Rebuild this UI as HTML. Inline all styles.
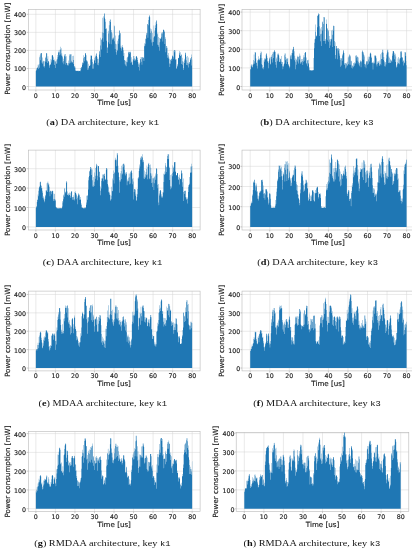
<!DOCTYPE html>
<html><head><meta charset="utf-8"><title>Power consumption</title>
<style>
html,body{margin:0;padding:0;background:#fff;}
body{width:412px;height:550px;overflow:hidden;}
svg{display:block;}
.tk{font-family:"DejaVu Sans","Liberation Sans",sans-serif;font-size:6.3px;fill:#1a1a1a;stroke:#1a1a1a;stroke-width:0.15px;}
.al{font-family:"DejaVu Sans","Liberation Sans",sans-serif;font-size:7.15px;fill:#1a1a1a;stroke:#1a1a1a;stroke-width:0.15px;}
.xl{font-size:7.1px;}
.cap{font-family:"Liberation Serif","DejaVu Serif",serif;font-size:9.2px;fill:#111;}
.cap .b{font-weight:bold;}
.cap .mono{font-family:"Liberation Mono",monospace;font-size:7.9px;}
</style></head><body>
<svg width="412" height="550" viewBox="0 0 412 550">
<rect width="412" height="550" fill="#fff"/>
<line x1="35.85" y1="9.3" x2="35.85" y2="90" stroke="#d4d4d4" stroke-width="0.5"/>
<line x1="55.39" y1="9.3" x2="55.39" y2="90" stroke="#d4d4d4" stroke-width="0.5"/>
<line x1="74.93" y1="9.3" x2="74.93" y2="90" stroke="#d4d4d4" stroke-width="0.5"/>
<line x1="94.47" y1="9.3" x2="94.47" y2="90" stroke="#d4d4d4" stroke-width="0.5"/>
<line x1="114.01" y1="9.3" x2="114.01" y2="90" stroke="#d4d4d4" stroke-width="0.5"/>
<line x1="133.55" y1="9.3" x2="133.55" y2="90" stroke="#d4d4d4" stroke-width="0.5"/>
<line x1="153.09" y1="9.3" x2="153.09" y2="90" stroke="#d4d4d4" stroke-width="0.5"/>
<line x1="172.63" y1="9.3" x2="172.63" y2="90" stroke="#d4d4d4" stroke-width="0.5"/>
<line x1="192.17" y1="9.3" x2="192.17" y2="90" stroke="#d4d4d4" stroke-width="0.5"/>
<line x1="28.3" y1="86.50" x2="200.1" y2="86.50" stroke="#d4d4d4" stroke-width="0.5"/>
<line x1="28.3" y1="68.45" x2="200.1" y2="68.45" stroke="#d4d4d4" stroke-width="0.5"/>
<line x1="28.3" y1="50.40" x2="200.1" y2="50.40" stroke="#d4d4d4" stroke-width="0.5"/>
<line x1="28.3" y1="32.35" x2="200.1" y2="32.35" stroke="#d4d4d4" stroke-width="0.5"/>
<line x1="28.3" y1="14.30" x2="200.1" y2="14.30" stroke="#d4d4d4" stroke-width="0.5"/>
<path d="M35.85,86.50 L35.85,70.95 L36.18,70.95 L36.18,70.12 L36.51,70.12 L36.51,68.75 L36.85,68.75 L36.85,68.06 L37.18,68.06 L37.18,67.13 L37.51,67.13 L37.51,67.78 L37.84,67.78 L37.84,64.72 L38.18,64.72 L38.18,65.57 L38.51,65.57 L38.51,69.12 L38.84,69.12 L38.84,64.00 L39.17,64.00 L39.17,67.78 L39.50,67.78 L39.50,57.15 L39.84,57.15 L39.84,55.44 L40.17,55.44 L40.17,60.36 L40.50,60.36 L40.50,53.76 L40.83,53.76 L40.83,53.11 L41.16,53.11 L41.16,53.11 L41.50,53.11 L41.50,53.21 L41.83,53.21 L41.83,62.64 L42.16,62.64 L42.16,57.53 L42.49,57.53 L42.49,63.64 L42.83,63.64 L42.83,61.81 L43.16,61.81 L43.16,60.84 L43.49,60.84 L43.49,66.59 L43.82,66.59 L43.82,60.94 L44.15,60.94 L44.15,65.95 L44.49,65.95 L44.49,67.53 L44.82,67.53 L44.82,61.34 L45.15,61.34 L45.15,56.66 L45.48,56.66 L45.48,57.98 L45.82,57.98 L45.82,62.11 L46.15,62.11 L46.15,53.35 L46.48,53.35 L46.48,53.11 L46.81,53.11 L46.81,53.38 L47.14,53.38 L47.14,63.10 L47.48,63.10 L47.48,58.82 L47.81,58.82 L47.81,56.26 L48.14,56.26 L48.14,60.91 L48.47,60.91 L48.47,61.27 L48.81,61.27 L48.81,62.13 L49.14,62.13 L49.14,65.54 L49.47,65.54 L49.47,67.84 L49.80,67.84 L49.80,64.67 L50.13,64.67 L50.13,64.14 L50.47,64.14 L50.47,64.85 L50.80,64.85 L50.80,59.04 L51.13,59.04 L51.13,62.60 L51.46,62.60 L51.46,60.22 L51.79,60.22 L51.79,55.40 L52.13,55.40 L52.13,54.91 L52.46,54.91 L52.46,54.91 L52.79,54.91 L52.79,55.67 L53.12,55.67 L53.12,57.13 L53.46,57.13 L53.46,59.88 L53.79,59.88 L53.79,60.29 L54.12,60.29 L54.12,59.55 L54.45,59.55 L54.45,64.91 L54.78,64.91 L54.78,61.19 L55.12,61.19 L55.12,61.83 L55.45,61.83 L55.45,68.12 L55.78,68.12 L55.78,60.92 L56.11,60.92 L56.11,59.46 L56.45,59.46 L56.45,63.76 L56.78,63.76 L56.78,63.43 L57.11,63.43 L57.11,54.91 L57.44,54.91 L57.44,59.21 L57.77,59.21 L57.77,57.37 L58.11,57.37 L58.11,52.82 L58.44,52.82 L58.44,52.01 L58.77,52.01 L58.77,50.41 L59.10,50.41 L59.10,52.27 L59.43,52.27 L59.43,55.25 L59.77,55.25 L59.77,49.73 L60.10,49.73 L60.10,46.79 L60.43,46.79 L60.43,49.42 L60.76,49.42 L60.76,54.44 L61.10,54.44 L61.10,48.25 L61.43,48.25 L61.43,55.83 L61.76,55.83 L61.76,53.15 L62.09,53.15 L62.09,55.67 L62.42,55.67 L62.42,57.13 L62.76,57.13 L62.76,62.44 L63.09,62.44 L63.09,61.09 L63.42,61.09 L63.42,58.85 L63.75,58.85 L63.75,64.14 L64.09,64.14 L64.09,56.31 L64.42,56.31 L64.42,55.21 L64.75,55.21 L64.75,54.01 L65.08,54.01 L65.08,54.01 L65.41,54.01 L65.41,56.39 L65.75,56.39 L65.75,64.73 L66.08,64.73 L66.08,56.27 L66.41,56.27 L66.41,62.99 L66.74,62.99 L66.74,63.07 L67.07,63.07 L67.07,65.06 L67.41,65.06 L67.41,65.54 L67.74,65.54 L67.74,63.57 L68.07,63.57 L68.07,65.47 L68.40,65.47 L68.40,60.40 L68.74,60.40 L68.74,63.03 L69.07,63.03 L69.07,63.60 L69.40,63.60 L69.40,55.61 L69.73,55.61 L69.73,54.01 L70.06,54.01 L70.06,54.01 L70.40,54.01 L70.40,54.80 L70.73,54.80 L70.73,62.85 L71.06,62.85 L71.06,54.37 L71.39,54.37 L71.39,60.75 L71.73,60.75 L71.73,62.37 L72.06,62.37 L72.06,62.56 L72.39,62.56 L72.39,62.33 L72.72,62.33 L72.72,56.11 L73.05,56.11 L73.05,55.85 L73.39,55.85 L73.39,60.11 L73.72,60.11 L73.72,63.89 L74.05,63.89 L74.05,67.51 L74.38,67.51 L74.38,66.28 L74.72,66.28 L74.72,66.03 L75.05,66.03 L75.05,67.45 L75.38,67.45 L75.38,70.60 L75.71,70.60 L75.71,70.68 L76.04,70.68 L76.04,70.69 L76.38,70.69 L76.38,70.91 L76.71,70.91 L76.71,70.75 L77.04,70.75 L77.04,70.86 L77.37,70.86 L77.37,70.73 L77.70,70.73 L77.70,71.01 L78.04,71.01 L78.04,70.63 L78.37,70.63 L78.37,71.13 L78.70,71.13 L78.70,70.78 L79.03,70.78 L79.03,70.91 L79.37,70.91 L79.37,70.70 L79.70,70.70 L79.70,71.03 L80.03,71.03 L80.03,70.18 L80.36,70.18 L80.36,71.13 L80.69,71.13 L80.69,68.12 L81.03,68.12 L81.03,67.00 L81.36,67.00 L81.36,66.72 L81.69,66.72 L81.69,68.54 L82.02,68.54 L82.02,64.73 L82.36,64.73 L82.36,62.22 L82.69,62.22 L82.69,63.11 L83.02,63.11 L83.02,63.16 L83.35,63.16 L83.35,55.29 L83.68,55.29 L83.68,58.15 L84.02,58.15 L84.02,61.31 L84.35,61.31 L84.35,57.06 L84.68,57.06 L84.68,56.83 L85.01,56.83 L85.01,54.27 L85.34,54.27 L85.34,53.11 L85.68,53.11 L85.68,53.11 L86.01,53.11 L86.01,55.28 L86.34,55.28 L86.34,59.95 L86.67,59.95 L86.67,61.19 L87.01,61.19 L87.01,60.84 L87.34,60.84 L87.34,61.73 L87.67,61.73 L87.67,69.69 L88.00,69.69 L88.00,69.38 L88.33,69.38 L88.33,63.70 L88.67,63.70 L88.67,67.78 L89.00,67.78 L89.00,65.43 L89.33,65.43 L89.33,65.88 L89.66,65.88 L89.66,65.91 L90.00,65.91 L90.00,59.38 L90.33,59.38 L90.33,65.30 L90.66,65.30 L90.66,55.54 L90.99,55.54 L90.99,55.45 L91.32,55.45 L91.32,55.45 L91.66,55.45 L91.66,55.90 L91.99,55.90 L91.99,61.90 L92.32,61.90 L92.32,59.27 L92.65,59.27 L92.65,68.76 L92.98,68.76 L92.98,64.13 L93.32,64.13 L93.32,63.46 L93.65,63.46 L93.65,68.72 L93.98,68.72 L93.98,60.41 L94.31,60.41 L94.31,60.25 L94.65,60.25 L94.65,57.85 L94.98,57.85 L94.98,62.91 L95.31,62.91 L95.31,56.81 L95.64,56.81 L95.64,55.61 L95.97,55.61 L95.97,53.47 L96.31,53.47 L96.31,53.47 L96.64,53.47 L96.64,55.88 L96.97,55.88 L96.97,57.13 L97.30,57.13 L97.30,64.75 L97.64,64.75 L97.64,59.07 L97.97,59.07 L97.97,58.84 L98.30,58.84 L98.30,62.68 L98.63,62.68 L98.63,65.25 L98.96,65.25 L98.96,54.59 L99.30,54.59 L99.30,51.06 L99.63,51.06 L99.63,51.39 L99.96,51.39 L99.96,57.11 L100.29,57.11 L100.29,45.62 L100.63,45.62 L100.63,37.64 L100.96,37.64 L100.96,39.38 L101.29,39.38 L101.29,39.68 L101.62,39.68 L101.62,49.50 L101.95,49.50 L101.95,32.62 L102.29,32.62 L102.29,38.24 L102.62,38.24 L102.62,17.65 L102.95,17.65 L102.95,41.73 L103.28,41.73 L103.28,33.05 L103.61,33.05 L103.61,16.18 L103.95,16.18 L103.95,17.68 L104.28,17.68 L104.28,13.40 L104.61,13.40 L104.61,13.40 L104.94,13.40 L104.94,18.97 L105.28,18.97 L105.28,29.10 L105.61,29.10 L105.61,21.72 L105.94,21.72 L105.94,28.41 L106.27,28.41 L106.27,28.48 L106.60,28.48 L106.60,40.68 L106.94,40.68 L106.94,53.05 L107.27,53.05 L107.27,46.99 L107.60,46.99 L107.60,48.02 L107.93,48.02 L107.93,42.18 L108.27,42.18 L108.27,30.72 L108.60,30.72 L108.60,33.41 L108.93,33.41 L108.93,25.24 L109.26,25.24 L109.26,43.73 L109.59,43.73 L109.59,21.12 L109.93,21.12 L109.93,19.35 L110.26,19.35 L110.26,21.92 L110.59,21.92 L110.59,19.83 L110.92,19.83 L110.92,44.33 L111.25,44.33 L111.25,30.11 L111.59,30.11 L111.59,32.01 L111.92,32.01 L111.92,33.35 L112.25,33.35 L112.25,38.59 L112.58,38.59 L112.58,39.84 L112.92,39.84 L112.92,37.75 L113.25,37.75 L113.25,39.24 L113.58,39.24 L113.58,37.59 L113.91,37.59 L113.91,25.58 L114.24,25.58 L114.24,26.32 L114.58,26.32 L114.58,41.20 L114.91,41.20 L114.91,48.95 L115.24,48.95 L115.24,43.76 L115.57,43.76 L115.57,35.51 L115.91,35.51 L115.91,52.26 L116.24,52.26 L116.24,44.27 L116.57,44.27 L116.57,54.64 L116.90,54.64 L116.90,49.86 L117.23,49.86 L117.23,50.84 L117.57,50.84 L117.57,40.80 L117.90,40.80 L117.90,43.81 L118.23,43.81 L118.23,35.40 L118.56,35.40 L118.56,38.82 L118.90,38.82 L118.90,35.12 L119.23,35.12 L119.23,30.55 L119.56,30.55 L119.56,30.55 L119.89,30.55 L119.89,33.56 L120.22,33.56 L120.22,33.01 L120.56,33.01 L120.56,47.69 L120.89,47.69 L120.89,45.73 L121.22,45.73 L121.22,50.87 L121.55,50.87 L121.55,48.42 L121.88,48.42 L121.88,47.08 L122.22,47.08 L122.22,44.98 L122.55,44.98 L122.55,47.28 L122.88,47.28 L122.88,47.75 L123.21,47.75 L123.21,50.13 L123.55,50.13 L123.55,56.09 L123.88,56.09 L123.88,53.09 L124.21,53.09 L124.21,60.20 L124.54,60.20 L124.54,60.10 L124.87,60.10 L124.87,64.29 L125.21,64.29 L125.21,65.49 L125.54,65.49 L125.54,60.70 L125.87,60.70 L125.87,60.45 L126.20,60.45 L126.20,61.88 L126.54,61.88 L126.54,66.13 L126.87,66.13 L126.87,57.83 L127.20,57.83 L127.20,62.26 L127.53,62.26 L127.53,56.98 L127.86,56.98 L127.86,56.45 L128.20,56.45 L128.20,52.74 L128.53,52.74 L128.53,51.84 L128.86,51.84 L128.86,51.84 L129.19,51.84 L129.19,53.66 L129.52,53.66 L129.52,52.05 L129.86,52.05 L129.86,51.84 L130.19,51.84 L130.19,51.84 L130.52,51.84 L130.52,52.72 L130.85,52.72 L130.85,62.96 L131.19,62.96 L131.19,57.31 L131.52,57.31 L131.52,61.72 L131.85,61.72 L131.85,61.85 L132.18,61.85 L132.18,64.38 L132.51,64.38 L132.51,65.09 L132.85,65.09 L132.85,58.88 L133.18,58.88 L133.18,60.15 L133.51,60.15 L133.51,56.00 L133.84,56.00 L133.84,56.00 L134.18,56.00 L134.18,58.31 L134.51,58.31 L134.51,60.79 L134.84,60.79 L134.84,59.16 L135.17,59.16 L135.17,59.38 L135.50,59.38 L135.50,60.39 L135.84,60.39 L135.84,56.73 L136.17,56.73 L136.17,56.00 L136.50,56.00 L136.50,56.00 L136.83,56.00 L136.83,57.11 L137.16,57.11 L137.16,57.94 L137.50,57.94 L137.50,60.09 L137.83,60.09 L137.83,62.12 L138.16,62.12 L138.16,64.22 L138.49,64.22 L138.49,67.01 L138.83,67.01 L138.83,62.70 L139.16,62.70 L139.16,70.62 L139.49,70.62 L139.49,64.39 L139.82,64.39 L139.82,62.87 L140.15,62.87 L140.15,59.37 L140.49,59.37 L140.49,58.88 L140.82,58.88 L140.82,56.90 L141.15,56.90 L141.15,57.21 L141.48,57.21 L141.48,61.73 L141.82,61.73 L141.82,64.72 L142.15,64.72 L142.15,58.41 L142.48,58.41 L142.48,56.90 L142.81,56.90 L142.81,56.90 L143.14,56.90 L143.14,57.56 L143.48,57.56 L143.48,57.99 L143.81,57.99 L143.81,61.00 L144.14,61.00 L144.14,46.26 L144.47,46.26 L144.47,43.15 L144.81,43.15 L144.81,45.69 L145.14,45.69 L145.14,38.54 L145.47,38.54 L145.47,43.66 L145.80,43.66 L145.80,39.08 L146.13,39.08 L146.13,33.21 L146.47,33.21 L146.47,35.15 L146.80,35.15 L146.80,32.88 L147.13,32.88 L147.13,24.21 L147.46,24.21 L147.46,24.02 L147.79,24.02 L147.79,37.87 L148.13,37.87 L148.13,25.15 L148.46,25.15 L148.46,20.03 L148.79,20.03 L148.79,16.89 L149.12,16.89 L149.12,15.38 L149.46,15.38 L149.46,15.38 L149.79,15.38 L149.79,17.34 L150.12,17.34 L150.12,33.06 L150.45,33.06 L150.45,28.46 L150.78,28.46 L150.78,39.42 L151.12,39.42 L151.12,31.17 L151.45,31.17 L151.45,29.29 L151.78,29.29 L151.78,42.57 L152.11,42.57 L152.11,45.74 L152.45,45.74 L152.45,33.06 L152.78,33.06 L152.78,41.80 L153.11,41.80 L153.11,41.92 L153.44,41.92 L153.44,37.50 L153.77,37.50 L153.77,25.50 L154.11,25.50 L154.11,36.05 L154.44,36.05 L154.44,36.82 L154.77,36.82 L154.77,30.46 L155.10,30.46 L155.10,28.06 L155.43,28.06 L155.43,25.19 L155.77,25.19 L155.77,22.24 L156.10,22.24 L156.10,20.44 L156.43,20.44 L156.43,20.44 L156.76,20.44 L156.76,23.98 L157.10,23.98 L157.10,44.87 L157.43,44.87 L157.43,34.31 L157.76,34.31 L157.76,32.63 L158.09,32.63 L158.09,36.97 L158.42,36.97 L158.42,45.32 L158.76,45.32 L158.76,47.10 L159.09,47.10 L159.09,50.83 L159.42,50.83 L159.42,38.10 L159.75,38.10 L159.75,42.15 L160.09,42.15 L160.09,38.74 L160.42,38.74 L160.42,38.24 L160.75,38.24 L160.75,38.89 L161.08,38.89 L161.08,37.34 L161.41,37.34 L161.41,33.58 L161.75,33.58 L161.75,32.61 L162.08,32.61 L162.08,33.61 L162.41,33.61 L162.41,31.91 L162.74,31.91 L162.74,41.60 L163.07,41.60 L163.07,29.70 L163.41,29.70 L163.41,29.64 L163.74,29.64 L163.74,29.64 L164.07,29.64 L164.07,31.93 L164.40,31.93 L164.40,30.77 L164.74,30.77 L164.74,44.07 L165.07,44.07 L165.07,39.11 L165.40,39.11 L165.40,37.24 L165.73,37.24 L165.73,52.32 L166.06,52.32 L166.06,48.23 L166.40,48.23 L166.40,45.89 L166.73,45.89 L166.73,45.89 L167.06,45.89 L167.06,47.68 L167.39,47.68 L167.39,57.81 L167.73,57.81 L167.73,54.92 L168.06,54.92 L168.06,58.45 L168.39,58.45 L168.39,53.03 L168.72,53.03 L168.72,56.45 L169.05,56.45 L169.05,63.50 L169.39,63.50 L169.39,58.70 L169.72,58.70 L169.72,66.91 L170.05,66.91 L170.05,59.75 L170.38,59.75 L170.38,63.65 L170.72,63.65 L170.72,59.84 L171.05,59.84 L171.05,59.02 L171.38,59.02 L171.38,58.59 L171.71,58.59 L171.71,60.73 L172.04,60.73 L172.04,55.18 L172.38,55.18 L172.38,56.30 L172.71,56.30 L172.71,56.37 L173.04,56.37 L173.04,56.68 L173.37,56.68 L173.37,58.68 L173.70,58.68 L173.70,50.85 L174.04,50.85 L174.04,50.04 L174.37,50.04 L174.37,50.04 L174.70,50.04 L174.70,52.24 L175.03,52.24 L175.03,50.54 L175.37,50.54 L175.37,59.15 L175.70,59.15 L175.70,59.68 L176.03,59.68 L176.03,59.37 L176.36,59.37 L176.36,68.49 L176.69,68.49 L176.69,68.75 L177.03,68.75 L177.03,63.88 L177.36,63.88 L177.36,65.38 L177.69,65.38 L177.69,66.48 L178.02,66.48 L178.02,57.78 L178.36,57.78 L178.36,58.14 L178.69,58.14 L178.69,57.96 L179.02,57.96 L179.02,54.80 L179.35,54.80 L179.35,52.74 L179.68,52.74 L179.68,50.94 L180.02,50.94 L180.02,52.20 L180.35,52.20 L180.35,55.83 L180.68,55.83 L180.68,56.04 L181.01,56.04 L181.01,63.91 L181.34,63.91 L181.34,54.98 L181.68,54.98 L181.68,54.33 L182.01,54.33 L182.01,64.72 L182.34,64.72 L182.34,57.67 L182.67,57.67 L182.67,61.29 L183.01,61.29 L183.01,61.72 L183.34,61.72 L183.34,69.93 L183.67,69.93 L183.67,68.27 L184.00,68.27 L184.00,60.61 L184.33,60.61 L184.33,58.70 L184.67,58.70 L184.67,63.08 L185.00,63.08 L185.00,54.80 L185.33,54.80 L185.33,52.57 L185.66,52.57 L185.66,52.97 L186.00,52.97 L186.00,60.34 L186.33,60.34 L186.33,56.76 L186.66,56.76 L186.66,65.11 L186.99,65.11 L186.99,55.95 L187.32,55.95 L187.32,62.82 L187.66,62.82 L187.66,65.17 L187.99,65.17 L187.99,57.56 L188.32,57.56 L188.32,67.58 L188.65,67.58 L188.65,63.56 L188.98,63.56 L188.98,61.95 L189.32,61.95 L189.32,63.71 L189.65,63.71 L189.65,62.16 L189.98,62.16 L189.98,58.63 L190.31,58.63 L190.31,58.05 L190.65,58.05 L190.65,60.08 L190.98,60.08 L190.98,65.53 L191.31,65.53 L191.31,54.51 L191.64,54.51 L191.64,56.96 L191.97,56.96 L191.97,59.56 L192.17,59.56 L192.17,86.50Z" fill="#1f77b4"/>
<rect x="28.3" y="9.3" width="171.79999999999998" height="80.7" fill="none" stroke="#b8b8b8" stroke-width="0.6"/>
<line x1="35.85" y1="90" x2="35.85" y2="91.6" stroke="#9a9a9a" stroke-width="0.5"/>
<text x="35.85" y="97.50" class="tk" text-anchor="middle">0</text>
<line x1="55.39" y1="90" x2="55.39" y2="91.6" stroke="#9a9a9a" stroke-width="0.5"/>
<text x="55.39" y="97.50" class="tk" text-anchor="middle">10</text>
<line x1="74.93" y1="90" x2="74.93" y2="91.6" stroke="#9a9a9a" stroke-width="0.5"/>
<text x="74.93" y="97.50" class="tk" text-anchor="middle">20</text>
<line x1="94.47" y1="90" x2="94.47" y2="91.6" stroke="#9a9a9a" stroke-width="0.5"/>
<text x="94.47" y="97.50" class="tk" text-anchor="middle">30</text>
<line x1="114.01" y1="90" x2="114.01" y2="91.6" stroke="#9a9a9a" stroke-width="0.5"/>
<text x="114.01" y="97.50" class="tk" text-anchor="middle">40</text>
<line x1="133.55" y1="90" x2="133.55" y2="91.6" stroke="#9a9a9a" stroke-width="0.5"/>
<text x="133.55" y="97.50" class="tk" text-anchor="middle">50</text>
<line x1="153.09" y1="90" x2="153.09" y2="91.6" stroke="#9a9a9a" stroke-width="0.5"/>
<text x="153.09" y="97.50" class="tk" text-anchor="middle">60</text>
<line x1="172.63" y1="90" x2="172.63" y2="91.6" stroke="#9a9a9a" stroke-width="0.5"/>
<text x="172.63" y="97.50" class="tk" text-anchor="middle">70</text>
<line x1="192.17" y1="90" x2="192.17" y2="91.6" stroke="#9a9a9a" stroke-width="0.5"/>
<text x="192.17" y="97.50" class="tk" text-anchor="middle">80</text>
<line x1="26.7" y1="86.50" x2="28.3" y2="86.50" stroke="#9a9a9a" stroke-width="0.5"/>
<text x="26.00" y="89.50" class="tk" text-anchor="end">0</text>
<line x1="26.7" y1="68.45" x2="28.3" y2="68.45" stroke="#9a9a9a" stroke-width="0.5"/>
<text x="26.00" y="71.45" class="tk" text-anchor="end">100</text>
<line x1="26.7" y1="50.40" x2="28.3" y2="50.40" stroke="#9a9a9a" stroke-width="0.5"/>
<text x="26.00" y="53.40" class="tk" text-anchor="end">200</text>
<line x1="26.7" y1="32.35" x2="28.3" y2="32.35" stroke="#9a9a9a" stroke-width="0.5"/>
<text x="26.00" y="35.35" class="tk" text-anchor="end">300</text>
<line x1="26.7" y1="14.30" x2="28.3" y2="14.30" stroke="#9a9a9a" stroke-width="0.5"/>
<text x="26.00" y="17.30" class="tk" text-anchor="end">400</text>
<text x="114.20" y="105.00" class="al xl" text-anchor="middle">Time [us]</text>
<text transform="translate(10.00,48.75) rotate(-90)" class="al" text-anchor="middle">Power consumption [mW]</text>
<text transform="translate(102.6,124.9) scale(1.115,1)" class="cap" text-anchor="middle">(<tspan class="b">a</tspan>) DA architecture, key <tspan class="mono">k1</tspan></text>
<line x1="250.20" y1="9.3" x2="250.20" y2="90" stroke="#d4d4d4" stroke-width="0.5"/>
<line x1="269.75" y1="9.3" x2="269.75" y2="90" stroke="#d4d4d4" stroke-width="0.5"/>
<line x1="289.30" y1="9.3" x2="289.30" y2="90" stroke="#d4d4d4" stroke-width="0.5"/>
<line x1="308.85" y1="9.3" x2="308.85" y2="90" stroke="#d4d4d4" stroke-width="0.5"/>
<line x1="328.40" y1="9.3" x2="328.40" y2="90" stroke="#d4d4d4" stroke-width="0.5"/>
<line x1="347.95" y1="9.3" x2="347.95" y2="90" stroke="#d4d4d4" stroke-width="0.5"/>
<line x1="367.50" y1="9.3" x2="367.50" y2="90" stroke="#d4d4d4" stroke-width="0.5"/>
<line x1="387.05" y1="9.3" x2="387.05" y2="90" stroke="#d4d4d4" stroke-width="0.5"/>
<line x1="406.60" y1="9.3" x2="406.60" y2="90" stroke="#d4d4d4" stroke-width="0.5"/>
<line x1="242" y1="86.50" x2="414" y2="86.50" stroke="#d4d4d4" stroke-width="0.5"/>
<line x1="242" y1="67.90" x2="414" y2="67.90" stroke="#d4d4d4" stroke-width="0.5"/>
<line x1="242" y1="49.30" x2="414" y2="49.30" stroke="#d4d4d4" stroke-width="0.5"/>
<line x1="242" y1="30.70" x2="414" y2="30.70" stroke="#d4d4d4" stroke-width="0.5"/>
<line x1="242" y1="12.10" x2="414" y2="12.10" stroke="#d4d4d4" stroke-width="0.5"/>
<path d="M250.20,86.50 L250.20,68.88 L250.53,68.88 L250.53,69.50 L250.86,69.50 L250.86,65.43 L251.20,65.43 L251.20,64.53 L251.53,64.53 L251.53,66.43 L251.86,66.43 L251.86,64.36 L252.19,64.36 L252.19,67.61 L252.53,67.61 L252.53,66.67 L252.86,66.67 L252.86,65.05 L253.19,65.05 L253.19,59.93 L253.52,59.93 L253.52,63.81 L253.86,63.81 L253.86,54.56 L254.19,54.56 L254.19,63.82 L254.52,63.82 L254.52,61.22 L254.85,61.22 L254.85,51.90 L255.19,51.90 L255.19,51.90 L255.52,51.90 L255.52,52.95 L255.85,52.95 L255.85,58.39 L256.18,58.39 L256.18,62.93 L256.51,62.93 L256.51,62.47 L256.85,62.47 L256.85,65.87 L257.18,65.87 L257.18,68.59 L257.51,68.59 L257.51,60.39 L257.84,60.39 L257.84,60.03 L258.18,60.03 L258.18,58.90 L258.51,58.90 L258.51,56.18 L258.84,56.18 L258.84,60.48 L259.17,60.48 L259.17,60.01 L259.51,60.01 L259.51,58.81 L259.84,58.81 L259.84,58.34 L260.17,58.34 L260.17,54.82 L260.50,54.82 L260.50,52.92 L260.84,52.92 L260.84,51.35 L261.17,51.35 L261.17,52.21 L261.50,52.21 L261.50,64.30 L261.83,64.30 L261.83,58.05 L262.16,58.05 L262.16,64.98 L262.50,64.98 L262.50,68.53 L262.83,68.53 L262.83,68.10 L263.16,68.10 L263.16,69.26 L263.49,69.26 L263.49,67.04 L263.83,67.04 L263.83,60.26 L264.16,60.26 L264.16,58.43 L264.49,58.43 L264.49,61.74 L264.82,61.74 L264.82,58.16 L265.16,58.16 L265.16,59.49 L265.49,59.49 L265.49,58.70 L265.82,58.70 L265.82,54.76 L266.15,54.76 L266.15,53.58 L266.49,53.58 L266.49,53.58 L266.82,53.58 L266.82,56.24 L267.15,56.24 L267.15,61.39 L267.48,61.39 L267.48,58.07 L267.81,58.07 L267.81,61.32 L268.15,61.32 L268.15,62.88 L268.48,62.88 L268.48,68.25 L268.81,68.25 L268.81,61.23 L269.14,61.23 L269.14,59.21 L269.48,59.21 L269.48,57.66 L269.81,57.66 L269.81,57.59 L270.14,57.59 L270.14,64.53 L270.47,64.53 L270.47,63.78 L270.81,63.78 L270.81,56.77 L271.14,56.77 L271.14,57.01 L271.47,57.01 L271.47,55.19 L271.80,55.19 L271.80,59.29 L272.14,59.29 L272.14,54.08 L272.47,54.08 L272.47,62.38 L272.80,62.38 L272.80,52.14 L273.13,52.14 L273.13,52.23 L273.46,52.23 L273.46,58.01 L273.80,58.01 L273.80,51.60 L274.13,51.60 L274.13,50.23 L274.46,50.23 L274.46,50.23 L274.79,50.23 L274.79,52.09 L275.13,52.09 L275.13,51.74 L275.46,51.74 L275.46,62.00 L275.79,62.00 L275.79,64.70 L276.12,64.70 L276.12,67.85 L276.46,67.85 L276.46,58.43 L276.79,58.43 L276.79,57.17 L277.12,57.17 L277.12,61.34 L277.45,61.34 L277.45,54.53 L277.79,54.53 L277.79,53.58 L278.12,53.58 L278.12,53.58 L278.45,53.58 L278.45,54.76 L278.78,54.76 L278.78,55.49 L279.11,55.49 L279.11,62.04 L279.45,62.04 L279.45,61.78 L279.78,61.78 L279.78,57.64 L280.11,57.64 L280.11,58.97 L280.44,58.97 L280.44,59.35 L280.78,59.35 L280.78,61.76 L281.11,61.76 L281.11,55.93 L281.44,55.93 L281.44,64.06 L281.77,64.06 L281.77,61.87 L282.11,61.87 L282.11,61.90 L282.44,61.90 L282.44,66.28 L282.77,66.28 L282.77,69.15 L283.10,69.15 L283.10,65.84 L283.44,65.84 L283.44,66.72 L283.77,66.72 L283.77,64.28 L284.10,64.28 L284.10,63.53 L284.43,63.53 L284.43,55.31 L284.76,55.31 L284.76,53.58 L285.10,53.58 L285.10,53.58 L285.43,53.58 L285.43,60.22 L285.76,60.22 L285.76,57.08 L286.09,57.08 L286.09,58.59 L286.43,58.59 L286.43,64.07 L286.76,64.07 L286.76,59.25 L287.09,59.25 L287.09,62.06 L287.42,62.06 L287.42,58.54 L287.76,58.54 L287.76,58.26 L288.09,58.26 L288.09,64.46 L288.42,64.46 L288.42,64.28 L288.75,64.28 L288.75,65.78 L289.08,65.78 L289.08,66.54 L289.42,66.54 L289.42,68.32 L289.75,68.32 L289.75,66.85 L290.08,66.85 L290.08,54.75 L290.41,54.75 L290.41,56.19 L290.75,56.19 L290.75,58.66 L291.08,58.66 L291.08,55.23 L291.41,55.23 L291.41,59.27 L291.74,59.27 L291.74,52.89 L292.08,52.89 L292.08,49.20 L292.41,49.20 L292.41,50.19 L292.74,50.19 L292.74,53.30 L293.07,53.30 L293.07,46.88 L293.41,46.88 L293.41,46.70 L293.74,46.70 L293.74,49.11 L294.07,49.11 L294.07,51.30 L294.40,51.30 L294.40,60.16 L294.73,60.16 L294.73,55.80 L295.07,55.80 L295.07,58.39 L295.40,58.39 L295.40,69.14 L295.73,69.14 L295.73,61.75 L296.06,61.75 L296.06,64.83 L296.40,64.83 L296.40,59.98 L296.73,59.98 L296.73,58.70 L297.06,58.70 L297.06,55.79 L297.39,55.79 L297.39,57.10 L297.73,57.10 L297.73,61.58 L298.06,61.58 L298.06,57.11 L298.39,57.11 L298.39,63.56 L298.72,63.56 L298.72,56.60 L299.06,56.60 L299.06,59.59 L299.39,59.59 L299.39,55.67 L299.72,55.67 L299.72,53.58 L300.05,53.58 L300.05,55.69 L300.38,55.69 L300.38,62.46 L300.72,62.46 L300.72,63.97 L301.05,63.97 L301.05,59.07 L301.38,59.07 L301.38,61.87 L301.71,61.87 L301.71,62.62 L302.05,62.62 L302.05,58.89 L302.38,58.89 L302.38,61.12 L302.71,61.12 L302.71,65.03 L303.04,65.03 L303.04,61.77 L303.38,61.77 L303.38,57.51 L303.71,57.51 L303.71,55.20 L304.04,55.20 L304.04,52.97 L304.37,52.97 L304.37,57.19 L304.71,57.19 L304.71,60.73 L305.04,60.73 L305.04,52.09 L305.37,52.09 L305.37,51.90 L305.70,51.90 L305.70,52.86 L306.03,52.86 L306.03,57.46 L306.37,57.46 L306.37,62.94 L306.70,62.94 L306.70,64.14 L307.03,64.14 L307.03,66.20 L307.36,66.20 L307.36,60.18 L307.70,60.18 L307.70,60.23 L308.03,60.23 L308.03,59.64 L308.36,59.64 L308.36,64.30 L308.69,64.30 L308.69,63.04 L309.03,63.04 L309.03,67.55 L309.36,67.55 L309.36,69.84 L309.69,69.84 L309.69,70.50 L310.02,70.50 L310.02,70.40 L310.36,70.40 L310.36,70.24 L310.69,70.24 L310.69,69.99 L311.02,69.99 L311.02,70.41 L311.35,70.41 L311.35,70.46 L311.68,70.46 L311.68,70.16 L312.02,70.16 L312.02,70.36 L312.35,70.36 L312.35,70.27 L312.68,70.27 L312.68,70.54 L313.01,70.54 L313.01,70.13 L313.35,70.13 L313.35,70.11 L313.68,70.11 L313.68,57.88 L314.01,57.88 L314.01,39.36 L314.34,39.36 L314.34,42.77 L314.68,42.77 L314.68,48.15 L315.01,48.15 L315.01,38.65 L315.34,38.65 L315.34,24.59 L315.67,24.59 L315.67,31.67 L316.01,31.67 L316.01,35.84 L316.34,35.84 L316.34,36.44 L316.67,36.44 L316.67,35.39 L317.00,35.39 L317.00,27.19 L317.33,27.19 L317.33,15.55 L317.67,15.55 L317.67,15.92 L318.00,15.92 L318.00,14.89 L318.33,14.89 L318.33,13.40 L318.66,13.40 L318.66,13.40 L319.00,13.40 L319.00,14.06 L319.33,14.06 L319.33,35.97 L319.66,35.97 L319.66,26.31 L319.99,26.31 L319.99,28.55 L320.33,28.55 L320.33,34.26 L320.66,34.26 L320.66,41.24 L320.99,41.24 L320.99,46.12 L321.32,46.12 L321.32,33.85 L321.66,33.85 L321.66,26.95 L321.99,26.95 L321.99,30.50 L322.32,30.50 L322.32,21.52 L322.65,21.52 L322.65,22.35 L322.98,22.35 L322.98,41.00 L323.32,41.00 L323.32,23.93 L323.65,23.93 L323.65,17.12 L323.98,17.12 L323.98,17.12 L324.31,17.12 L324.31,17.43 L324.65,17.43 L324.65,40.98 L324.98,40.98 L324.98,40.68 L325.31,40.68 L325.31,43.73 L325.64,43.73 L325.64,38.95 L325.98,38.95 L325.98,19.61 L326.31,19.61 L326.31,23.71 L326.64,23.71 L326.64,24.07 L326.97,24.07 L326.97,40.25 L327.31,40.25 L327.31,29.33 L327.64,29.33 L327.64,28.00 L327.97,28.00 L327.97,31.18 L328.30,31.18 L328.30,41.77 L328.63,41.77 L328.63,30.03 L328.97,30.03 L328.97,36.12 L329.30,36.12 L329.30,39.61 L329.63,39.61 L329.63,47.98 L329.96,47.98 L329.96,45.45 L330.30,45.45 L330.30,39.02 L330.63,39.02 L330.63,41.53 L330.96,41.53 L330.96,39.47 L331.29,39.47 L331.29,30.55 L331.63,30.55 L331.63,38.78 L331.96,38.78 L331.96,29.76 L332.29,29.76 L332.29,47.07 L332.62,47.07 L332.62,34.64 L332.96,34.64 L332.96,30.71 L333.29,30.71 L333.29,25.68 L333.62,25.68 L333.62,25.68 L333.95,25.68 L333.95,25.96 L334.28,25.96 L334.28,40.93 L334.62,40.93 L334.62,45.95 L334.95,45.95 L334.95,42.34 L335.28,42.34 L335.28,54.99 L335.61,54.99 L335.61,58.64 L335.95,58.64 L335.95,48.80 L336.28,48.80 L336.28,45.95 L336.61,45.95 L336.61,45.95 L336.94,45.95 L336.94,47.96 L337.28,47.96 L337.28,59.15 L337.61,59.15 L337.61,48.79 L337.94,48.79 L337.94,48.05 L338.27,48.05 L338.27,48.49 L338.61,48.49 L338.61,50.49 L338.94,50.49 L338.94,53.49 L339.27,53.49 L339.27,48.93 L339.60,48.93 L339.60,55.72 L339.93,55.72 L339.93,60.02 L340.27,60.02 L340.27,58.23 L340.60,58.23 L340.60,66.66 L340.93,66.66 L340.93,57.93 L341.26,57.93 L341.26,58.55 L341.60,58.55 L341.60,65.52 L341.93,65.52 L341.93,60.64 L342.26,60.64 L342.26,54.15 L342.59,54.15 L342.59,55.46 L342.93,55.46 L342.93,52.39 L343.26,52.39 L343.26,50.23 L343.59,50.23 L343.59,50.44 L343.92,50.44 L343.92,53.11 L344.26,53.11 L344.26,63.38 L344.59,63.38 L344.59,64.98 L344.92,64.98 L344.92,63.09 L345.25,63.09 L345.25,63.17 L345.58,63.17 L345.58,68.61 L345.92,68.61 L345.92,67.41 L346.25,67.41 L346.25,62.73 L346.58,62.73 L346.58,64.02 L346.91,64.02 L346.91,65.71 L347.25,65.71 L347.25,65.14 L347.58,65.14 L347.58,61.63 L347.91,61.63 L347.91,57.55 L348.24,57.55 L348.24,63.91 L348.58,63.91 L348.58,56.47 L348.91,56.47 L348.91,64.80 L349.24,64.80 L349.24,55.21 L349.57,55.21 L349.57,54.32 L349.91,54.32 L349.91,56.39 L350.24,56.39 L350.24,55.38 L350.57,55.38 L350.57,64.78 L350.90,64.78 L350.90,60.68 L351.23,60.68 L351.23,61.15 L351.57,61.15 L351.57,67.85 L351.90,67.85 L351.90,65.20 L352.23,65.20 L352.23,68.43 L352.56,68.43 L352.56,65.83 L352.90,65.83 L352.90,66.36 L353.23,66.36 L353.23,67.29 L353.56,67.29 L353.56,62.88 L353.89,62.88 L353.89,63.30 L354.23,63.30 L354.23,65.64 L354.56,65.64 L354.56,62.20 L354.89,62.20 L354.89,63.99 L355.22,63.99 L355.22,63.12 L355.55,63.12 L355.55,55.81 L355.89,55.81 L355.89,55.47 L356.22,55.47 L356.22,55.25 L356.55,55.25 L356.55,57.58 L356.88,57.58 L356.88,60.76 L357.22,60.76 L357.22,56.53 L357.55,56.53 L357.55,56.96 L357.88,56.96 L357.88,63.59 L358.21,63.59 L358.21,61.64 L358.55,61.64 L358.55,57.39 L358.88,57.39 L358.88,64.77 L359.21,64.77 L359.21,66.37 L359.54,66.37 L359.54,62.89 L359.88,62.89 L359.88,61.40 L360.21,61.40 L360.21,61.53 L360.54,61.53 L360.54,60.13 L360.87,60.13 L360.87,67.27 L361.20,67.27 L361.20,62.30 L361.54,62.30 L361.54,61.06 L361.87,61.06 L361.87,52.03 L362.20,52.03 L362.20,50.23 L362.53,50.23 L362.53,51.18 L362.87,51.18 L362.87,59.82 L363.20,59.82 L363.20,52.01 L363.53,52.01 L363.53,53.49 L363.86,53.49 L363.86,54.96 L364.20,54.96 L364.20,56.39 L364.53,56.39 L364.53,64.03 L364.86,64.03 L364.86,66.79 L365.19,66.79 L365.19,64.72 L365.53,64.72 L365.53,63.64 L365.86,63.64 L365.86,68.32 L366.19,68.32 L366.19,62.28 L366.52,62.28 L366.52,60.97 L366.85,60.97 L366.85,60.89 L367.19,60.89 L367.19,61.55 L367.52,61.55 L367.52,64.67 L367.85,64.67 L367.85,57.13 L368.18,57.13 L368.18,63.72 L368.52,63.72 L368.52,59.44 L368.85,59.44 L368.85,56.29 L369.18,56.29 L369.18,57.08 L369.51,57.08 L369.51,61.39 L369.85,61.39 L369.85,53.83 L370.18,53.83 L370.18,52.65 L370.51,52.65 L370.51,52.65 L370.84,52.65 L370.84,53.67 L371.18,53.67 L371.18,58.00 L371.51,58.00 L371.51,56.66 L371.84,56.66 L371.84,63.11 L372.17,63.11 L372.17,63.08 L372.50,63.08 L372.50,62.06 L372.84,62.06 L372.84,69.58 L373.17,69.58 L373.17,61.53 L373.50,61.53 L373.50,63.07 L373.83,63.07 L373.83,63.63 L374.17,63.63 L374.17,62.76 L374.50,62.76 L374.50,55.66 L374.83,55.66 L374.83,55.25 L375.16,55.25 L375.16,55.25 L375.50,55.25 L375.50,56.35 L375.83,56.35 L375.83,56.33 L376.16,56.33 L376.16,64.45 L376.49,64.45 L376.49,58.34 L376.83,58.34 L376.83,66.54 L377.16,66.54 L377.16,64.12 L377.49,64.12 L377.49,61.44 L377.82,61.44 L377.82,62.65 L378.15,62.65 L378.15,63.08 L378.49,63.08 L378.49,61.26 L378.82,61.26 L378.82,61.50 L379.15,61.50 L379.15,65.91 L379.48,65.91 L379.48,64.48 L379.82,64.48 L379.82,60.28 L380.15,60.28 L380.15,64.06 L380.48,64.06 L380.48,54.30 L380.81,54.30 L380.81,65.14 L381.15,65.14 L381.15,59.00 L381.48,59.00 L381.48,52.78 L381.81,52.78 L381.81,58.99 L382.14,58.99 L382.14,52.22 L382.48,52.22 L382.48,49.67 L382.81,49.67 L382.81,49.67 L383.14,49.67 L383.14,52.70 L383.47,52.70 L383.47,60.12 L383.80,60.12 L383.80,56.95 L384.14,56.95 L384.14,61.36 L384.47,61.36 L384.47,66.15 L384.80,66.15 L384.80,62.51 L385.13,62.51 L385.13,66.61 L385.47,66.61 L385.47,62.11 L385.80,62.11 L385.80,64.45 L386.13,64.45 L386.13,54.76 L386.46,54.76 L386.46,58.44 L386.80,58.44 L386.80,53.25 L387.13,53.25 L387.13,51.47 L387.46,51.47 L387.46,49.67 L387.79,49.67 L387.79,49.67 L388.13,49.67 L388.13,52.14 L388.46,52.14 L388.46,62.99 L388.79,62.99 L388.79,56.49 L389.12,56.49 L389.12,62.54 L389.45,62.54 L389.45,57.86 L389.79,57.86 L389.79,63.15 L390.12,63.15 L390.12,59.46 L390.45,59.46 L390.45,62.90 L390.78,62.90 L390.78,59.60 L391.12,59.60 L391.12,61.09 L391.45,61.09 L391.45,60.31 L391.78,60.31 L391.78,62.28 L392.11,62.28 L392.11,55.81 L392.45,55.81 L392.45,53.48 L392.78,53.48 L392.78,51.03 L393.11,51.03 L393.11,50.97 L393.44,50.97 L393.44,50.97 L393.78,50.97 L393.78,51.83 L394.11,51.83 L394.11,59.33 L394.44,59.33 L394.44,53.31 L394.77,53.31 L394.77,55.06 L395.10,55.06 L395.10,62.04 L395.44,62.04 L395.44,53.72 L395.77,53.72 L395.77,56.51 L396.10,56.51 L396.10,65.44 L396.43,65.44 L396.43,67.52 L396.77,67.52 L396.77,67.18 L397.10,67.18 L397.10,64.32 L397.43,64.32 L397.43,62.18 L397.76,62.18 L397.76,58.46 L398.10,58.46 L398.10,56.97 L398.43,56.97 L398.43,63.53 L398.76,63.53 L398.76,63.12 L399.09,63.12 L399.09,64.24 L399.43,64.24 L399.43,59.40 L399.76,59.40 L399.76,58.32 L400.09,58.32 L400.09,58.18 L400.42,58.18 L400.42,52.12 L400.75,52.12 L400.75,50.97 L401.09,50.97 L401.09,50.97 L401.42,50.97 L401.42,52.35 L401.75,52.35 L401.75,57.20 L402.08,57.20 L402.08,57.16 L402.42,57.16 L402.42,57.81 L402.75,57.81 L402.75,61.68 L403.08,61.68 L403.08,65.40 L403.41,65.40 L403.41,60.77 L403.75,60.77 L403.75,60.37 L404.08,60.37 L404.08,63.24 L404.41,63.24 L404.41,62.62 L404.74,62.62 L404.74,52.07 L405.08,52.07 L405.08,51.90 L405.41,51.90 L405.41,52.70 L405.74,52.70 L405.74,56.05 L406.07,56.05 L406.07,65.28 L406.40,65.28 L406.40,61.05 L406.60,61.05 L406.60,86.50Z" fill="#1f77b4"/>
<rect x="242" y="9.3" width="172" height="80.7" fill="none" stroke="#b8b8b8" stroke-width="0.6"/>
<line x1="250.20" y1="90" x2="250.20" y2="91.6" stroke="#9a9a9a" stroke-width="0.5"/>
<text x="250.20" y="97.50" class="tk" text-anchor="middle">0</text>
<line x1="269.75" y1="90" x2="269.75" y2="91.6" stroke="#9a9a9a" stroke-width="0.5"/>
<text x="269.75" y="97.50" class="tk" text-anchor="middle">10</text>
<line x1="289.30" y1="90" x2="289.30" y2="91.6" stroke="#9a9a9a" stroke-width="0.5"/>
<text x="289.30" y="97.50" class="tk" text-anchor="middle">20</text>
<line x1="308.85" y1="90" x2="308.85" y2="91.6" stroke="#9a9a9a" stroke-width="0.5"/>
<text x="308.85" y="97.50" class="tk" text-anchor="middle">30</text>
<line x1="328.40" y1="90" x2="328.40" y2="91.6" stroke="#9a9a9a" stroke-width="0.5"/>
<text x="328.40" y="97.50" class="tk" text-anchor="middle">40</text>
<line x1="347.95" y1="90" x2="347.95" y2="91.6" stroke="#9a9a9a" stroke-width="0.5"/>
<text x="347.95" y="97.50" class="tk" text-anchor="middle">50</text>
<line x1="367.50" y1="90" x2="367.50" y2="91.6" stroke="#9a9a9a" stroke-width="0.5"/>
<text x="367.50" y="97.50" class="tk" text-anchor="middle">60</text>
<line x1="387.05" y1="90" x2="387.05" y2="91.6" stroke="#9a9a9a" stroke-width="0.5"/>
<text x="387.05" y="97.50" class="tk" text-anchor="middle">70</text>
<line x1="406.60" y1="90" x2="406.60" y2="91.6" stroke="#9a9a9a" stroke-width="0.5"/>
<text x="406.60" y="97.50" class="tk" text-anchor="middle">80</text>
<line x1="240.4" y1="86.50" x2="242" y2="86.50" stroke="#9a9a9a" stroke-width="0.5"/>
<text x="240.30" y="89.50" class="tk" text-anchor="end">0</text>
<line x1="240.4" y1="67.90" x2="242" y2="67.90" stroke="#9a9a9a" stroke-width="0.5"/>
<text x="240.30" y="70.90" class="tk" text-anchor="end">100</text>
<line x1="240.4" y1="49.30" x2="242" y2="49.30" stroke="#9a9a9a" stroke-width="0.5"/>
<text x="240.30" y="52.30" class="tk" text-anchor="end">200</text>
<line x1="240.4" y1="30.70" x2="242" y2="30.70" stroke="#9a9a9a" stroke-width="0.5"/>
<text x="240.30" y="33.70" class="tk" text-anchor="end">300</text>
<line x1="240.4" y1="12.10" x2="242" y2="12.10" stroke="#9a9a9a" stroke-width="0.5"/>
<text x="240.30" y="15.10" class="tk" text-anchor="end">400</text>
<text x="328.00" y="105.00" class="al xl" text-anchor="middle">Time [us]</text>
<text transform="translate(223.70,49.95) rotate(-90)" class="al" text-anchor="middle">Power consumption [mW]</text>
<text transform="translate(316.8,124.9) scale(1.115,1)" class="cap" text-anchor="middle">(<tspan class="b">b</tspan>) DA architecture, key <tspan class="mono">k3</tspan></text>
<line x1="35.85" y1="150.1" x2="35.85" y2="230" stroke="#d4d4d4" stroke-width="0.5"/>
<line x1="55.39" y1="150.1" x2="55.39" y2="230" stroke="#d4d4d4" stroke-width="0.5"/>
<line x1="74.93" y1="150.1" x2="74.93" y2="230" stroke="#d4d4d4" stroke-width="0.5"/>
<line x1="94.47" y1="150.1" x2="94.47" y2="230" stroke="#d4d4d4" stroke-width="0.5"/>
<line x1="114.01" y1="150.1" x2="114.01" y2="230" stroke="#d4d4d4" stroke-width="0.5"/>
<line x1="133.55" y1="150.1" x2="133.55" y2="230" stroke="#d4d4d4" stroke-width="0.5"/>
<line x1="153.09" y1="150.1" x2="153.09" y2="230" stroke="#d4d4d4" stroke-width="0.5"/>
<line x1="172.63" y1="150.1" x2="172.63" y2="230" stroke="#d4d4d4" stroke-width="0.5"/>
<line x1="192.17" y1="150.1" x2="192.17" y2="230" stroke="#d4d4d4" stroke-width="0.5"/>
<line x1="28.3" y1="226.90" x2="200.1" y2="226.90" stroke="#d4d4d4" stroke-width="0.5"/>
<line x1="28.3" y1="207.50" x2="200.1" y2="207.50" stroke="#d4d4d4" stroke-width="0.5"/>
<line x1="28.3" y1="188.10" x2="200.1" y2="188.10" stroke="#d4d4d4" stroke-width="0.5"/>
<line x1="28.3" y1="168.70" x2="200.1" y2="168.70" stroke="#d4d4d4" stroke-width="0.5"/>
<path d="M35.85,226.90 L35.85,207.94 L36.18,207.94 L36.18,205.98 L36.51,205.98 L36.51,206.99 L36.85,206.99 L36.85,202.01 L37.18,202.01 L37.18,200.11 L37.51,200.11 L37.51,199.41 L37.84,199.41 L37.84,194.48 L38.18,194.48 L38.18,190.74 L38.51,190.74 L38.51,196.28 L38.84,196.28 L38.84,188.23 L39.17,188.23 L39.17,186.32 L39.50,186.32 L39.50,186.96 L39.84,186.96 L39.84,182.32 L40.17,182.32 L40.17,181.50 L40.50,181.50 L40.50,182.09 L40.83,182.09 L40.83,184.93 L41.16,184.93 L41.16,186.01 L41.50,186.01 L41.50,188.31 L41.83,188.31 L41.83,187.89 L42.16,187.89 L42.16,192.71 L42.49,192.71 L42.49,190.83 L42.83,190.83 L42.83,197.97 L43.16,197.97 L43.16,196.17 L43.49,196.17 L43.49,199.46 L43.82,199.46 L43.82,197.44 L44.15,197.44 L44.15,200.64 L44.49,200.64 L44.49,202.14 L44.82,202.14 L44.82,198.91 L45.15,198.91 L45.15,195.09 L45.48,195.09 L45.48,196.22 L45.82,196.22 L45.82,190.13 L46.15,190.13 L46.15,191.21 L46.48,191.21 L46.48,190.24 L46.81,190.24 L46.81,183.24 L47.14,183.24 L47.14,191.90 L47.48,191.90 L47.48,182.78 L47.81,182.78 L47.81,181.50 L48.14,181.50 L48.14,183.24 L48.47,183.24 L48.47,185.17 L48.81,185.17 L48.81,184.06 L49.14,184.06 L49.14,186.87 L49.47,186.87 L49.47,191.73 L49.80,191.73 L49.80,196.13 L50.13,196.13 L50.13,191.26 L50.47,191.26 L50.47,190.82 L50.80,190.82 L50.80,190.82 L51.13,190.82 L51.13,191.45 L51.46,191.45 L51.46,194.37 L51.79,194.37 L51.79,191.54 L52.13,191.54 L52.13,190.82 L52.46,190.82 L52.46,190.82 L52.79,190.82 L52.79,190.95 L53.12,190.95 L53.12,199.15 L53.46,199.15 L53.46,201.09 L53.79,201.09 L53.79,193.56 L54.12,193.56 L54.12,194.01 L54.45,194.01 L54.45,198.98 L54.78,198.98 L54.78,200.77 L55.12,200.77 L55.12,199.46 L55.45,199.46 L55.45,200.53 L55.78,200.53 L55.78,206.76 L56.11,206.76 L56.11,206.96 L56.45,206.96 L56.45,207.88 L56.78,207.88 L56.78,208.28 L57.11,208.28 L57.11,208.17 L57.44,208.17 L57.44,208.33 L57.77,208.33 L57.77,208.13 L58.11,208.13 L58.11,208.28 L58.44,208.28 L58.44,208.38 L58.77,208.38 L58.77,208.18 L59.10,208.18 L59.10,208.33 L59.43,208.33 L59.43,208.35 L59.77,208.35 L59.77,208.33 L60.10,208.33 L60.10,208.17 L60.43,208.17 L60.43,208.22 L60.76,208.22 L60.76,208.01 L61.10,208.01 L61.10,208.17 L61.43,208.17 L61.43,208.27 L61.76,208.27 L61.76,208.15 L62.09,208.15 L62.09,206.47 L62.42,206.47 L62.42,200.96 L62.76,200.96 L62.76,202.46 L63.09,202.46 L63.09,199.21 L63.42,199.21 L63.42,195.50 L63.75,195.50 L63.75,194.41 L64.09,194.41 L64.09,196.80 L64.42,196.80 L64.42,188.57 L64.75,188.57 L64.75,188.26 L65.08,188.26 L65.08,192.05 L65.41,192.05 L65.41,193.27 L65.75,193.27 L65.75,191.40 L66.08,191.40 L66.08,182.84 L66.41,182.84 L66.41,180.92 L66.74,180.92 L66.74,181.79 L67.07,181.79 L67.07,194.81 L67.41,194.81 L67.41,191.60 L67.74,191.60 L67.74,194.98 L68.07,194.98 L68.07,194.27 L68.40,194.27 L68.40,195.72 L68.74,195.72 L68.74,193.10 L69.07,193.10 L69.07,194.75 L69.40,194.75 L69.40,192.39 L69.73,192.39 L69.73,194.96 L70.06,194.96 L70.06,196.31 L70.40,196.31 L70.40,192.78 L70.73,192.78 L70.73,198.08 L71.06,198.08 L71.06,191.87 L71.39,191.87 L71.39,191.20 L71.73,191.20 L71.73,191.33 L72.06,191.33 L72.06,199.71 L72.39,199.71 L72.39,197.06 L72.72,197.06 L72.72,197.17 L73.05,197.17 L73.05,199.68 L73.39,199.68 L73.39,197.10 L73.72,197.10 L73.72,195.23 L74.05,195.23 L74.05,199.25 L74.38,199.25 L74.38,200.51 L74.72,200.51 L74.72,191.92 L75.05,191.92 L75.05,193.03 L75.38,193.03 L75.38,191.20 L75.71,191.20 L75.71,192.95 L76.04,192.95 L76.04,195.14 L76.38,195.14 L76.38,193.64 L76.71,193.64 L76.71,199.34 L77.04,199.34 L77.04,197.64 L77.37,197.64 L77.37,204.22 L77.70,204.22 L77.70,196.23 L78.04,196.23 L78.04,195.32 L78.37,195.32 L78.37,193.66 L78.70,193.66 L78.70,193.34 L79.03,193.34 L79.03,194.55 L79.37,194.55 L79.37,199.81 L79.70,199.81 L79.70,195.39 L80.03,195.39 L80.03,197.11 L80.36,197.11 L80.36,199.85 L80.69,199.85 L80.69,199.47 L81.03,199.47 L81.03,203.39 L81.36,203.39 L81.36,207.52 L81.69,207.52 L81.69,205.06 L82.02,205.06 L82.02,207.97 L82.36,207.97 L82.36,207.53 L82.69,207.53 L82.69,207.77 L83.02,207.77 L83.02,208.17 L83.35,208.17 L83.35,208.23 L83.68,208.23 L83.68,208.34 L84.02,208.34 L84.02,208.21 L84.35,208.21 L84.35,207.52 L84.68,207.52 L84.68,208.15 L85.01,208.15 L85.01,207.59 L85.34,207.59 L85.34,208.25 L85.68,208.25 L85.68,207.41 L86.01,207.41 L86.01,204.77 L86.34,204.77 L86.34,202.56 L86.67,202.56 L86.67,195.71 L87.01,195.71 L87.01,199.83 L87.34,199.83 L87.34,195.02 L87.67,195.02 L87.67,195.98 L88.00,195.98 L88.00,189.50 L88.33,189.50 L88.33,177.31 L88.67,177.31 L88.67,180.30 L89.00,180.30 L89.00,175.98 L89.33,175.98 L89.33,171.43 L89.66,171.43 L89.66,170.82 L90.00,170.82 L90.00,166.95 L90.33,166.95 L90.33,169.19 L90.66,169.19 L90.66,167.03 L90.99,167.03 L90.99,169.59 L91.32,169.59 L91.32,167.80 L91.66,167.80 L91.66,175.12 L91.99,175.12 L91.99,169.50 L92.32,169.50 L92.32,186.61 L92.65,186.61 L92.65,180.30 L92.98,180.30 L92.98,177.04 L93.32,177.04 L93.32,185.45 L93.65,185.45 L93.65,186.98 L93.98,186.98 L93.98,186.04 L94.31,186.04 L94.31,181.76 L94.65,181.76 L94.65,172.43 L94.98,172.43 L94.98,168.12 L95.31,168.12 L95.31,178.64 L95.64,178.64 L95.64,175.67 L95.97,175.67 L95.97,166.62 L96.31,166.62 L96.31,164.46 L96.64,164.46 L96.64,163.66 L96.97,163.66 L96.97,165.24 L97.30,165.24 L97.30,175.64 L97.64,175.64 L97.64,180.25 L97.97,180.25 L97.97,166.01 L98.30,166.01 L98.30,166.24 L98.63,166.24 L98.63,166.00 L98.96,166.00 L98.96,177.27 L99.30,177.27 L99.30,171.60 L99.63,171.60 L99.63,172.01 L99.96,172.01 L99.96,186.47 L100.29,186.47 L100.29,195.14 L100.63,195.14 L100.63,190.80 L100.96,190.80 L100.96,188.48 L101.29,188.48 L101.29,181.07 L101.62,181.07 L101.62,178.59 L101.95,178.59 L101.95,178.02 L102.29,178.02 L102.29,178.72 L102.62,178.72 L102.62,174.57 L102.95,174.57 L102.95,174.34 L103.28,174.34 L103.28,181.35 L103.61,181.35 L103.61,174.72 L103.95,174.72 L103.95,173.74 L104.28,173.74 L104.28,173.74 L104.61,173.74 L104.61,176.11 L104.94,176.11 L104.94,179.90 L105.28,179.90 L105.28,178.76 L105.61,178.76 L105.61,179.42 L105.94,179.42 L105.94,169.84 L106.27,169.84 L106.27,167.92 L106.60,167.92 L106.60,167.92 L106.94,167.92 L106.94,168.79 L107.27,168.79 L107.27,184.07 L107.60,184.07 L107.60,179.81 L107.93,179.81 L107.93,185.46 L108.27,185.46 L108.27,187.25 L108.60,187.25 L108.60,192.22 L108.93,192.22 L108.93,191.59 L109.26,191.59 L109.26,192.77 L109.59,192.77 L109.59,194.75 L109.93,194.75 L109.93,194.63 L110.26,194.63 L110.26,200.80 L110.59,200.80 L110.59,199.62 L110.92,199.62 L110.92,195.80 L111.25,195.80 L111.25,199.30 L111.59,199.30 L111.59,186.69 L111.92,186.69 L111.92,191.08 L112.25,191.08 L112.25,191.33 L112.58,191.33 L112.58,178.46 L112.92,178.46 L112.92,180.24 L113.25,180.24 L113.25,173.93 L113.58,173.93 L113.58,170.40 L113.91,170.40 L113.91,183.45 L114.24,183.45 L114.24,173.33 L114.58,173.33 L114.58,172.15 L114.91,172.15 L114.91,160.33 L115.24,160.33 L115.24,159.73 L115.57,159.73 L115.57,157.80 L115.91,157.80 L115.91,159.27 L116.24,159.27 L116.24,166.25 L116.57,166.25 L116.57,160.25 L116.90,160.25 L116.90,153.37 L117.23,153.37 L117.23,153.37 L117.57,153.37 L117.57,155.17 L117.90,155.17 L117.90,165.67 L118.23,165.67 L118.23,173.00 L118.56,173.00 L118.56,171.93 L118.90,171.93 L118.90,177.05 L119.23,177.05 L119.23,192.63 L119.56,192.63 L119.56,180.19 L119.89,180.19 L119.89,182.04 L120.22,182.04 L120.22,173.15 L120.56,173.15 L120.56,180.48 L120.89,180.48 L120.89,170.88 L121.22,170.88 L121.22,165.65 L121.55,165.65 L121.55,178.97 L121.88,178.97 L121.88,174.56 L122.22,174.56 L122.22,164.46 L122.55,164.46 L122.55,173.42 L122.88,173.42 L122.88,167.31 L123.21,167.31 L123.21,163.66 L123.55,163.66 L123.55,163.66 L123.88,163.66 L123.88,163.69 L124.21,163.69 L124.21,165.35 L124.54,165.35 L124.54,169.64 L124.87,169.64 L124.87,174.36 L125.21,174.36 L125.21,175.43 L125.54,175.43 L125.54,172.86 L125.87,172.86 L125.87,172.19 L126.20,172.19 L126.20,172.19 L126.54,172.19 L126.54,173.98 L126.87,173.98 L126.87,185.37 L127.20,185.37 L127.20,179.39 L127.53,179.39 L127.53,181.19 L127.86,181.19 L127.86,181.44 L128.20,181.44 L128.20,177.63 L128.53,177.63 L128.53,180.76 L128.86,180.76 L128.86,173.62 L129.19,173.62 L129.19,177.24 L129.52,177.24 L129.52,184.21 L129.86,184.21 L129.86,173.43 L130.19,173.43 L130.19,183.60 L130.52,183.60 L130.52,171.80 L130.85,171.80 L130.85,171.41 L131.19,171.41 L131.19,170.45 L131.52,170.45 L131.52,170.45 L131.85,170.45 L131.85,173.00 L132.18,173.00 L132.18,184.15 L132.51,184.15 L132.51,179.24 L132.85,179.24 L132.85,178.10 L133.18,178.10 L133.18,181.59 L133.51,181.59 L133.51,199.43 L133.84,199.43 L133.84,191.94 L134.18,191.94 L134.18,189.14 L134.51,189.14 L134.51,189.07 L134.84,189.07 L134.84,189.07 L135.17,189.07 L135.17,189.66 L135.50,189.66 L135.50,195.70 L135.84,195.70 L135.84,193.74 L136.17,193.74 L136.17,200.75 L136.50,200.75 L136.50,200.22 L136.83,200.22 L136.83,196.93 L137.16,196.93 L137.16,194.35 L137.50,194.35 L137.50,189.03 L137.83,189.03 L137.83,178.24 L138.16,178.24 L138.16,178.41 L138.49,178.41 L138.49,177.09 L138.83,177.09 L138.83,170.96 L139.16,170.96 L139.16,168.46 L139.49,168.46 L139.49,164.57 L139.82,164.57 L139.82,166.42 L140.15,166.42 L140.15,159.78 L140.49,159.78 L140.49,158.06 L140.82,158.06 L140.82,156.64 L141.15,156.64 L141.15,156.05 L141.48,156.05 L141.48,159.55 L141.82,159.55 L141.82,157.18 L142.15,157.18 L142.15,154.15 L142.48,154.15 L142.48,157.43 L142.81,157.43 L142.81,162.32 L143.14,162.32 L143.14,160.05 L143.48,160.05 L143.48,161.65 L143.81,161.65 L143.81,178.59 L144.14,178.59 L144.14,170.57 L144.47,170.57 L144.47,178.94 L144.81,178.94 L144.81,176.75 L145.14,176.75 L145.14,174.18 L145.47,174.18 L145.47,177.67 L145.80,177.67 L145.80,172.07 L146.13,172.07 L146.13,175.37 L146.47,175.37 L146.47,168.93 L146.80,168.93 L146.80,165.50 L147.13,165.50 L147.13,174.52 L147.46,174.52 L147.46,179.23 L147.79,179.23 L147.79,166.96 L148.13,166.96 L148.13,163.62 L148.46,163.62 L148.46,164.13 L148.79,164.13 L148.79,162.69 L149.12,162.69 L149.12,164.94 L149.46,164.94 L149.46,178.48 L149.79,178.48 L149.79,179.19 L150.12,179.19 L150.12,164.39 L150.45,164.39 L150.45,173.33 L150.78,173.33 L150.78,167.85 L151.12,167.85 L151.12,182.88 L151.45,182.88 L151.45,175.84 L151.78,175.84 L151.78,173.49 L152.11,173.49 L152.11,178.31 L152.45,178.31 L152.45,187.00 L152.78,187.00 L152.78,182.62 L153.11,182.62 L153.11,178.50 L153.44,178.50 L153.44,177.64 L153.77,177.64 L153.77,190.04 L154.11,190.04 L154.11,183.24 L154.44,183.24 L154.44,176.54 L154.77,176.54 L154.77,177.60 L155.10,177.60 L155.10,173.47 L155.43,173.47 L155.43,179.71 L155.77,179.71 L155.77,175.46 L156.10,175.46 L156.10,168.73 L156.43,168.73 L156.43,167.92 L156.76,167.92 L156.76,168.74 L157.10,168.74 L157.10,184.77 L157.43,184.77 L157.43,174.05 L157.76,174.05 L157.76,188.17 L158.09,188.17 L158.09,183.90 L158.42,183.90 L158.42,202.39 L158.76,202.39 L158.76,205.32 L159.09,205.32 L159.09,195.39 L159.42,195.39 L159.42,193.55 L159.75,193.55 L159.75,190.77 L160.09,190.77 L160.09,190.04 L160.42,190.04 L160.42,190.04 L160.75,190.04 L160.75,191.21 L161.08,191.21 L161.08,194.21 L161.41,194.21 L161.41,197.43 L161.75,197.43 L161.75,196.33 L162.08,196.33 L162.08,197.83 L162.41,197.83 L162.41,196.38 L162.74,196.38 L162.74,192.13 L163.07,192.13 L163.07,192.47 L163.41,192.47 L163.41,173.71 L163.74,173.71 L163.74,181.94 L164.07,181.94 L164.07,174.51 L164.40,174.51 L164.40,174.43 L164.74,174.43 L164.74,171.55 L165.07,171.55 L165.07,162.88 L165.40,162.88 L165.40,165.38 L165.73,165.38 L165.73,173.87 L166.06,173.87 L166.06,167.26 L166.40,167.26 L166.40,171.88 L166.73,171.88 L166.73,166.68 L167.06,166.68 L167.06,159.02 L167.39,159.02 L167.39,155.99 L167.73,155.99 L167.73,154.15 L168.06,154.15 L168.06,154.15 L168.39,154.15 L168.39,158.98 L168.72,158.98 L168.72,154.29 L169.05,154.29 L169.05,168.12 L169.39,168.12 L169.39,166.71 L169.72,166.71 L169.72,180.04 L170.05,180.04 L170.05,186.25 L170.38,186.25 L170.38,189.25 L170.72,189.25 L170.72,175.08 L171.05,175.08 L171.05,188.19 L171.38,188.19 L171.38,186.38 L171.71,186.38 L171.71,174.17 L172.04,174.17 L172.04,172.88 L172.38,172.88 L172.38,176.16 L172.71,176.16 L172.71,165.13 L173.04,165.13 L173.04,168.11 L173.37,168.11 L173.37,171.76 L173.70,171.76 L173.70,166.69 L174.04,166.69 L174.04,162.48 L174.37,162.48 L174.37,161.91 L174.70,161.91 L174.70,161.91 L175.03,161.91 L175.03,162.02 L175.37,162.02 L175.37,171.91 L175.70,171.91 L175.70,171.29 L176.03,171.29 L176.03,175.60 L176.36,175.60 L176.36,175.30 L176.69,175.30 L176.69,174.98 L177.03,174.98 L177.03,172.97 L177.36,172.97 L177.36,172.97 L177.69,172.97 L177.69,173.33 L178.02,173.33 L178.02,176.86 L178.36,176.86 L178.36,179.78 L178.69,179.78 L178.69,179.47 L179.02,179.47 L179.02,184.57 L179.35,184.57 L179.35,177.85 L179.68,177.85 L179.68,174.83 L180.02,174.83 L180.02,179.00 L180.35,179.00 L180.35,179.24 L180.68,179.24 L180.68,178.65 L181.01,178.65 L181.01,173.45 L181.34,173.45 L181.34,170.45 L181.68,170.45 L181.68,170.45 L182.01,170.45 L182.01,173.33 L182.34,173.33 L182.34,182.29 L182.67,182.29 L182.67,186.64 L183.01,186.64 L183.01,178.39 L183.34,178.39 L183.34,191.99 L183.67,191.99 L183.67,200.98 L184.00,200.98 L184.00,193.88 L184.33,193.88 L184.33,191.02 L184.67,191.02 L184.67,190.82 L185.00,190.82 L185.00,190.82 L185.33,190.82 L185.33,190.82 L185.66,190.82 L185.66,197.23 L186.00,197.23 L186.00,198.83 L186.33,198.83 L186.33,197.24 L186.66,197.24 L186.66,199.84 L186.99,199.84 L186.99,199.00 L187.32,199.00 L187.32,203.43 L187.66,203.43 L187.66,197.40 L187.99,197.40 L187.99,191.92 L188.32,191.92 L188.32,186.81 L188.65,186.81 L188.65,185.12 L188.98,185.12 L188.98,184.82 L189.32,184.82 L189.32,183.76 L189.65,183.76 L189.65,177.12 L189.98,177.12 L189.98,166.58 L190.31,166.58 L190.31,172.94 L190.65,172.94 L190.65,172.17 L190.98,172.17 L190.98,172.52 L191.31,172.52 L191.31,166.44 L191.64,166.44 L191.64,163.66 L191.97,163.66 L191.97,165.90 L192.17,165.90 L192.17,226.90Z" fill="#1f77b4"/>
<rect x="28.3" y="150.1" width="171.79999999999998" height="79.9" fill="none" stroke="#b8b8b8" stroke-width="0.6"/>
<line x1="35.85" y1="230" x2="35.85" y2="231.6" stroke="#9a9a9a" stroke-width="0.5"/>
<text x="35.85" y="237.50" class="tk" text-anchor="middle">0</text>
<line x1="55.39" y1="230" x2="55.39" y2="231.6" stroke="#9a9a9a" stroke-width="0.5"/>
<text x="55.39" y="237.50" class="tk" text-anchor="middle">10</text>
<line x1="74.93" y1="230" x2="74.93" y2="231.6" stroke="#9a9a9a" stroke-width="0.5"/>
<text x="74.93" y="237.50" class="tk" text-anchor="middle">20</text>
<line x1="94.47" y1="230" x2="94.47" y2="231.6" stroke="#9a9a9a" stroke-width="0.5"/>
<text x="94.47" y="237.50" class="tk" text-anchor="middle">30</text>
<line x1="114.01" y1="230" x2="114.01" y2="231.6" stroke="#9a9a9a" stroke-width="0.5"/>
<text x="114.01" y="237.50" class="tk" text-anchor="middle">40</text>
<line x1="133.55" y1="230" x2="133.55" y2="231.6" stroke="#9a9a9a" stroke-width="0.5"/>
<text x="133.55" y="237.50" class="tk" text-anchor="middle">50</text>
<line x1="153.09" y1="230" x2="153.09" y2="231.6" stroke="#9a9a9a" stroke-width="0.5"/>
<text x="153.09" y="237.50" class="tk" text-anchor="middle">60</text>
<line x1="172.63" y1="230" x2="172.63" y2="231.6" stroke="#9a9a9a" stroke-width="0.5"/>
<text x="172.63" y="237.50" class="tk" text-anchor="middle">70</text>
<line x1="192.17" y1="230" x2="192.17" y2="231.6" stroke="#9a9a9a" stroke-width="0.5"/>
<text x="192.17" y="237.50" class="tk" text-anchor="middle">80</text>
<line x1="26.7" y1="226.90" x2="28.3" y2="226.90" stroke="#9a9a9a" stroke-width="0.5"/>
<text x="26.00" y="229.90" class="tk" text-anchor="end">0</text>
<line x1="26.7" y1="207.50" x2="28.3" y2="207.50" stroke="#9a9a9a" stroke-width="0.5"/>
<text x="26.00" y="210.50" class="tk" text-anchor="end">100</text>
<line x1="26.7" y1="188.10" x2="28.3" y2="188.10" stroke="#9a9a9a" stroke-width="0.5"/>
<text x="26.00" y="191.10" class="tk" text-anchor="end">200</text>
<line x1="26.7" y1="168.70" x2="28.3" y2="168.70" stroke="#9a9a9a" stroke-width="0.5"/>
<text x="26.00" y="171.70" class="tk" text-anchor="end">300</text>
<text x="114.20" y="245.00" class="al xl" text-anchor="middle">Time [us]</text>
<text transform="translate(10.00,190.05) rotate(-90)" class="al" text-anchor="middle">Power consumption [mW]</text>
<text transform="translate(102.5,264.7) scale(1.115,1)" class="cap" text-anchor="middle">(<tspan class="b">c</tspan>) DAA architecture, key <tspan class="mono">k1</tspan></text>
<line x1="250.20" y1="150.1" x2="250.20" y2="230" stroke="#d4d4d4" stroke-width="0.5"/>
<line x1="269.75" y1="150.1" x2="269.75" y2="230" stroke="#d4d4d4" stroke-width="0.5"/>
<line x1="289.30" y1="150.1" x2="289.30" y2="230" stroke="#d4d4d4" stroke-width="0.5"/>
<line x1="308.85" y1="150.1" x2="308.85" y2="230" stroke="#d4d4d4" stroke-width="0.5"/>
<line x1="328.40" y1="150.1" x2="328.40" y2="230" stroke="#d4d4d4" stroke-width="0.5"/>
<line x1="347.95" y1="150.1" x2="347.95" y2="230" stroke="#d4d4d4" stroke-width="0.5"/>
<line x1="367.50" y1="150.1" x2="367.50" y2="230" stroke="#d4d4d4" stroke-width="0.5"/>
<line x1="387.05" y1="150.1" x2="387.05" y2="230" stroke="#d4d4d4" stroke-width="0.5"/>
<line x1="406.60" y1="150.1" x2="406.60" y2="230" stroke="#d4d4d4" stroke-width="0.5"/>
<line x1="242" y1="226.90" x2="414" y2="226.90" stroke="#d4d4d4" stroke-width="0.5"/>
<line x1="242" y1="206.70" x2="414" y2="206.70" stroke="#d4d4d4" stroke-width="0.5"/>
<line x1="242" y1="186.50" x2="414" y2="186.50" stroke="#d4d4d4" stroke-width="0.5"/>
<line x1="242" y1="166.30" x2="414" y2="166.30" stroke="#d4d4d4" stroke-width="0.5"/>
<path d="M250.20,226.90 L250.20,205.50 L250.53,205.50 L250.53,205.91 L250.86,205.91 L250.86,203.52 L251.20,203.52 L251.20,201.39 L251.53,201.39 L251.53,203.25 L251.86,203.25 L251.86,202.71 L252.19,202.71 L252.19,194.58 L252.53,194.58 L252.53,195.76 L252.86,195.76 L252.86,189.92 L253.19,189.92 L253.19,182.48 L253.52,182.48 L253.52,181.45 L253.86,181.45 L253.86,182.78 L254.19,182.78 L254.19,179.83 L254.52,179.83 L254.52,179.83 L254.85,179.83 L254.85,182.63 L255.19,182.63 L255.19,185.47 L255.52,185.47 L255.52,190.44 L255.85,190.44 L255.85,187.20 L256.18,187.20 L256.18,183.38 L256.51,183.38 L256.51,185.51 L256.85,185.51 L256.85,191.67 L257.18,191.67 L257.18,191.17 L257.51,191.17 L257.51,198.80 L257.84,198.80 L257.84,195.54 L258.18,195.54 L258.18,200.39 L258.51,200.39 L258.51,198.74 L258.84,198.74 L258.84,196.28 L259.17,196.28 L259.17,192.64 L259.51,192.64 L259.51,192.46 L259.84,192.46 L259.84,190.92 L260.17,190.92 L260.17,192.22 L260.50,192.22 L260.50,190.65 L260.84,190.65 L260.84,190.70 L261.17,190.70 L261.17,180.10 L261.50,180.10 L261.50,180.17 L261.83,180.17 L261.83,179.83 L262.16,179.83 L262.16,179.83 L262.50,179.83 L262.50,181.70 L262.83,181.70 L262.83,189.69 L263.16,189.69 L263.16,193.66 L263.49,193.66 L263.49,185.40 L263.83,185.40 L263.83,197.89 L264.16,197.89 L264.16,193.05 L264.49,193.05 L264.49,193.38 L264.82,193.38 L264.82,199.74 L265.16,199.74 L265.16,194.54 L265.49,194.54 L265.49,189.20 L265.82,189.20 L265.82,189.24 L266.15,189.24 L266.15,189.13 L266.49,189.13 L266.49,189.13 L266.82,189.13 L266.82,190.69 L267.15,190.69 L267.15,191.78 L267.48,191.78 L267.48,197.58 L267.81,197.58 L267.81,197.15 L268.15,197.15 L268.15,204.55 L268.48,204.55 L268.48,199.40 L268.81,199.40 L268.81,202.82 L269.14,202.82 L269.14,193.66 L269.48,193.66 L269.48,193.37 L269.81,193.37 L269.81,193.37 L270.14,193.37 L270.14,194.33 L270.47,194.33 L270.47,198.73 L270.81,198.73 L270.81,205.32 L271.14,205.32 L271.14,207.77 L271.47,207.77 L271.47,207.85 L271.80,207.85 L271.80,207.72 L272.14,207.72 L272.14,207.66 L272.47,207.66 L272.47,207.85 L272.80,207.85 L272.80,207.66 L273.13,207.66 L273.13,207.58 L273.46,207.58 L273.46,207.73 L273.80,207.73 L273.80,207.52 L274.13,207.52 L274.13,207.86 L274.46,207.86 L274.46,207.54 L274.79,207.54 L274.79,207.69 L275.13,207.69 L275.13,205.65 L275.46,205.65 L275.46,199.98 L275.79,199.98 L275.79,204.36 L276.12,204.36 L276.12,196.25 L276.46,196.25 L276.46,191.67 L276.79,191.67 L276.79,188.49 L277.12,188.49 L277.12,180.22 L277.45,180.22 L277.45,181.24 L277.79,181.24 L277.79,178.86 L278.12,178.86 L278.12,171.66 L278.45,171.66 L278.45,169.56 L278.78,169.56 L278.78,165.49 L279.11,165.49 L279.11,165.49 L279.45,165.49 L279.45,166.04 L279.78,166.04 L279.78,177.08 L280.11,177.08 L280.11,169.58 L280.44,169.58 L280.44,168.35 L280.78,168.35 L280.78,165.49 L281.11,165.49 L281.11,167.19 L281.44,167.19 L281.44,176.27 L281.77,176.27 L281.77,171.07 L282.11,171.07 L282.11,180.11 L282.44,180.11 L282.44,189.42 L282.77,189.42 L282.77,176.36 L283.10,176.36 L283.10,172.51 L283.44,172.51 L283.44,173.95 L283.77,173.95 L283.77,174.81 L284.10,174.81 L284.10,167.82 L284.43,167.82 L284.43,164.28 L284.76,164.28 L284.76,181.56 L285.10,181.56 L285.10,169.72 L285.43,169.72 L285.43,164.23 L285.76,164.23 L285.76,161.25 L286.09,161.25 L286.09,161.87 L286.43,161.87 L286.43,174.17 L286.76,174.17 L286.76,180.90 L287.09,180.90 L287.09,161.35 L287.42,161.35 L287.42,164.82 L287.76,164.82 L287.76,168.80 L288.09,168.80 L288.09,177.90 L288.42,177.90 L288.42,179.70 L288.75,179.70 L288.75,163.35 L289.08,163.35 L289.08,172.42 L289.42,172.42 L289.42,170.68 L289.75,170.68 L289.75,177.23 L290.08,177.23 L290.08,180.45 L290.41,180.45 L290.41,178.61 L290.75,178.61 L290.75,185.99 L291.08,185.99 L291.08,185.85 L291.41,185.85 L291.41,182.68 L291.74,182.68 L291.74,177.89 L292.08,177.89 L292.08,177.36 L292.41,177.36 L292.41,176.28 L292.74,176.28 L292.74,174.78 L293.07,174.78 L293.07,174.78 L293.41,174.78 L293.41,175.13 L293.74,175.13 L293.74,170.23 L294.07,170.23 L294.07,167.67 L294.40,167.67 L294.40,180.96 L294.73,180.96 L294.73,165.49 L295.07,165.49 L295.07,165.49 L295.40,165.49 L295.40,166.49 L295.73,166.49 L295.73,168.95 L296.06,168.95 L296.06,184.21 L296.40,184.21 L296.40,181.71 L296.73,181.71 L296.73,190.27 L297.06,190.27 L297.06,185.03 L297.39,185.03 L297.39,194.22 L297.73,194.22 L297.73,190.96 L298.06,190.96 L298.06,194.75 L298.39,194.75 L298.39,198.17 L298.72,198.17 L298.72,198.47 L299.06,198.47 L299.06,199.80 L299.39,199.80 L299.39,202.99 L299.72,202.99 L299.72,205.26 L300.05,205.26 L300.05,193.23 L300.38,193.23 L300.38,189.60 L300.72,189.60 L300.72,183.06 L301.05,183.06 L301.05,175.68 L301.38,175.68 L301.38,173.47 L301.71,173.47 L301.71,171.35 L302.05,171.35 L302.05,171.35 L302.38,171.35 L302.38,174.72 L302.71,174.72 L302.71,176.83 L303.04,176.83 L303.04,185.35 L303.38,185.35 L303.38,180.62 L303.71,180.62 L303.71,191.69 L304.04,191.69 L304.04,190.93 L304.37,190.93 L304.37,189.53 L304.71,189.53 L304.71,184.21 L305.04,184.21 L305.04,183.92 L305.37,183.92 L305.37,182.94 L305.70,182.94 L305.70,179.83 L306.03,179.83 L306.03,179.83 L306.37,179.83 L306.37,180.40 L306.70,180.40 L306.70,182.72 L307.03,182.72 L307.03,182.42 L307.36,182.42 L307.36,188.14 L307.70,188.14 L307.70,188.40 L308.03,188.40 L308.03,197.53 L308.36,197.53 L308.36,200.05 L308.69,200.05 L308.69,201.06 L309.03,201.06 L309.03,199.04 L309.36,199.04 L309.36,192.62 L309.69,192.62 L309.69,194.35 L310.02,194.35 L310.02,201.08 L310.36,201.08 L310.36,201.26 L310.69,201.26 L310.69,195.64 L311.02,195.64 L311.02,194.67 L311.35,194.67 L311.35,196.43 L311.68,196.43 L311.68,200.99 L312.02,200.99 L312.02,190.44 L312.35,190.44 L312.35,190.14 L312.68,190.14 L312.68,190.14 L313.01,190.14 L313.01,191.89 L313.35,191.89 L313.35,190.51 L313.68,190.51 L313.68,200.25 L314.01,200.25 L314.01,201.67 L314.34,201.67 L314.34,200.95 L314.68,200.95 L314.68,192.75 L315.01,192.75 L315.01,193.19 L315.34,193.19 L315.34,193.33 L315.67,193.33 L315.67,189.99 L316.01,189.99 L316.01,193.01 L316.34,193.01 L316.34,187.50 L316.67,187.50 L316.67,188.62 L317.00,188.62 L317.00,186.70 L317.33,186.70 L317.33,186.70 L317.67,186.70 L317.67,187.41 L318.00,187.41 L318.00,192.10 L318.33,192.10 L318.33,198.60 L318.66,198.60 L318.66,196.92 L319.00,196.92 L319.00,193.91 L319.33,193.91 L319.33,194.03 L319.66,194.03 L319.66,193.37 L319.99,193.37 L319.99,193.37 L320.33,193.37 L320.33,194.57 L320.66,194.57 L320.66,198.07 L320.99,198.07 L320.99,205.91 L321.32,205.91 L321.32,207.54 L321.66,207.54 L321.66,207.72 L321.99,207.72 L321.99,207.69 L322.32,207.69 L322.32,207.78 L322.65,207.78 L322.65,207.90 L322.98,207.90 L322.98,207.71 L323.32,207.71 L323.32,207.72 L323.65,207.72 L323.65,207.38 L323.98,207.38 L323.98,207.33 L324.31,207.33 L324.31,207.32 L324.65,207.32 L324.65,207.50 L324.98,207.50 L324.98,208.09 L325.31,208.09 L325.31,207.87 L325.64,207.87 L325.64,196.22 L325.98,196.22 L325.98,190.55 L326.31,190.55 L326.31,183.96 L326.64,183.96 L326.64,189.45 L326.97,189.45 L326.97,187.87 L327.31,187.87 L327.31,189.79 L327.64,189.79 L327.64,182.36 L327.97,182.36 L327.97,184.15 L328.30,184.15 L328.30,176.87 L328.63,176.87 L328.63,180.78 L328.97,180.78 L328.97,182.42 L329.30,182.42 L329.30,172.80 L329.63,172.80 L329.63,159.62 L329.96,159.62 L329.96,162.54 L330.30,162.54 L330.30,162.92 L330.63,162.92 L330.63,174.03 L330.96,174.03 L330.96,157.50 L331.29,157.50 L331.29,154.38 L331.63,154.38 L331.63,154.38 L331.96,154.38 L331.96,159.13 L332.29,159.13 L332.29,177.68 L332.62,177.68 L332.62,175.86 L332.96,175.86 L332.96,168.33 L333.29,168.33 L333.29,179.19 L333.62,179.19 L333.62,181.53 L333.95,181.53 L333.95,181.57 L334.28,181.57 L334.28,167.78 L334.62,167.78 L334.62,172.01 L334.95,172.01 L334.95,179.49 L335.28,179.49 L335.28,161.89 L335.61,161.89 L335.61,168.03 L335.95,168.03 L335.95,172.57 L336.28,172.57 L336.28,168.06 L336.61,168.06 L336.61,170.43 L336.94,170.43 L336.94,159.43 L337.28,159.43 L337.28,159.43 L337.61,159.43 L337.61,160.21 L337.94,160.21 L337.94,163.55 L338.27,163.55 L338.27,161.05 L338.61,161.05 L338.61,176.53 L338.94,176.53 L338.94,164.60 L339.27,164.60 L339.27,169.11 L339.60,169.11 L339.60,181.44 L339.93,181.44 L339.93,171.44 L340.27,171.44 L340.27,179.50 L340.60,179.50 L340.60,186.20 L340.93,186.20 L340.93,185.30 L341.26,185.30 L341.26,173.98 L341.60,173.98 L341.60,173.98 L341.93,173.98 L341.93,175.07 L342.26,175.07 L342.26,178.74 L342.59,178.74 L342.59,176.01 L342.93,176.01 L342.93,173.42 L343.26,173.42 L343.26,173.85 L343.59,173.85 L343.59,170.79 L343.92,170.79 L343.92,175.42 L344.26,175.42 L344.26,167.16 L344.59,167.16 L344.59,174.42 L344.92,174.42 L344.92,166.54 L345.25,166.54 L345.25,165.49 L345.58,165.49 L345.58,169.01 L345.92,169.01 L345.92,171.76 L346.25,171.76 L346.25,176.04 L346.58,176.04 L346.58,178.55 L346.91,178.55 L346.91,193.48 L347.25,193.48 L347.25,193.92 L347.58,193.92 L347.58,195.94 L347.91,195.94 L347.91,192.04 L348.24,192.04 L348.24,190.14 L348.58,190.14 L348.58,190.14 L348.91,190.14 L348.91,190.44 L349.24,190.44 L349.24,199.07 L349.57,199.07 L349.57,200.91 L349.91,200.91 L349.91,199.14 L350.24,199.14 L350.24,198.32 L350.57,198.32 L350.57,198.85 L350.90,198.85 L350.90,206.19 L351.23,206.19 L351.23,193.08 L351.57,193.08 L351.57,190.99 L351.90,190.99 L351.90,185.19 L352.23,185.19 L352.23,187.02 L352.56,187.02 L352.56,183.33 L352.90,183.33 L352.90,173.56 L353.23,173.56 L353.23,177.20 L353.56,177.20 L353.56,166.02 L353.89,166.02 L353.89,170.56 L354.23,170.56 L354.23,172.40 L354.56,172.40 L354.56,175.17 L354.89,175.17 L354.89,167.69 L355.22,167.69 L355.22,167.45 L355.55,167.45 L355.55,172.16 L355.89,172.16 L355.89,158.71 L356.22,158.71 L356.22,159.28 L356.55,159.28 L356.55,158.22 L356.88,158.22 L356.88,158.39 L357.22,158.39 L357.22,165.03 L357.55,165.03 L357.55,175.38 L357.88,175.38 L357.88,169.56 L358.21,169.56 L358.21,183.58 L358.55,183.58 L358.55,181.46 L358.88,181.46 L358.88,191.34 L359.21,191.34 L359.21,188.43 L359.54,188.43 L359.54,179.11 L359.88,179.11 L359.88,171.94 L360.21,171.94 L360.21,171.86 L360.54,171.86 L360.54,168.28 L360.87,168.28 L360.87,169.61 L361.20,169.61 L361.20,169.62 L361.54,169.62 L361.54,169.00 L361.87,169.00 L361.87,162.61 L362.20,162.61 L362.20,177.33 L362.53,177.33 L362.53,168.84 L362.87,168.84 L362.87,168.01 L363.20,168.01 L363.20,180.05 L363.53,180.05 L363.53,160.24 L363.86,160.24 L363.86,160.24 L364.20,160.24 L364.20,161.48 L364.53,161.48 L364.53,167.72 L364.86,167.72 L364.86,164.17 L365.19,164.17 L365.19,172.18 L365.53,172.18 L365.53,182.94 L365.86,182.94 L365.86,174.40 L366.19,174.40 L366.19,182.20 L366.52,182.20 L366.52,170.80 L366.85,170.80 L366.85,170.54 L367.19,170.54 L367.19,170.54 L367.52,170.54 L367.52,173.41 L367.85,173.41 L367.85,178.36 L368.18,178.36 L368.18,177.66 L368.52,177.66 L368.52,187.03 L368.85,187.03 L368.85,171.25 L369.18,171.25 L369.18,172.66 L369.51,172.66 L369.51,175.48 L369.85,175.48 L369.85,167.73 L370.18,167.73 L370.18,178.26 L370.51,178.26 L370.51,164.28 L370.84,164.28 L370.84,163.67 L371.18,163.67 L371.18,163.67 L371.51,163.67 L371.51,167.37 L371.84,167.37 L371.84,171.73 L372.17,171.73 L372.17,177.99 L372.50,177.99 L372.50,185.34 L372.84,185.34 L372.84,192.96 L373.17,192.96 L373.17,192.80 L373.50,192.80 L373.50,188.32 L373.83,188.32 L373.83,188.32 L374.17,188.32 L374.17,189.54 L374.50,189.54 L374.50,196.97 L374.83,196.97 L374.83,194.43 L375.16,194.43 L375.16,195.65 L375.50,195.65 L375.50,193.52 L375.83,193.52 L375.83,194.49 L376.16,194.49 L376.16,201.27 L376.49,201.27 L376.49,194.17 L376.83,194.17 L376.83,192.43 L377.16,192.43 L377.16,190.39 L377.49,190.39 L377.49,182.62 L377.82,182.62 L377.82,181.97 L378.15,181.97 L378.15,169.40 L378.49,169.40 L378.49,168.18 L378.82,168.18 L378.82,182.98 L379.15,182.98 L379.15,164.35 L379.48,164.35 L379.48,162.77 L379.82,162.77 L379.82,175.81 L380.15,175.81 L380.15,164.42 L380.48,164.42 L380.48,165.61 L380.81,165.61 L380.81,173.56 L381.15,173.56 L381.15,161.90 L381.48,161.90 L381.48,177.57 L381.81,177.57 L381.81,158.58 L382.14,158.58 L382.14,156.20 L382.48,156.20 L382.48,156.20 L382.81,156.20 L382.81,159.09 L383.14,159.09 L383.14,174.32 L383.47,174.32 L383.47,162.04 L383.80,162.04 L383.80,177.24 L384.14,177.24 L384.14,182.60 L384.47,182.60 L384.47,185.07 L384.80,185.07 L384.80,171.28 L385.13,171.28 L385.13,184.33 L385.47,184.33 L385.47,173.13 L385.80,173.13 L385.80,172.90 L386.13,172.90 L386.13,178.26 L386.46,178.26 L386.46,165.35 L386.80,165.35 L386.80,175.66 L387.13,175.66 L387.13,176.62 L387.46,176.62 L387.46,178.80 L387.79,178.80 L387.79,164.25 L388.13,164.25 L388.13,177.06 L388.46,177.06 L388.46,159.43 L388.79,159.43 L388.79,157.82 L389.12,157.82 L389.12,157.82 L389.45,157.82 L389.45,161.11 L389.79,161.11 L389.79,161.48 L390.12,161.48 L390.12,164.97 L390.45,164.97 L390.45,166.60 L390.78,166.60 L390.78,176.84 L391.12,176.84 L391.12,168.93 L391.45,168.93 L391.45,168.93 L391.78,168.93 L391.78,171.80 L392.11,171.80 L392.11,184.96 L392.45,184.96 L392.45,173.76 L392.78,173.76 L392.78,172.69 L393.11,172.69 L393.11,181.19 L393.44,181.19 L393.44,183.82 L393.78,183.82 L393.78,181.02 L394.11,181.02 L394.11,172.78 L394.44,172.78 L394.44,174.02 L394.77,174.02 L394.77,175.84 L395.10,175.84 L395.10,174.15 L395.44,174.15 L395.44,169.69 L395.77,169.69 L395.77,173.59 L396.10,173.59 L396.10,168.36 L396.43,168.36 L396.43,167.92 L396.77,167.92 L396.77,167.92 L397.10,167.92 L397.10,168.61 L397.43,168.61 L397.43,179.83 L397.76,179.83 L397.76,174.04 L398.10,174.04 L398.10,178.47 L398.43,178.47 L398.43,192.18 L398.76,192.18 L398.76,191.96 L399.09,191.96 L399.09,191.51 L399.43,191.51 L399.43,190.14 L399.76,190.14 L399.76,190.14 L400.09,190.14 L400.09,190.23 L400.42,190.23 L400.42,195.84 L400.75,195.84 L400.75,200.73 L401.09,200.73 L401.09,201.12 L401.42,201.12 L401.42,198.55 L401.75,198.55 L401.75,203.43 L402.08,203.43 L402.08,198.43 L402.42,198.43 L402.42,201.85 L402.75,201.85 L402.75,189.85 L403.08,189.85 L403.08,188.81 L403.41,188.81 L403.41,184.73 L403.75,184.73 L403.75,170.52 L404.08,170.52 L404.08,174.11 L404.41,174.11 L404.41,164.81 L404.74,164.81 L404.74,166.91 L405.08,166.91 L405.08,164.33 L405.41,164.33 L405.41,163.78 L405.74,163.78 L405.74,162.59 L406.07,162.59 L406.07,159.43 L406.40,159.43 L406.40,160.33 L406.60,160.33 L406.60,226.90Z" fill="#1f77b4"/>
<rect x="242" y="150.1" width="172" height="79.9" fill="none" stroke="#b8b8b8" stroke-width="0.6"/>
<line x1="250.20" y1="230" x2="250.20" y2="231.6" stroke="#9a9a9a" stroke-width="0.5"/>
<text x="250.20" y="237.50" class="tk" text-anchor="middle">0</text>
<line x1="269.75" y1="230" x2="269.75" y2="231.6" stroke="#9a9a9a" stroke-width="0.5"/>
<text x="269.75" y="237.50" class="tk" text-anchor="middle">10</text>
<line x1="289.30" y1="230" x2="289.30" y2="231.6" stroke="#9a9a9a" stroke-width="0.5"/>
<text x="289.30" y="237.50" class="tk" text-anchor="middle">20</text>
<line x1="308.85" y1="230" x2="308.85" y2="231.6" stroke="#9a9a9a" stroke-width="0.5"/>
<text x="308.85" y="237.50" class="tk" text-anchor="middle">30</text>
<line x1="328.40" y1="230" x2="328.40" y2="231.6" stroke="#9a9a9a" stroke-width="0.5"/>
<text x="328.40" y="237.50" class="tk" text-anchor="middle">40</text>
<line x1="347.95" y1="230" x2="347.95" y2="231.6" stroke="#9a9a9a" stroke-width="0.5"/>
<text x="347.95" y="237.50" class="tk" text-anchor="middle">50</text>
<line x1="367.50" y1="230" x2="367.50" y2="231.6" stroke="#9a9a9a" stroke-width="0.5"/>
<text x="367.50" y="237.50" class="tk" text-anchor="middle">60</text>
<line x1="387.05" y1="230" x2="387.05" y2="231.6" stroke="#9a9a9a" stroke-width="0.5"/>
<text x="387.05" y="237.50" class="tk" text-anchor="middle">70</text>
<line x1="406.60" y1="230" x2="406.60" y2="231.6" stroke="#9a9a9a" stroke-width="0.5"/>
<text x="406.60" y="237.50" class="tk" text-anchor="middle">80</text>
<line x1="240.4" y1="226.90" x2="242" y2="226.90" stroke="#9a9a9a" stroke-width="0.5"/>
<text x="240.30" y="229.90" class="tk" text-anchor="end">0</text>
<line x1="240.4" y1="206.70" x2="242" y2="206.70" stroke="#9a9a9a" stroke-width="0.5"/>
<text x="240.30" y="209.70" class="tk" text-anchor="end">100</text>
<line x1="240.4" y1="186.50" x2="242" y2="186.50" stroke="#9a9a9a" stroke-width="0.5"/>
<text x="240.30" y="189.50" class="tk" text-anchor="end">200</text>
<line x1="240.4" y1="166.30" x2="242" y2="166.30" stroke="#9a9a9a" stroke-width="0.5"/>
<text x="240.30" y="169.30" class="tk" text-anchor="end">300</text>
<text x="328.00" y="245.00" class="al xl" text-anchor="middle">Time [us]</text>
<text transform="translate(223.70,190.05) rotate(-90)" class="al" text-anchor="middle">Power consumption [mW]</text>
<text transform="translate(317.6,264.7) scale(1.115,1)" class="cap" text-anchor="middle">(<tspan class="b">d</tspan>) DAA architecture, key <tspan class="mono">k3</tspan></text>
<line x1="35.85" y1="291.1" x2="35.85" y2="370.9" stroke="#d4d4d4" stroke-width="0.5"/>
<line x1="55.39" y1="291.1" x2="55.39" y2="370.9" stroke="#d4d4d4" stroke-width="0.5"/>
<line x1="74.93" y1="291.1" x2="74.93" y2="370.9" stroke="#d4d4d4" stroke-width="0.5"/>
<line x1="94.47" y1="291.1" x2="94.47" y2="370.9" stroke="#d4d4d4" stroke-width="0.5"/>
<line x1="114.01" y1="291.1" x2="114.01" y2="370.9" stroke="#d4d4d4" stroke-width="0.5"/>
<line x1="133.55" y1="291.1" x2="133.55" y2="370.9" stroke="#d4d4d4" stroke-width="0.5"/>
<line x1="153.09" y1="291.1" x2="153.09" y2="370.9" stroke="#d4d4d4" stroke-width="0.5"/>
<line x1="172.63" y1="291.1" x2="172.63" y2="370.9" stroke="#d4d4d4" stroke-width="0.5"/>
<line x1="192.17" y1="291.1" x2="192.17" y2="370.9" stroke="#d4d4d4" stroke-width="0.5"/>
<line x1="28.3" y1="368.06" x2="200.1" y2="368.06" stroke="#d4d4d4" stroke-width="0.5"/>
<line x1="28.3" y1="349.66" x2="200.1" y2="349.66" stroke="#d4d4d4" stroke-width="0.5"/>
<line x1="28.3" y1="331.26" x2="200.1" y2="331.26" stroke="#d4d4d4" stroke-width="0.5"/>
<line x1="28.3" y1="312.86" x2="200.1" y2="312.86" stroke="#d4d4d4" stroke-width="0.5"/>
<line x1="28.3" y1="294.46" x2="200.1" y2="294.46" stroke="#d4d4d4" stroke-width="0.5"/>
<path d="M35.85,368.06 L35.85,350.49 L36.18,350.49 L36.18,349.62 L36.51,349.62 L36.51,348.98 L36.85,348.98 L36.85,350.48 L37.18,350.48 L37.18,348.94 L37.51,348.94 L37.51,344.91 L37.84,344.91 L37.84,342.66 L38.18,342.66 L38.18,348.14 L38.51,348.14 L38.51,344.99 L38.84,344.99 L38.84,337.11 L39.17,337.11 L39.17,342.77 L39.50,342.77 L39.50,335.50 L39.84,335.50 L39.84,332.69 L40.17,332.69 L40.17,331.81 L40.50,331.81 L40.50,331.81 L40.83,331.81 L40.83,332.73 L41.16,332.73 L41.16,337.65 L41.50,337.65 L41.50,340.11 L41.83,340.11 L41.83,342.51 L42.16,342.51 L42.16,347.54 L42.49,347.54 L42.49,348.22 L42.83,348.22 L42.83,343.30 L43.16,343.30 L43.16,345.76 L43.49,345.76 L43.49,339.74 L43.82,339.74 L43.82,337.28 L44.15,337.28 L44.15,336.18 L44.49,336.18 L44.49,340.68 L44.82,340.68 L44.82,338.12 L45.15,338.12 L45.15,332.47 L45.48,332.47 L45.48,337.08 L45.82,337.08 L45.82,330.23 L46.15,330.23 L46.15,330.57 L46.48,330.57 L46.48,330.16 L46.81,330.16 L46.81,331.33 L47.14,331.33 L47.14,333.57 L47.48,333.57 L47.48,332.10 L47.81,332.10 L47.81,332.71 L48.14,332.71 L48.14,341.60 L48.47,341.60 L48.47,339.03 L48.81,339.03 L48.81,346.64 L49.14,346.64 L49.14,346.09 L49.47,346.09 L49.47,350.45 L49.80,350.45 L49.80,349.72 L50.13,349.72 L50.13,345.27 L50.47,345.27 L50.47,348.00 L50.80,348.00 L50.80,345.56 L51.13,345.56 L51.13,345.91 L51.46,345.91 L51.46,335.55 L51.79,335.55 L51.79,335.66 L52.13,335.66 L52.13,333.47 L52.46,333.47 L52.46,333.47 L52.79,333.47 L52.79,334.13 L53.12,334.13 L53.12,339.73 L53.46,339.73 L53.46,334.76 L53.79,334.76 L53.79,333.47 L54.12,333.47 L54.12,333.47 L54.45,333.47 L54.45,334.59 L54.78,334.59 L54.78,335.69 L55.12,335.69 L55.12,341.08 L55.45,341.08 L55.45,349.88 L55.78,349.88 L55.78,340.82 L56.11,340.82 L56.11,344.41 L56.45,344.41 L56.45,331.51 L56.78,331.51 L56.78,327.38 L57.11,327.38 L57.11,330.34 L57.44,330.34 L57.44,320.01 L57.77,320.01 L57.77,316.69 L58.11,316.69 L58.11,312.21 L58.44,312.21 L58.44,314.41 L58.77,314.41 L58.77,319.01 L59.10,319.01 L59.10,308.24 L59.43,308.24 L59.43,308.08 L59.77,308.08 L59.77,308.08 L60.10,308.08 L60.10,311.50 L60.43,311.50 L60.43,319.59 L60.76,319.59 L60.76,324.91 L61.10,324.91 L61.10,329.72 L61.43,329.72 L61.43,331.67 L61.76,331.67 L61.76,334.08 L62.09,334.08 L62.09,332.22 L62.42,332.22 L62.42,324.36 L62.76,324.36 L62.76,333.59 L63.09,333.59 L63.09,330.97 L63.42,330.97 L63.42,333.29 L63.75,333.29 L63.75,318.87 L64.09,318.87 L64.09,321.14 L64.42,321.14 L64.42,313.88 L64.75,313.88 L64.75,318.29 L65.08,318.29 L65.08,307.68 L65.41,307.68 L65.41,305.50 L65.75,305.50 L65.75,308.08 L66.08,308.08 L66.08,312.51 L66.41,312.51 L66.41,306.27 L66.74,306.27 L66.74,308.08 L67.07,308.08 L67.07,305.50 L67.41,305.50 L67.41,305.50 L67.74,305.50 L67.74,317.51 L68.07,317.51 L68.07,308.18 L68.40,308.18 L68.40,323.52 L68.74,323.52 L68.74,321.90 L69.07,321.90 L69.07,320.28 L69.40,320.28 L69.40,324.35 L69.73,324.35 L69.73,327.72 L70.06,327.72 L70.06,334.62 L70.40,334.62 L70.40,324.94 L70.73,324.94 L70.73,326.29 L71.06,326.29 L71.06,332.90 L71.39,332.90 L71.39,326.71 L71.73,326.71 L71.73,319.58 L72.06,319.58 L72.06,318.20 L72.39,318.20 L72.39,318.20 L72.72,318.20 L72.72,319.30 L73.05,319.30 L73.05,333.35 L73.39,333.35 L73.39,324.14 L73.72,324.14 L73.72,328.58 L74.05,328.58 L74.05,317.45 L74.38,317.45 L74.38,315.62 L74.72,315.62 L74.72,317.84 L75.05,317.84 L75.05,329.10 L75.38,329.10 L75.38,326.49 L75.71,326.49 L75.71,329.15 L76.04,329.15 L76.04,331.08 L76.38,331.08 L76.38,340.16 L76.71,340.16 L76.71,335.94 L77.04,335.94 L77.04,338.62 L77.37,338.62 L77.37,336.66 L77.70,336.66 L77.70,339.63 L78.04,339.63 L78.04,343.35 L78.37,343.35 L78.37,341.03 L78.70,341.03 L78.70,345.45 L79.03,345.45 L79.03,342.38 L79.37,342.38 L79.37,346.81 L79.70,346.81 L79.70,342.17 L80.03,342.17 L80.03,342.24 L80.36,342.24 L80.36,333.31 L80.69,333.31 L80.69,337.56 L81.03,337.56 L81.03,335.79 L81.36,335.79 L81.36,327.53 L81.69,327.53 L81.69,316.18 L82.02,316.18 L82.02,313.76 L82.36,313.76 L82.36,313.02 L82.69,313.02 L82.69,311.72 L83.02,311.72 L83.02,317.71 L83.35,317.71 L83.35,314.21 L83.68,314.21 L83.68,318.84 L84.02,318.84 L84.02,299.17 L84.35,299.17 L84.35,314.38 L84.68,314.38 L84.68,301.88 L85.01,301.88 L85.01,297.04 L85.34,297.04 L85.34,297.04 L85.68,297.04 L85.68,298.78 L86.01,298.78 L86.01,319.34 L86.34,319.34 L86.34,306.10 L86.67,306.10 L86.67,305.39 L87.01,305.39 L87.01,317.38 L87.34,317.38 L87.34,333.81 L87.67,333.81 L87.67,322.69 L88.00,322.69 L88.00,317.20 L88.33,317.20 L88.33,321.61 L88.67,321.61 L88.67,317.22 L89.00,317.22 L89.00,310.81 L89.33,310.81 L89.33,311.07 L89.66,311.07 L89.66,307.64 L90.00,307.64 L90.00,305.67 L90.33,305.67 L90.33,312.43 L90.66,312.43 L90.66,304.99 L90.99,304.99 L90.99,320.35 L91.32,320.35 L91.32,312.25 L91.66,312.25 L91.66,304.89 L91.99,304.89 L91.99,304.58 L92.32,304.58 L92.32,306.20 L92.65,306.20 L92.65,321.94 L92.98,321.94 L92.98,314.85 L93.32,314.85 L93.32,320.15 L93.65,320.15 L93.65,316.47 L93.98,316.47 L93.98,319.26 L94.31,319.26 L94.31,331.64 L94.65,331.64 L94.65,326.32 L94.98,326.32 L94.98,318.19 L95.31,318.19 L95.31,319.13 L95.64,319.13 L95.64,319.31 L95.97,319.31 L95.97,324.64 L96.31,324.64 L96.31,317.07 L96.64,317.07 L96.64,316.54 L96.97,316.54 L96.97,319.59 L97.30,319.59 L97.30,331.21 L97.64,331.21 L97.64,332.10 L97.97,332.10 L97.97,331.43 L98.30,331.43 L98.30,323.64 L98.63,323.64 L98.63,317.01 L98.96,317.01 L98.96,321.00 L99.30,321.00 L99.30,317.58 L99.63,317.58 L99.63,315.09 L99.96,315.09 L99.96,314.88 L100.29,314.88 L100.29,315.82 L100.63,315.82 L100.63,318.78 L100.96,318.78 L100.96,325.30 L101.29,325.30 L101.29,333.88 L101.62,333.88 L101.62,342.43 L101.95,342.43 L101.95,340.91 L102.29,340.91 L102.29,345.00 L102.62,345.00 L102.62,336.70 L102.95,336.70 L102.95,341.31 L103.28,341.31 L103.28,342.60 L103.61,342.60 L103.61,338.56 L103.95,338.56 L103.95,347.15 L104.28,347.15 L104.28,340.61 L104.61,340.61 L104.61,343.75 L104.94,343.75 L104.94,347.98 L105.28,347.98 L105.28,340.76 L105.61,340.76 L105.61,328.70 L105.94,328.70 L105.94,336.28 L106.27,336.28 L106.27,329.07 L106.60,329.07 L106.60,326.11 L106.94,326.11 L106.94,317.04 L107.27,317.04 L107.27,322.36 L107.60,322.36 L107.60,310.48 L107.93,310.48 L107.93,317.24 L108.27,317.24 L108.27,305.21 L108.60,305.21 L108.60,318.34 L108.93,318.34 L108.93,314.75 L109.26,314.75 L109.26,319.61 L109.59,319.61 L109.59,318.38 L109.93,318.38 L109.93,314.17 L110.26,314.17 L110.26,298.69 L110.59,298.69 L110.59,298.69 L110.92,298.69 L110.92,298.77 L111.25,298.77 L111.25,311.02 L111.59,311.02 L111.59,315.08 L111.92,315.08 L111.92,318.89 L112.25,318.89 L112.25,309.86 L112.58,309.86 L112.58,322.33 L112.92,322.33 L112.92,324.39 L113.25,324.39 L113.25,320.20 L113.58,320.20 L113.58,326.07 L113.91,326.07 L113.91,321.66 L114.24,321.66 L114.24,312.45 L114.58,312.45 L114.58,319.14 L114.91,319.14 L114.91,313.47 L115.24,313.47 L115.24,306.91 L115.57,306.91 L115.57,305.50 L115.91,305.50 L115.91,305.50 L116.24,305.50 L116.24,306.82 L116.57,306.82 L116.57,318.55 L116.90,318.55 L116.90,313.35 L117.23,313.35 L117.23,306.92 L117.57,306.92 L117.57,319.59 L117.90,319.59 L117.90,317.92 L118.23,317.92 L118.23,320.67 L118.56,320.67 L118.56,310.06 L118.90,310.06 L118.90,324.47 L119.23,324.47 L119.23,324.45 L119.56,324.45 L119.56,320.33 L119.89,320.33 L119.89,320.33 L120.22,320.33 L120.22,326.47 L120.56,326.47 L120.56,322.01 L120.89,322.01 L120.89,321.78 L121.22,321.78 L121.22,325.35 L121.55,325.35 L121.55,330.68 L121.88,330.68 L121.88,320.74 L122.22,320.74 L122.22,321.53 L122.55,321.53 L122.55,317.08 L122.88,317.08 L122.88,319.83 L123.21,319.83 L123.21,316.54 L123.55,316.54 L123.55,316.54 L123.88,316.54 L123.88,319.40 L124.21,319.40 L124.21,326.52 L124.54,326.52 L124.54,323.21 L124.87,323.21 L124.87,320.51 L125.21,320.51 L125.21,318.98 L125.54,318.98 L125.54,330.38 L125.87,330.38 L125.87,324.63 L126.20,324.63 L126.20,322.27 L126.54,322.27 L126.54,332.27 L126.87,332.27 L126.87,341.64 L127.20,341.64 L127.20,337.24 L127.53,337.24 L127.53,335.80 L127.86,335.80 L127.86,334.39 L128.20,334.39 L128.20,336.42 L128.53,336.42 L128.53,343.19 L128.86,343.19 L128.86,340.17 L129.19,340.17 L129.19,337.22 L129.52,337.22 L129.52,341.61 L129.86,341.61 L129.86,345.29 L130.19,345.29 L130.19,341.53 L130.52,341.53 L130.52,347.41 L130.85,347.41 L130.85,345.05 L131.19,345.05 L131.19,340.25 L131.52,340.25 L131.52,338.87 L131.85,338.87 L131.85,324.33 L132.18,324.33 L132.18,321.67 L132.51,321.67 L132.51,311.63 L132.85,311.63 L132.85,315.56 L133.18,315.56 L133.18,323.14 L133.51,323.14 L133.51,315.29 L133.84,315.29 L133.84,311.81 L134.18,311.81 L134.18,314.49 L134.51,314.49 L134.51,315.67 L134.84,315.67 L134.84,301.31 L135.17,301.31 L135.17,297.17 L135.50,297.17 L135.50,295.59 L135.84,295.59 L135.84,294.46 L136.17,294.46 L136.17,294.46 L136.50,294.46 L136.50,295.97 L136.83,295.97 L136.83,310.71 L137.16,310.71 L137.16,299.55 L137.50,299.55 L137.50,301.54 L137.83,301.54 L137.83,308.61 L138.16,308.61 L138.16,329.69 L138.49,329.69 L138.49,326.27 L138.83,326.27 L138.83,317.89 L139.16,317.89 L139.16,318.58 L139.49,318.58 L139.49,317.51 L139.82,317.51 L139.82,312.80 L140.15,312.80 L140.15,324.72 L140.49,324.72 L140.49,313.63 L140.82,313.63 L140.82,306.87 L141.15,306.87 L141.15,313.08 L141.48,313.08 L141.48,316.21 L141.82,316.21 L141.82,320.71 L142.15,320.71 L142.15,307.14 L142.48,307.14 L142.48,305.69 L142.81,305.69 L142.81,305.50 L143.14,305.50 L143.14,305.50 L143.48,305.50 L143.48,307.99 L143.81,307.99 L143.81,310.92 L144.14,310.92 L144.14,311.20 L144.47,311.20 L144.47,321.83 L144.81,321.83 L144.81,316.93 L145.14,316.93 L145.14,322.42 L145.47,322.42 L145.47,319.41 L145.80,319.41 L145.80,317.46 L146.13,317.46 L146.13,317.46 L146.47,317.46 L146.47,317.96 L146.80,317.96 L146.80,318.45 L147.13,318.45 L147.13,326.00 L147.46,326.00 L147.46,326.17 L147.79,326.17 L147.79,321.96 L148.13,321.96 L148.13,319.34 L148.46,319.34 L148.46,322.86 L148.79,322.86 L148.79,320.16 L149.12,320.16 L149.12,326.40 L149.46,326.40 L149.46,323.21 L149.79,323.21 L149.79,319.05 L150.12,319.05 L150.12,317.12 L150.45,317.12 L150.45,314.88 L150.78,314.88 L150.78,314.88 L151.12,314.88 L151.12,317.19 L151.45,317.19 L151.45,329.49 L151.78,329.49 L151.78,328.96 L152.11,328.96 L152.11,334.87 L152.45,334.87 L152.45,338.83 L152.78,338.83 L152.78,339.00 L153.11,339.00 L153.11,336.37 L153.44,336.37 L153.44,336.04 L153.77,336.04 L153.77,336.04 L154.11,336.04 L154.11,345.45 L154.44,345.45 L154.44,343.82 L154.77,343.82 L154.77,341.83 L155.10,341.83 L155.10,345.47 L155.43,345.47 L155.43,343.80 L155.77,343.80 L155.77,346.64 L156.10,346.64 L156.10,344.33 L156.43,344.33 L156.43,331.86 L156.76,331.86 L156.76,331.38 L157.10,331.38 L157.10,322.65 L157.43,322.65 L157.43,330.86 L157.76,330.86 L157.76,326.25 L158.09,326.25 L158.09,324.33 L158.42,324.33 L158.42,312.69 L158.76,312.69 L158.76,320.11 L159.09,320.11 L159.09,312.29 L159.42,312.29 L159.42,305.31 L159.75,305.31 L159.75,309.05 L160.09,309.05 L160.09,311.08 L160.42,311.08 L160.42,307.64 L160.75,307.64 L160.75,301.51 L161.08,301.51 L161.08,299.61 L161.41,299.61 L161.41,299.61 L161.75,299.61 L161.75,300.60 L162.08,300.60 L162.08,314.01 L162.41,314.01 L162.41,311.24 L162.74,311.24 L162.74,310.89 L163.07,310.89 L163.07,321.75 L163.41,321.75 L163.41,317.73 L163.74,317.73 L163.74,326.61 L164.07,326.61 L164.07,324.23 L164.40,324.23 L164.40,317.99 L164.74,317.99 L164.74,324.77 L165.07,324.77 L165.07,323.29 L165.40,323.29 L165.40,318.32 L165.73,318.32 L165.73,326.05 L166.06,326.05 L166.06,320.36 L166.40,320.36 L166.40,320.19 L166.73,320.19 L166.73,306.62 L167.06,306.62 L167.06,311.00 L167.39,311.00 L167.39,307.88 L167.73,307.88 L167.73,309.94 L168.06,309.94 L168.06,315.29 L168.39,315.29 L168.39,304.06 L168.72,304.06 L168.72,303.84 L169.05,303.84 L169.05,304.27 L169.39,304.27 L169.39,317.19 L169.72,317.19 L169.72,306.35 L170.05,306.35 L170.05,310.22 L170.38,310.22 L170.38,311.10 L170.72,311.10 L170.72,309.56 L171.05,309.56 L171.05,321.06 L171.38,321.06 L171.38,322.14 L171.71,322.14 L171.71,326.10 L172.04,326.10 L172.04,324.88 L172.38,324.88 L172.38,322.24 L172.71,322.24 L172.71,323.04 L173.04,323.04 L173.04,330.11 L173.37,330.11 L173.37,322.32 L173.70,322.32 L173.70,333.80 L174.04,333.80 L174.04,323.50 L174.37,323.50 L174.37,329.96 L174.70,329.96 L174.70,327.36 L175.03,327.36 L175.03,323.64 L175.37,323.64 L175.37,330.07 L175.70,330.07 L175.70,318.20 L176.03,318.20 L176.03,318.20 L176.36,318.20 L176.36,319.07 L176.69,319.07 L176.69,323.83 L177.03,323.83 L177.03,324.43 L177.36,324.43 L177.36,332.44 L177.69,332.44 L177.69,332.25 L178.02,332.25 L178.02,342.25 L178.36,342.25 L178.36,336.91 L178.69,336.91 L178.69,336.04 L179.02,336.04 L179.02,336.04 L179.35,336.04 L179.35,336.81 L179.68,336.81 L179.68,338.13 L180.02,338.13 L180.02,343.94 L180.35,343.94 L180.35,344.04 L180.68,344.04 L180.68,343.77 L181.01,343.77 L181.01,343.13 L181.34,343.13 L181.34,343.86 L181.68,343.86 L181.68,339.09 L182.01,339.09 L182.01,336.57 L182.34,336.57 L182.34,330.00 L182.67,330.00 L182.67,335.25 L183.01,335.25 L183.01,327.38 L183.34,327.38 L183.34,312.86 L183.67,312.86 L183.67,312.42 L184.00,312.42 L184.00,316.57 L184.33,316.57 L184.33,322.11 L184.67,322.11 L184.67,315.73 L185.00,315.73 L185.00,311.95 L185.33,311.95 L185.33,320.90 L185.66,320.90 L185.66,307.45 L186.00,307.45 L186.00,301.90 L186.33,301.90 L186.33,312.03 L186.66,312.03 L186.66,300.35 L186.99,300.35 L186.99,300.35 L187.32,300.35 L187.32,304.75 L187.66,304.75 L187.66,318.62 L187.99,318.62 L187.99,304.11 L188.32,304.11 L188.32,311.37 L188.65,311.37 L188.65,324.56 L188.98,324.56 L188.98,326.05 L189.32,326.05 L189.32,325.04 L189.65,325.04 L189.65,329.40 L189.98,329.40 L189.98,325.76 L190.31,325.76 L190.31,321.84 L190.65,321.84 L190.65,329.40 L190.98,329.40 L190.98,328.13 L191.31,328.13 L191.31,322.64 L191.64,322.64 L191.64,321.69 L191.97,321.69 L191.97,322.89 L192.17,322.89 L192.17,368.06Z" fill="#1f77b4"/>
<rect x="28.3" y="291.1" width="171.79999999999998" height="79.79999999999995" fill="none" stroke="#b8b8b8" stroke-width="0.6"/>
<line x1="35.85" y1="370.9" x2="35.85" y2="372.5" stroke="#9a9a9a" stroke-width="0.5"/>
<text x="35.85" y="378.40" class="tk" text-anchor="middle">0</text>
<line x1="55.39" y1="370.9" x2="55.39" y2="372.5" stroke="#9a9a9a" stroke-width="0.5"/>
<text x="55.39" y="378.40" class="tk" text-anchor="middle">10</text>
<line x1="74.93" y1="370.9" x2="74.93" y2="372.5" stroke="#9a9a9a" stroke-width="0.5"/>
<text x="74.93" y="378.40" class="tk" text-anchor="middle">20</text>
<line x1="94.47" y1="370.9" x2="94.47" y2="372.5" stroke="#9a9a9a" stroke-width="0.5"/>
<text x="94.47" y="378.40" class="tk" text-anchor="middle">30</text>
<line x1="114.01" y1="370.9" x2="114.01" y2="372.5" stroke="#9a9a9a" stroke-width="0.5"/>
<text x="114.01" y="378.40" class="tk" text-anchor="middle">40</text>
<line x1="133.55" y1="370.9" x2="133.55" y2="372.5" stroke="#9a9a9a" stroke-width="0.5"/>
<text x="133.55" y="378.40" class="tk" text-anchor="middle">50</text>
<line x1="153.09" y1="370.9" x2="153.09" y2="372.5" stroke="#9a9a9a" stroke-width="0.5"/>
<text x="153.09" y="378.40" class="tk" text-anchor="middle">60</text>
<line x1="172.63" y1="370.9" x2="172.63" y2="372.5" stroke="#9a9a9a" stroke-width="0.5"/>
<text x="172.63" y="378.40" class="tk" text-anchor="middle">70</text>
<line x1="192.17" y1="370.9" x2="192.17" y2="372.5" stroke="#9a9a9a" stroke-width="0.5"/>
<text x="192.17" y="378.40" class="tk" text-anchor="middle">80</text>
<line x1="26.7" y1="368.06" x2="28.3" y2="368.06" stroke="#9a9a9a" stroke-width="0.5"/>
<text x="26.00" y="371.06" class="tk" text-anchor="end">0</text>
<line x1="26.7" y1="349.66" x2="28.3" y2="349.66" stroke="#9a9a9a" stroke-width="0.5"/>
<text x="26.00" y="352.66" class="tk" text-anchor="end">100</text>
<line x1="26.7" y1="331.26" x2="28.3" y2="331.26" stroke="#9a9a9a" stroke-width="0.5"/>
<text x="26.00" y="334.26" class="tk" text-anchor="end">200</text>
<line x1="26.7" y1="312.86" x2="28.3" y2="312.86" stroke="#9a9a9a" stroke-width="0.5"/>
<text x="26.00" y="315.86" class="tk" text-anchor="end">300</text>
<line x1="26.7" y1="294.46" x2="28.3" y2="294.46" stroke="#9a9a9a" stroke-width="0.5"/>
<text x="26.00" y="297.46" class="tk" text-anchor="end">400</text>
<text x="114.20" y="385.90" class="al xl" text-anchor="middle">Time [us]</text>
<text transform="translate(10.00,331.00) rotate(-90)" class="al" text-anchor="middle">Power consumption [mW]</text>
<text transform="translate(102.8,406.2) scale(1.115,1)" class="cap" text-anchor="middle">(<tspan class="b">e</tspan>) MDAA architecture, key <tspan class="mono">k1</tspan></text>
<line x1="250.20" y1="291.1" x2="250.20" y2="370.9" stroke="#d4d4d4" stroke-width="0.5"/>
<line x1="269.75" y1="291.1" x2="269.75" y2="370.9" stroke="#d4d4d4" stroke-width="0.5"/>
<line x1="289.30" y1="291.1" x2="289.30" y2="370.9" stroke="#d4d4d4" stroke-width="0.5"/>
<line x1="308.85" y1="291.1" x2="308.85" y2="370.9" stroke="#d4d4d4" stroke-width="0.5"/>
<line x1="328.40" y1="291.1" x2="328.40" y2="370.9" stroke="#d4d4d4" stroke-width="0.5"/>
<line x1="347.95" y1="291.1" x2="347.95" y2="370.9" stroke="#d4d4d4" stroke-width="0.5"/>
<line x1="367.50" y1="291.1" x2="367.50" y2="370.9" stroke="#d4d4d4" stroke-width="0.5"/>
<line x1="387.05" y1="291.1" x2="387.05" y2="370.9" stroke="#d4d4d4" stroke-width="0.5"/>
<line x1="406.60" y1="291.1" x2="406.60" y2="370.9" stroke="#d4d4d4" stroke-width="0.5"/>
<line x1="242" y1="368.06" x2="414" y2="368.06" stroke="#d4d4d4" stroke-width="0.5"/>
<line x1="242" y1="349.66" x2="414" y2="349.66" stroke="#d4d4d4" stroke-width="0.5"/>
<line x1="242" y1="331.26" x2="414" y2="331.26" stroke="#d4d4d4" stroke-width="0.5"/>
<line x1="242" y1="312.86" x2="414" y2="312.86" stroke="#d4d4d4" stroke-width="0.5"/>
<line x1="242" y1="294.46" x2="414" y2="294.46" stroke="#d4d4d4" stroke-width="0.5"/>
<path d="M250.20,368.06 L250.20,350.61 L250.53,350.61 L250.53,351.01 L250.86,351.01 L250.86,348.77 L251.20,348.77 L251.20,346.75 L251.53,346.75 L251.53,349.07 L251.86,349.07 L251.86,344.57 L252.19,344.57 L252.19,346.05 L252.53,346.05 L252.53,346.38 L252.86,346.38 L252.86,343.59 L253.19,343.59 L253.19,339.03 L253.52,339.03 L253.52,343.35 L253.86,343.35 L253.86,337.02 L254.19,337.02 L254.19,338.62 L254.52,338.62 L254.52,340.09 L254.85,340.09 L254.85,331.81 L255.19,331.81 L255.19,331.81 L255.52,331.81 L255.52,332.49 L255.85,332.49 L255.85,331.91 L256.18,331.91 L256.18,339.12 L256.51,339.12 L256.51,340.70 L256.85,340.70 L256.85,343.60 L257.18,343.60 L257.18,343.62 L257.51,343.62 L257.51,344.13 L257.84,344.13 L257.84,337.14 L258.18,337.14 L258.18,335.76 L258.51,335.76 L258.51,337.88 L258.84,337.88 L258.84,342.34 L259.17,342.34 L259.17,334.33 L259.51,334.33 L259.51,333.86 L259.84,333.86 L259.84,331.84 L260.17,331.84 L260.17,330.37 L260.50,330.37 L260.50,330.37 L260.84,330.37 L260.84,330.16 L261.17,330.16 L261.17,330.78 L261.50,330.78 L261.50,333.63 L261.83,333.63 L261.83,333.06 L262.16,333.06 L262.16,337.33 L262.50,337.33 L262.50,337.91 L262.83,337.91 L262.83,336.76 L263.16,336.76 L263.16,341.18 L263.49,341.18 L263.49,343.34 L263.83,343.34 L263.83,347.28 L264.16,347.28 L264.16,350.68 L264.49,350.68 L264.49,347.28 L264.82,347.28 L264.82,346.13 L265.16,346.13 L265.16,344.14 L265.49,344.14 L265.49,343.36 L265.82,343.36 L265.82,342.14 L266.15,342.14 L266.15,333.98 L266.49,333.98 L266.49,333.47 L266.82,333.47 L266.82,335.79 L267.15,335.79 L267.15,341.09 L267.48,341.09 L267.48,342.94 L267.81,342.94 L267.81,334.55 L268.15,334.55 L268.15,333.47 L268.48,333.47 L268.48,333.47 L268.81,333.47 L268.81,336.36 L269.14,336.36 L269.14,344.42 L269.48,344.42 L269.48,342.80 L269.81,342.80 L269.81,347.56 L270.14,347.56 L270.14,340.89 L270.47,340.89 L270.47,343.82 L270.81,343.82 L270.81,333.30 L271.14,333.30 L271.14,319.33 L271.47,319.33 L271.47,322.40 L271.80,322.40 L271.80,326.02 L272.14,326.02 L272.14,311.86 L272.47,311.86 L272.47,309.70 L272.80,309.70 L272.80,315.93 L273.13,315.93 L273.13,321.81 L273.46,321.81 L273.46,309.98 L273.80,309.98 L273.80,308.08 L274.13,308.08 L274.13,308.08 L274.46,308.08 L274.46,310.68 L274.79,310.68 L274.79,313.69 L275.13,313.69 L275.13,312.73 L275.46,312.73 L275.46,327.72 L275.79,327.72 L275.79,327.05 L276.12,327.05 L276.12,334.53 L276.46,334.53 L276.46,325.44 L276.79,325.44 L276.79,328.54 L277.12,328.54 L277.12,325.24 L277.45,325.24 L277.45,322.66 L277.79,322.66 L277.79,325.68 L278.12,325.68 L278.12,319.42 L278.45,319.42 L278.45,326.67 L278.78,326.67 L278.78,320.77 L279.11,320.77 L279.11,310.17 L279.45,310.17 L279.45,307.30 L279.78,307.30 L279.78,305.50 L280.11,305.50 L280.11,306.11 L280.44,306.11 L280.44,309.26 L280.78,309.26 L280.78,308.28 L281.11,308.28 L281.11,305.50 L281.44,305.50 L281.44,308.32 L281.77,308.32 L281.77,308.34 L282.11,308.34 L282.11,320.02 L282.44,320.02 L282.44,322.18 L282.77,322.18 L282.77,329.50 L283.10,329.50 L283.10,331.71 L283.44,331.71 L283.44,325.14 L283.77,325.14 L283.77,323.54 L284.10,323.54 L284.10,321.70 L284.43,321.70 L284.43,333.91 L284.76,333.91 L284.76,323.63 L285.10,323.63 L285.10,324.92 L285.43,324.92 L285.43,327.62 L285.76,327.62 L285.76,319.85 L286.09,319.85 L286.09,321.41 L286.43,321.41 L286.43,319.12 L286.76,319.12 L286.76,319.12 L287.09,319.12 L287.09,322.37 L287.42,322.37 L287.42,321.45 L287.76,321.45 L287.76,327.87 L288.09,327.87 L288.09,324.39 L288.42,324.39 L288.42,327.88 L288.75,327.88 L288.75,319.46 L289.08,319.46 L289.08,316.17 L289.42,316.17 L289.42,317.30 L289.75,317.30 L289.75,319.66 L290.08,319.66 L290.08,330.62 L290.41,330.62 L290.41,327.06 L290.75,327.06 L290.75,327.11 L291.08,327.11 L291.08,337.34 L291.41,337.34 L291.41,340.20 L291.74,340.20 L291.74,344.49 L292.08,344.49 L292.08,341.40 L292.41,341.40 L292.41,337.01 L292.74,337.01 L292.74,337.72 L293.07,337.72 L293.07,340.86 L293.41,340.86 L293.41,344.16 L293.74,344.16 L293.74,343.30 L294.07,343.30 L294.07,344.54 L294.40,344.54 L294.40,334.92 L294.73,334.92 L294.73,324.81 L295.07,324.81 L295.07,323.85 L295.40,323.85 L295.40,317.48 L295.73,317.48 L295.73,316.54 L296.06,316.54 L296.06,316.54 L296.40,316.54 L296.40,317.69 L296.73,317.69 L296.73,323.33 L297.06,323.33 L297.06,325.64 L297.39,325.64 L297.39,316.21 L297.73,316.21 L297.73,324.43 L298.06,324.43 L298.06,318.91 L298.39,318.91 L298.39,325.04 L298.72,325.04 L298.72,316.55 L299.06,316.55 L299.06,313.86 L299.39,313.86 L299.39,309.09 L299.72,309.09 L299.72,309.00 L300.05,309.00 L300.05,311.67 L300.38,311.67 L300.38,310.20 L300.72,310.20 L300.72,324.49 L301.05,324.49 L301.05,324.97 L301.38,324.97 L301.38,325.98 L301.71,325.98 L301.71,329.15 L302.05,329.15 L302.05,326.58 L302.38,326.58 L302.38,325.68 L302.71,325.68 L302.71,325.93 L303.04,325.93 L303.04,324.95 L303.38,324.95 L303.38,313.38 L303.71,313.38 L303.71,327.01 L304.04,327.01 L304.04,324.60 L304.37,324.60 L304.37,310.04 L304.71,310.04 L304.71,310.81 L305.04,310.81 L305.04,315.45 L305.37,315.45 L305.37,314.26 L305.70,314.26 L305.70,314.19 L306.03,314.19 L306.03,308.27 L306.37,308.27 L306.37,305.87 L306.70,305.87 L306.70,305.87 L307.03,305.87 L307.03,305.91 L307.36,305.91 L307.36,324.75 L307.70,324.75 L307.70,316.68 L308.03,316.68 L308.03,320.93 L308.36,320.93 L308.36,329.55 L308.69,329.55 L308.69,323.99 L309.03,323.99 L309.03,329.62 L309.36,329.62 L309.36,332.29 L309.69,332.29 L309.69,329.30 L310.02,329.30 L310.02,330.76 L310.36,330.76 L310.36,324.65 L310.69,324.65 L310.69,318.75 L311.02,318.75 L311.02,318.88 L311.35,318.88 L311.35,328.56 L311.68,328.56 L311.68,320.62 L312.02,320.62 L312.02,322.10 L312.35,322.10 L312.35,319.09 L312.68,319.09 L312.68,328.02 L313.01,328.02 L313.01,330.28 L313.35,330.28 L313.35,315.95 L313.68,315.95 L313.68,315.62 L314.01,315.62 L314.01,315.62 L314.34,315.62 L314.34,315.78 L314.68,315.78 L314.68,328.54 L315.01,328.54 L315.01,323.70 L315.34,323.70 L315.34,328.60 L315.67,328.60 L315.67,341.34 L316.01,341.34 L316.01,341.62 L316.34,341.62 L316.34,343.97 L316.67,343.97 L316.67,342.96 L317.00,342.96 L317.00,341.30 L317.33,341.30 L317.33,341.20 L317.67,341.20 L317.67,341.94 L318.00,341.94 L318.00,343.77 L318.33,343.77 L318.33,340.20 L318.66,340.20 L318.66,343.74 L319.00,343.74 L319.00,344.71 L319.33,344.71 L319.33,336.60 L319.66,336.60 L319.66,325.55 L319.99,325.55 L319.99,323.21 L320.33,323.21 L320.33,318.18 L320.66,318.18 L320.66,317.09 L320.99,317.09 L320.99,314.88 L321.32,314.88 L321.32,316.84 L321.66,316.84 L321.66,323.23 L321.99,323.23 L321.99,327.34 L322.32,327.34 L322.32,315.57 L322.65,315.57 L322.65,320.09 L322.98,320.09 L322.98,317.50 L323.32,317.50 L323.32,319.56 L323.65,319.56 L323.65,303.30 L323.98,303.30 L323.98,301.82 L324.31,301.82 L324.31,314.04 L324.65,314.04 L324.65,308.84 L324.98,308.84 L324.98,301.66 L325.31,301.66 L325.31,297.77 L325.64,297.77 L325.64,299.26 L325.98,299.26 L325.98,310.02 L326.31,310.02 L326.31,304.00 L326.64,304.00 L326.64,320.75 L326.97,320.75 L326.97,316.75 L327.31,316.75 L327.31,324.80 L327.64,324.80 L327.64,331.41 L327.97,331.41 L327.97,322.73 L328.30,322.73 L328.30,316.95 L328.63,316.95 L328.63,323.01 L328.97,323.01 L328.97,323.08 L329.30,323.08 L329.30,311.80 L329.63,311.80 L329.63,305.85 L329.96,305.85 L329.96,305.50 L330.30,305.50 L330.30,305.50 L330.63,305.50 L330.63,306.04 L330.96,306.04 L330.96,308.32 L331.29,308.32 L331.29,306.46 L331.63,306.46 L331.63,312.98 L331.96,312.98 L331.96,311.16 L332.29,311.16 L332.29,315.46 L332.62,315.46 L332.62,324.82 L332.96,324.82 L332.96,319.89 L333.29,319.89 L333.29,325.93 L333.62,325.93 L333.62,317.18 L333.95,317.18 L333.95,316.54 L334.28,316.54 L334.28,316.54 L334.62,316.54 L334.62,316.69 L334.95,316.69 L334.95,317.84 L335.28,317.84 L335.28,325.51 L335.61,325.51 L335.61,320.89 L335.95,320.89 L335.95,329.23 L336.28,329.23 L336.28,317.14 L336.61,317.14 L336.61,322.03 L336.94,322.03 L336.94,316.54 L337.28,316.54 L337.28,316.54 L337.61,316.54 L337.61,317.58 L337.94,317.58 L337.94,319.30 L338.27,319.30 L338.27,317.45 L338.61,317.45 L338.61,331.49 L338.94,331.49 L338.94,319.74 L339.27,319.74 L339.27,316.54 L339.60,316.54 L339.60,316.54 L339.93,316.54 L339.93,316.95 L340.27,316.95 L340.27,318.75 L340.60,318.75 L340.60,327.27 L340.93,327.27 L340.93,330.49 L341.26,330.49 L341.26,337.84 L341.60,337.84 L341.60,335.82 L341.93,335.82 L341.93,335.31 L342.26,335.31 L342.26,335.88 L342.59,335.88 L342.59,335.47 L342.93,335.47 L342.93,344.71 L343.26,344.71 L343.26,337.11 L343.59,337.11 L343.59,343.54 L343.92,343.54 L343.92,343.77 L344.26,343.77 L344.26,341.92 L344.59,341.92 L344.59,341.24 L344.92,341.24 L344.92,343.12 L345.25,343.12 L345.25,336.17 L345.58,336.17 L345.58,327.11 L345.92,327.11 L345.92,320.25 L346.25,320.25 L346.25,320.81 L346.58,320.81 L346.58,320.74 L346.91,320.74 L346.91,309.75 L347.25,309.75 L347.25,318.59 L347.58,318.59 L347.58,313.73 L347.91,313.73 L347.91,319.65 L348.24,319.65 L348.24,312.52 L348.58,312.52 L348.58,306.65 L348.91,306.65 L348.91,304.82 L349.24,304.82 L349.24,299.14 L349.57,299.14 L349.57,301.39 L349.91,301.39 L349.91,297.49 L350.24,297.49 L350.24,294.46 L350.57,294.46 L350.57,294.46 L350.90,294.46 L350.90,295.22 L351.23,295.22 L351.23,300.89 L351.57,300.89 L351.57,313.06 L351.90,313.06 L351.90,308.27 L352.23,308.27 L352.23,317.71 L352.56,317.71 L352.56,322.64 L352.90,322.64 L352.90,320.64 L353.23,320.64 L353.23,317.49 L353.56,317.49 L353.56,324.87 L353.89,324.87 L353.89,311.46 L354.23,311.46 L354.23,312.69 L354.56,312.69 L354.56,313.94 L354.89,313.94 L354.89,318.95 L355.22,318.95 L355.22,311.75 L355.55,311.75 L355.55,315.85 L355.89,315.85 L355.89,319.46 L356.22,319.46 L356.22,309.93 L356.55,309.93 L356.55,310.92 L356.88,310.92 L356.88,306.45 L357.22,306.45 L357.22,306.42 L357.55,306.42 L357.55,306.42 L357.88,306.42 L357.88,308.86 L358.21,308.86 L358.21,324.88 L358.55,324.88 L358.55,313.18 L358.88,313.18 L358.88,320.67 L359.21,320.67 L359.21,328.15 L359.54,328.15 L359.54,324.87 L359.88,324.87 L359.88,329.62 L360.21,329.62 L360.21,327.71 L360.54,327.71 L360.54,325.80 L360.87,325.80 L360.87,327.09 L361.20,327.09 L361.20,323.10 L361.54,323.10 L361.54,327.89 L361.87,327.89 L361.87,328.56 L362.20,328.56 L362.20,324.71 L362.53,324.71 L362.53,319.99 L362.87,319.99 L362.87,326.37 L363.20,326.37 L363.20,327.81 L363.53,327.81 L363.53,326.25 L363.86,326.25 L363.86,324.56 L364.20,324.56 L364.20,328.11 L364.53,328.11 L364.53,315.62 L364.86,315.62 L364.86,315.62 L365.19,315.62 L365.19,318.63 L365.53,318.63 L365.53,324.07 L365.86,324.07 L365.86,321.51 L366.19,321.51 L366.19,336.52 L366.52,336.52 L366.52,340.01 L366.85,340.01 L366.85,336.39 L367.19,336.39 L367.19,336.04 L367.52,336.04 L367.52,336.04 L367.85,336.04 L367.85,337.72 L368.18,337.72 L368.18,344.28 L368.52,344.28 L368.52,337.36 L368.85,337.36 L368.85,344.68 L369.18,344.68 L369.18,346.71 L369.51,346.71 L369.51,342.30 L369.85,342.30 L369.85,343.08 L370.18,343.08 L370.18,347.96 L370.51,347.96 L370.51,340.70 L370.84,340.70 L370.84,335.33 L371.18,335.33 L371.18,330.94 L371.51,330.94 L371.51,329.24 L371.84,329.24 L371.84,327.74 L372.17,327.74 L372.17,316.71 L372.50,316.71 L372.50,320.15 L372.84,320.15 L372.84,310.52 L373.17,310.52 L373.17,307.51 L373.50,307.51 L373.50,322.73 L373.83,322.73 L373.83,306.55 L374.17,306.55 L374.17,306.13 L374.50,306.13 L374.50,313.65 L374.83,313.65 L374.83,307.67 L375.16,307.67 L375.16,300.99 L375.50,300.99 L375.50,300.35 L375.83,300.35 L375.83,300.35 L376.16,300.35 L376.16,300.58 L376.49,300.58 L376.49,315.88 L376.83,315.88 L376.83,313.00 L377.16,313.00 L377.16,311.11 L377.49,311.11 L377.49,320.00 L377.82,320.00 L377.82,322.77 L378.15,322.77 L378.15,329.66 L378.49,329.66 L378.49,316.00 L378.82,316.00 L378.82,321.11 L379.15,321.11 L379.15,315.08 L379.48,315.08 L379.48,325.41 L379.82,325.41 L379.82,320.65 L380.15,320.65 L380.15,318.65 L380.48,318.65 L380.48,309.19 L380.81,309.19 L380.81,307.06 L381.15,307.06 L381.15,315.60 L381.48,315.60 L381.48,314.98 L381.81,314.98 L381.81,315.33 L382.14,315.33 L382.14,320.94 L382.48,320.94 L382.48,304.89 L382.81,304.89 L382.81,303.84 L383.14,303.84 L383.14,303.84 L383.47,303.84 L383.47,307.67 L383.80,307.67 L383.80,309.95 L384.14,309.95 L384.14,318.29 L384.47,318.29 L384.47,314.10 L384.80,314.10 L384.80,319.43 L385.13,319.43 L385.13,324.55 L385.47,324.55 L385.47,333.07 L385.80,333.07 L385.80,324.63 L386.13,324.63 L386.13,331.33 L386.46,331.33 L386.46,327.45 L386.80,327.45 L386.80,320.61 L387.13,320.61 L387.13,320.19 L387.46,320.19 L387.46,320.04 L387.79,320.04 L387.79,320.15 L388.13,320.15 L388.13,329.08 L388.46,329.08 L388.46,334.83 L388.79,334.83 L388.79,323.86 L389.12,323.86 L389.12,325.65 L389.45,325.65 L389.45,322.21 L389.79,322.21 L389.79,318.75 L390.12,318.75 L390.12,315.62 L390.45,315.62 L390.45,315.62 L390.78,315.62 L390.78,318.19 L391.12,318.19 L391.12,329.53 L391.45,329.53 L391.45,325.36 L391.78,325.36 L391.78,334.31 L392.11,334.31 L392.11,337.23 L392.45,337.23 L392.45,336.00 L392.78,336.00 L392.78,335.65 L393.11,335.65 L393.11,335.31 L393.44,335.31 L393.44,336.71 L393.78,336.71 L393.78,342.49 L394.11,342.49 L394.11,337.82 L394.44,337.82 L394.44,345.29 L394.77,345.29 L394.77,344.91 L395.10,344.91 L395.10,344.52 L395.44,344.52 L395.44,340.05 L395.77,340.05 L395.77,341.47 L396.10,341.47 L396.10,339.58 L396.43,339.58 L396.43,333.02 L396.77,333.02 L396.77,332.67 L397.10,332.67 L397.10,319.72 L397.43,319.72 L397.43,312.72 L397.76,312.72 L397.76,319.09 L398.10,319.09 L398.10,321.81 L398.43,321.81 L398.43,318.83 L398.76,318.83 L398.76,313.29 L399.09,313.29 L399.09,314.28 L399.43,314.28 L399.43,314.19 L399.76,314.19 L399.76,309.59 L400.09,309.59 L400.09,302.85 L400.42,302.85 L400.42,307.31 L400.75,307.31 L400.75,312.89 L401.09,312.89 L401.09,301.27 L401.42,301.27 L401.42,301.27 L401.75,301.27 L401.75,302.31 L402.08,302.31 L402.08,306.59 L402.42,306.59 L402.42,322.48 L402.75,322.48 L402.75,309.84 L403.08,309.84 L403.08,318.59 L403.41,318.59 L403.41,319.95 L403.75,319.95 L403.75,335.37 L404.08,335.37 L404.08,330.05 L404.41,330.05 L404.41,324.77 L404.74,324.77 L404.74,334.02 L405.08,334.02 L405.08,323.47 L405.41,323.47 L405.41,327.39 L405.74,327.39 L405.74,324.33 L406.07,324.33 L406.07,321.69 L406.40,321.69 L406.40,324.69 L406.60,324.69 L406.60,368.06Z" fill="#1f77b4"/>
<rect x="242" y="291.1" width="172" height="79.79999999999995" fill="none" stroke="#b8b8b8" stroke-width="0.6"/>
<line x1="250.20" y1="370.9" x2="250.20" y2="372.5" stroke="#9a9a9a" stroke-width="0.5"/>
<text x="250.20" y="378.40" class="tk" text-anchor="middle">0</text>
<line x1="269.75" y1="370.9" x2="269.75" y2="372.5" stroke="#9a9a9a" stroke-width="0.5"/>
<text x="269.75" y="378.40" class="tk" text-anchor="middle">10</text>
<line x1="289.30" y1="370.9" x2="289.30" y2="372.5" stroke="#9a9a9a" stroke-width="0.5"/>
<text x="289.30" y="378.40" class="tk" text-anchor="middle">20</text>
<line x1="308.85" y1="370.9" x2="308.85" y2="372.5" stroke="#9a9a9a" stroke-width="0.5"/>
<text x="308.85" y="378.40" class="tk" text-anchor="middle">30</text>
<line x1="328.40" y1="370.9" x2="328.40" y2="372.5" stroke="#9a9a9a" stroke-width="0.5"/>
<text x="328.40" y="378.40" class="tk" text-anchor="middle">40</text>
<line x1="347.95" y1="370.9" x2="347.95" y2="372.5" stroke="#9a9a9a" stroke-width="0.5"/>
<text x="347.95" y="378.40" class="tk" text-anchor="middle">50</text>
<line x1="367.50" y1="370.9" x2="367.50" y2="372.5" stroke="#9a9a9a" stroke-width="0.5"/>
<text x="367.50" y="378.40" class="tk" text-anchor="middle">60</text>
<line x1="387.05" y1="370.9" x2="387.05" y2="372.5" stroke="#9a9a9a" stroke-width="0.5"/>
<text x="387.05" y="378.40" class="tk" text-anchor="middle">70</text>
<line x1="406.60" y1="370.9" x2="406.60" y2="372.5" stroke="#9a9a9a" stroke-width="0.5"/>
<text x="406.60" y="378.40" class="tk" text-anchor="middle">80</text>
<line x1="240.4" y1="368.06" x2="242" y2="368.06" stroke="#9a9a9a" stroke-width="0.5"/>
<text x="240.30" y="371.06" class="tk" text-anchor="end">0</text>
<line x1="240.4" y1="349.66" x2="242" y2="349.66" stroke="#9a9a9a" stroke-width="0.5"/>
<text x="240.30" y="352.66" class="tk" text-anchor="end">100</text>
<line x1="240.4" y1="331.26" x2="242" y2="331.26" stroke="#9a9a9a" stroke-width="0.5"/>
<text x="240.30" y="334.26" class="tk" text-anchor="end">200</text>
<line x1="240.4" y1="312.86" x2="242" y2="312.86" stroke="#9a9a9a" stroke-width="0.5"/>
<text x="240.30" y="315.86" class="tk" text-anchor="end">300</text>
<line x1="240.4" y1="294.46" x2="242" y2="294.46" stroke="#9a9a9a" stroke-width="0.5"/>
<text x="240.30" y="297.46" class="tk" text-anchor="end">400</text>
<text x="328.00" y="385.90" class="al xl" text-anchor="middle">Time [us]</text>
<text transform="translate(223.70,331.00) rotate(-90)" class="al" text-anchor="middle">Power consumption [mW]</text>
<text transform="translate(317,406.2) scale(1.115,1)" class="cap" text-anchor="middle">(<tspan class="b">f</tspan>) MDAA architecture, key <tspan class="mono">k3</tspan></text>
<line x1="35.85" y1="431.6" x2="35.85" y2="511.5" stroke="#d4d4d4" stroke-width="0.5"/>
<line x1="55.39" y1="431.6" x2="55.39" y2="511.5" stroke="#d4d4d4" stroke-width="0.5"/>
<line x1="74.93" y1="431.6" x2="74.93" y2="511.5" stroke="#d4d4d4" stroke-width="0.5"/>
<line x1="94.47" y1="431.6" x2="94.47" y2="511.5" stroke="#d4d4d4" stroke-width="0.5"/>
<line x1="114.01" y1="431.6" x2="114.01" y2="511.5" stroke="#d4d4d4" stroke-width="0.5"/>
<line x1="133.55" y1="431.6" x2="133.55" y2="511.5" stroke="#d4d4d4" stroke-width="0.5"/>
<line x1="153.09" y1="431.6" x2="153.09" y2="511.5" stroke="#d4d4d4" stroke-width="0.5"/>
<line x1="172.63" y1="431.6" x2="172.63" y2="511.5" stroke="#d4d4d4" stroke-width="0.5"/>
<line x1="192.17" y1="431.6" x2="192.17" y2="511.5" stroke="#d4d4d4" stroke-width="0.5"/>
<line x1="28.3" y1="508.70" x2="200.1" y2="508.70" stroke="#d4d4d4" stroke-width="0.5"/>
<line x1="28.3" y1="489.93" x2="200.1" y2="489.93" stroke="#d4d4d4" stroke-width="0.5"/>
<line x1="28.3" y1="471.16" x2="200.1" y2="471.16" stroke="#d4d4d4" stroke-width="0.5"/>
<line x1="28.3" y1="452.39" x2="200.1" y2="452.39" stroke="#d4d4d4" stroke-width="0.5"/>
<line x1="28.3" y1="433.62" x2="200.1" y2="433.62" stroke="#d4d4d4" stroke-width="0.5"/>
<path d="M35.85,508.70 L35.85,491.17 L36.18,491.17 L36.18,489.82 L36.51,489.82 L36.51,492.54 L36.85,492.54 L36.85,487.25 L37.18,487.25 L37.18,486.50 L37.51,486.50 L37.51,490.74 L37.84,490.74 L37.84,483.58 L38.18,483.58 L38.18,482.26 L38.51,482.26 L38.51,486.19 L38.84,486.19 L38.84,478.70 L39.17,478.70 L39.17,482.35 L39.50,482.35 L39.50,480.36 L39.84,480.36 L39.84,475.98 L40.17,475.98 L40.17,475.27 L40.50,475.27 L40.50,475.27 L40.83,475.27 L40.83,476.43 L41.16,476.43 L41.16,484.40 L41.50,484.40 L41.50,483.58 L41.83,483.58 L41.83,482.46 L42.16,482.46 L42.16,489.51 L42.49,489.51 L42.49,486.63 L42.83,486.63 L42.83,488.72 L43.16,488.72 L43.16,480.58 L43.49,480.58 L43.49,485.39 L43.82,485.39 L43.82,484.21 L44.15,484.21 L44.15,478.82 L44.49,478.82 L44.49,481.12 L44.82,481.12 L44.82,479.85 L45.15,479.85 L45.15,479.08 L45.48,479.08 L45.48,479.79 L45.82,479.79 L45.82,480.30 L46.15,480.30 L46.15,477.35 L46.48,477.35 L46.48,475.41 L46.81,475.41 L46.81,475.65 L47.14,475.65 L47.14,482.49 L47.48,482.49 L47.48,483.60 L47.81,483.60 L47.81,482.13 L48.14,482.13 L48.14,483.83 L48.47,483.83 L48.47,477.36 L48.81,477.36 L48.81,479.22 L49.14,479.22 L49.14,483.95 L49.47,483.95 L49.47,485.48 L49.80,485.48 L49.80,487.10 L50.13,487.10 L50.13,486.75 L50.47,486.75 L50.47,485.74 L50.80,485.74 L50.80,481.96 L51.13,481.96 L51.13,483.83 L51.46,483.83 L51.46,479.36 L51.79,479.36 L51.79,475.66 L52.13,475.66 L52.13,474.90 L52.46,474.90 L52.46,474.90 L52.79,474.90 L52.79,475.96 L53.12,475.96 L53.12,484.03 L53.46,484.03 L53.46,483.70 L53.79,483.70 L53.79,479.00 L54.12,479.00 L54.12,477.53 L54.45,477.53 L54.45,479.58 L54.78,479.58 L54.78,477.61 L55.12,477.61 L55.12,482.69 L55.45,482.69 L55.45,483.87 L55.78,483.87 L55.78,486.35 L56.11,486.35 L56.11,479.09 L56.45,479.09 L56.45,469.33 L56.78,469.33 L56.78,473.56 L57.11,473.56 L57.11,469.03 L57.44,469.03 L57.44,465.77 L57.77,465.77 L57.77,454.60 L58.11,454.60 L58.11,455.12 L58.44,455.12 L58.44,464.86 L58.77,464.86 L58.77,451.72 L59.10,451.72 L59.10,448.40 L59.43,448.40 L59.43,447.83 L59.77,447.83 L59.77,447.83 L60.10,447.83 L60.10,449.76 L60.43,449.76 L60.43,464.15 L60.76,464.15 L60.76,463.23 L61.10,463.23 L61.10,471.11 L61.43,471.11 L61.43,462.45 L61.76,462.45 L61.76,471.61 L62.09,471.61 L62.09,472.24 L62.42,472.24 L62.42,473.07 L62.76,473.07 L62.76,466.15 L63.09,466.15 L63.09,475.35 L63.42,475.35 L63.42,471.38 L63.75,471.38 L63.75,455.33 L64.09,455.33 L64.09,454.38 L64.42,454.38 L64.42,449.12 L64.75,449.12 L64.75,445.58 L65.08,445.58 L65.08,444.27 L65.41,444.27 L65.41,443.21 L65.75,443.21 L65.75,444.27 L66.08,444.27 L66.08,461.90 L66.41,461.90 L66.41,457.83 L66.74,457.83 L66.74,450.60 L67.07,450.60 L67.07,451.34 L67.41,451.34 L67.41,450.84 L67.74,450.84 L67.74,454.97 L68.07,454.97 L68.07,464.82 L68.40,464.82 L68.40,460.87 L68.74,460.87 L68.74,465.66 L69.07,465.66 L69.07,462.58 L69.40,462.58 L69.40,472.19 L69.73,472.19 L69.73,462.82 L70.06,462.82 L70.06,464.53 L70.40,464.53 L70.40,465.88 L70.73,465.88 L70.73,462.10 L71.06,462.10 L71.06,458.00 L71.39,458.00 L71.39,465.29 L71.73,465.29 L71.73,456.51 L72.06,456.51 L72.06,456.01 L72.39,456.01 L72.39,456.01 L72.72,456.01 L72.72,457.98 L73.05,457.98 L73.05,458.11 L73.39,458.11 L73.39,466.73 L73.72,466.73 L73.72,458.50 L74.05,458.50 L74.05,456.19 L74.38,456.19 L74.38,455.65 L74.72,455.65 L74.72,458.19 L75.05,458.19 L75.05,464.37 L75.38,464.37 L75.38,470.83 L75.71,470.83 L75.71,464.68 L76.04,464.68 L76.04,470.62 L76.38,470.62 L76.38,477.96 L76.71,477.96 L76.71,475.97 L77.04,475.97 L77.04,480.47 L77.37,480.47 L77.37,485.93 L77.70,485.93 L77.70,480.52 L78.04,480.52 L78.04,486.07 L78.37,486.07 L78.37,481.48 L78.70,481.48 L78.70,482.25 L79.03,482.25 L79.03,483.33 L79.37,483.33 L79.37,481.92 L79.70,481.92 L79.70,488.33 L80.03,488.33 L80.03,482.14 L80.36,482.14 L80.36,480.58 L80.69,480.58 L80.69,478.14 L81.03,478.14 L81.03,477.68 L81.36,477.68 L81.36,468.77 L81.69,468.77 L81.69,456.73 L82.02,456.73 L82.02,452.79 L82.36,452.79 L82.36,456.04 L82.69,456.04 L82.69,449.68 L83.02,449.68 L83.02,462.79 L83.35,462.79 L83.35,453.27 L83.68,453.27 L83.68,445.08 L84.02,445.08 L84.02,440.93 L84.35,440.93 L84.35,457.86 L84.68,457.86 L84.68,438.60 L85.01,438.60 L85.01,438.46 L85.34,438.46 L85.34,438.46 L85.68,438.46 L85.68,440.46 L86.01,440.46 L86.01,445.94 L86.34,445.94 L86.34,446.20 L86.67,446.20 L86.67,459.41 L87.01,459.41 L87.01,458.86 L87.34,458.86 L87.34,469.65 L87.67,469.65 L87.67,454.92 L88.00,454.92 L88.00,452.91 L88.33,452.91 L88.33,450.74 L88.67,450.74 L88.67,463.22 L89.00,463.22 L89.00,461.46 L89.33,461.46 L89.33,449.53 L89.66,449.53 L89.66,453.76 L90.00,453.76 L90.00,446.97 L90.33,446.97 L90.33,449.88 L90.66,449.88 L90.66,462.42 L90.99,462.42 L90.99,459.86 L91.32,459.86 L91.32,447.82 L91.66,447.82 L91.66,446.18 L91.99,446.18 L91.99,443.52 L92.32,443.52 L92.32,445.79 L92.65,445.79 L92.65,462.70 L92.98,462.70 L92.98,456.05 L93.32,456.05 L93.32,457.28 L93.65,457.28 L93.65,465.63 L93.98,465.63 L93.98,469.99 L94.31,469.99 L94.31,460.35 L94.65,460.35 L94.65,460.88 L94.98,460.88 L94.98,463.27 L95.31,463.27 L95.31,463.60 L95.64,463.60 L95.64,457.15 L95.97,457.15 L95.97,463.03 L96.31,463.03 L96.31,457.72 L96.64,457.72 L96.64,455.94 L96.97,455.94 L96.97,457.73 L97.30,457.73 L97.30,470.82 L97.64,470.82 L97.64,460.59 L97.97,460.59 L97.97,458.53 L98.30,458.53 L98.30,461.30 L98.63,461.30 L98.63,459.69 L98.96,459.69 L98.96,457.18 L99.30,457.18 L99.30,463.05 L99.63,463.05 L99.63,457.28 L99.96,457.28 L99.96,456.37 L100.29,456.37 L100.29,459.81 L100.63,459.81 L100.63,456.63 L100.96,456.63 L100.96,460.06 L101.29,460.06 L101.29,470.41 L101.62,470.41 L101.62,478.78 L101.95,478.78 L101.95,476.79 L102.29,476.79 L102.29,475.57 L102.62,475.57 L102.62,475.57 L102.95,475.57 L102.95,475.89 L103.28,475.89 L103.28,484.33 L103.61,484.33 L103.61,484.48 L103.95,484.48 L103.95,480.76 L104.28,480.76 L104.28,479.40 L104.61,479.40 L104.61,483.10 L104.94,483.10 L104.94,484.52 L105.28,484.52 L105.28,477.16 L105.61,477.16 L105.61,477.49 L105.94,477.49 L105.94,477.82 L106.27,477.82 L106.27,466.36 L106.60,466.36 L106.60,459.40 L106.94,459.40 L106.94,465.09 L107.27,465.09 L107.27,453.54 L107.60,453.54 L107.60,453.34 L107.93,453.34 L107.93,448.78 L108.27,448.78 L108.27,454.94 L108.60,454.94 L108.60,459.50 L108.93,459.50 L108.93,454.45 L109.26,454.45 L109.26,453.57 L109.59,453.57 L109.59,450.85 L109.93,450.85 L109.93,444.25 L110.26,444.25 L110.26,438.20 L110.59,438.20 L110.59,438.20 L110.92,438.20 L110.92,438.57 L111.25,438.57 L111.25,452.86 L111.59,452.86 L111.59,448.50 L111.92,448.50 L111.92,457.44 L112.25,457.44 L112.25,453.22 L112.58,453.22 L112.58,462.68 L112.92,462.68 L112.92,459.91 L113.25,459.91 L113.25,460.41 L113.58,460.41 L113.58,463.15 L113.91,463.15 L113.91,458.66 L114.24,458.66 L114.24,448.61 L114.58,448.61 L114.58,453.25 L114.91,453.25 L114.91,458.83 L115.24,458.83 L115.24,445.98 L115.57,445.98 L115.57,443.87 L115.91,443.87 L115.91,443.87 L116.24,443.87 L116.24,446.96 L116.57,446.96 L116.57,457.26 L116.90,457.26 L116.90,445.13 L117.23,445.13 L117.23,446.92 L117.57,446.92 L117.57,455.98 L117.90,455.98 L117.90,446.27 L118.23,446.27 L118.23,461.06 L118.56,461.06 L118.56,451.21 L118.90,451.21 L118.90,457.80 L119.23,457.80 L119.23,459.39 L119.56,459.39 L119.56,454.66 L119.89,454.66 L119.89,458.88 L120.22,458.88 L120.22,462.06 L120.56,462.06 L120.56,461.57 L120.89,461.57 L120.89,460.90 L121.22,460.90 L121.22,458.02 L121.55,458.02 L121.55,459.45 L121.88,459.45 L121.88,464.40 L122.22,464.40 L122.22,460.63 L122.55,460.63 L122.55,463.12 L122.88,463.12 L122.88,458.51 L123.21,458.51 L123.21,455.18 L123.55,455.18 L123.55,455.18 L123.88,455.18 L123.88,455.56 L124.21,455.56 L124.21,459.09 L124.54,459.09 L124.54,460.00 L124.87,460.00 L124.87,461.61 L125.21,461.61 L125.21,472.08 L125.54,472.08 L125.54,472.79 L125.87,472.79 L125.87,472.07 L126.20,472.07 L126.20,466.77 L126.54,466.77 L126.54,467.44 L126.87,467.44 L126.87,473.20 L127.20,473.20 L127.20,477.56 L127.53,477.56 L127.53,477.24 L127.86,477.24 L127.86,475.40 L128.20,475.40 L128.20,476.20 L128.53,476.20 L128.53,476.21 L128.86,476.21 L128.86,485.01 L129.19,485.01 L129.19,479.21 L129.52,479.21 L129.52,484.21 L129.86,484.21 L129.86,483.41 L130.19,483.41 L130.19,485.54 L130.52,485.54 L130.52,483.84 L130.85,483.84 L130.85,480.34 L131.19,480.34 L131.19,472.12 L131.52,472.12 L131.52,469.86 L131.85,469.86 L131.85,465.55 L132.18,465.55 L132.18,457.52 L132.51,457.52 L132.51,457.59 L132.85,457.59 L132.85,454.48 L133.18,454.48 L133.18,452.26 L133.51,452.26 L133.51,459.58 L133.84,459.58 L133.84,459.36 L134.18,459.36 L134.18,451.19 L134.51,451.19 L134.51,448.16 L134.84,448.16 L134.84,456.18 L135.17,456.18 L135.17,441.30 L135.50,441.30 L135.50,449.22 L135.84,449.22 L135.84,435.71 L136.17,435.71 L136.17,435.71 L136.50,435.71 L136.50,440.50 L136.83,440.50 L136.83,456.53 L137.16,456.53 L137.16,446.30 L137.50,446.30 L137.50,460.50 L137.83,460.50 L137.83,451.26 L138.16,451.26 L138.16,467.97 L138.49,467.97 L138.49,472.80 L138.83,472.80 L138.83,459.69 L139.16,459.69 L139.16,466.46 L139.49,466.46 L139.49,454.52 L139.82,454.52 L139.82,466.80 L140.15,466.80 L140.15,455.36 L140.49,455.36 L140.49,454.67 L140.82,454.67 L140.82,457.61 L141.15,457.61 L141.15,455.69 L141.48,455.69 L141.48,446.47 L141.82,446.47 L141.82,457.51 L142.15,457.51 L142.15,457.57 L142.48,457.57 L142.48,446.19 L142.81,446.19 L142.81,443.53 L143.14,443.53 L143.14,443.53 L143.48,443.53 L143.48,445.50 L143.81,445.50 L143.81,446.93 L144.14,446.93 L144.14,458.53 L144.47,458.53 L144.47,463.38 L144.81,463.38 L144.81,462.50 L145.14,462.50 L145.14,458.05 L145.47,458.05 L145.47,457.87 L145.80,457.87 L145.80,455.53 L146.13,455.53 L146.13,455.53 L146.47,455.53 L146.47,456.76 L146.80,456.76 L146.80,469.08 L147.13,469.08 L147.13,470.15 L147.46,470.15 L147.46,457.73 L147.79,457.73 L147.79,471.72 L148.13,471.72 L148.13,461.92 L148.46,461.92 L148.46,470.85 L148.79,470.85 L148.79,461.70 L149.12,461.70 L149.12,462.48 L149.46,462.48 L149.46,466.29 L149.79,466.29 L149.79,462.25 L150.12,462.25 L150.12,454.08 L150.45,454.08 L150.45,454.05 L150.78,454.05 L150.78,454.05 L151.12,454.05 L151.12,456.21 L151.45,456.21 L151.45,466.52 L151.78,466.52 L151.78,468.46 L152.11,468.46 L152.11,465.31 L152.45,465.31 L152.45,470.81 L152.78,470.81 L152.78,478.07 L153.11,478.07 L153.11,476.20 L153.44,476.20 L153.44,476.15 L153.77,476.15 L153.77,476.15 L154.11,476.15 L154.11,484.89 L154.44,484.89 L154.44,480.26 L154.77,480.26 L154.77,478.10 L155.10,478.10 L155.10,481.73 L155.43,481.73 L155.43,482.53 L155.77,482.53 L155.77,482.50 L156.10,482.50 L156.10,488.77 L156.43,488.77 L156.43,472.56 L156.76,472.56 L156.76,464.55 L157.10,464.55 L157.10,472.72 L157.43,472.72 L157.43,453.96 L157.76,453.96 L157.76,456.98 L158.09,456.98 L158.09,457.17 L158.42,457.17 L158.42,465.50 L158.76,465.50 L158.76,453.79 L159.09,453.79 L159.09,449.74 L159.42,449.74 L159.42,443.98 L159.75,443.98 L159.75,455.02 L160.09,455.02 L160.09,452.85 L160.42,452.85 L160.42,439.15 L160.75,439.15 L160.75,437.99 L161.08,437.99 L161.08,437.96 L161.41,437.96 L161.41,437.96 L161.75,437.96 L161.75,441.11 L162.08,441.11 L162.08,439.01 L162.41,439.01 L162.41,455.45 L162.74,455.45 L162.74,446.92 L163.07,446.92 L163.07,454.14 L163.41,454.14 L163.41,458.99 L163.74,458.99 L163.74,468.36 L164.07,468.36 L164.07,458.74 L164.40,458.74 L164.40,458.38 L164.74,458.38 L164.74,459.00 L165.07,459.00 L165.07,464.19 L165.40,464.19 L165.40,452.68 L165.73,452.68 L165.73,450.68 L166.06,450.68 L166.06,453.91 L166.40,453.91 L166.40,461.83 L166.73,461.83 L166.73,454.03 L167.06,454.03 L167.06,448.77 L167.39,448.77 L167.39,443.77 L167.73,443.77 L167.73,442.00 L168.06,442.00 L168.06,448.86 L168.39,448.86 L168.39,442.15 L168.72,442.15 L168.72,440.61 L169.05,440.61 L169.05,443.44 L169.39,443.44 L169.39,443.88 L169.72,443.88 L169.72,453.87 L170.05,453.87 L170.05,455.00 L170.38,455.00 L170.38,459.98 L170.72,459.98 L170.72,452.54 L171.05,452.54 L171.05,468.37 L171.38,468.37 L171.38,456.33 L171.71,456.33 L171.71,466.61 L172.04,466.61 L172.04,463.43 L172.38,463.43 L172.38,465.72 L172.71,465.72 L172.71,472.93 L173.04,472.93 L173.04,460.38 L173.37,460.38 L173.37,464.17 L173.70,464.17 L173.70,463.86 L174.04,463.86 L174.04,459.32 L174.37,459.32 L174.37,459.05 L174.70,459.05 L174.70,459.05 L175.03,459.05 L175.03,461.28 L175.37,461.28 L175.37,460.23 L175.70,460.23 L175.70,460.21 L176.03,460.21 L176.03,460.26 L176.36,460.26 L176.36,459.78 L176.69,459.78 L176.69,463.55 L177.03,463.55 L177.03,472.88 L177.36,472.88 L177.36,470.65 L177.69,470.65 L177.69,472.91 L178.02,472.91 L178.02,481.55 L178.36,481.55 L178.36,477.92 L178.69,477.92 L178.69,476.91 L179.02,476.91 L179.02,476.91 L179.35,476.91 L179.35,478.30 L179.68,478.30 L179.68,478.69 L180.02,478.69 L180.02,485.07 L180.35,485.07 L180.35,483.76 L180.68,483.76 L180.68,488.49 L181.01,488.49 L181.01,482.66 L181.34,482.66 L181.34,486.30 L181.68,486.30 L181.68,485.53 L182.01,485.53 L182.01,476.34 L182.34,476.34 L182.34,473.96 L182.67,473.96 L182.67,476.15 L183.01,476.15 L183.01,468.09 L183.34,468.09 L183.34,454.59 L183.67,454.59 L183.67,464.42 L184.00,464.42 L184.00,449.77 L184.33,449.77 L184.33,452.79 L184.67,452.79 L184.67,444.49 L185.00,444.49 L185.00,443.65 L185.33,443.65 L185.33,442.79 L185.66,442.79 L185.66,451.91 L186.00,451.91 L186.00,440.16 L186.33,440.16 L186.33,454.15 L186.66,454.15 L186.66,438.14 L186.99,438.14 L186.99,438.14 L187.32,438.14 L187.32,441.35 L187.66,441.35 L187.66,448.12 L187.99,448.12 L187.99,445.56 L188.32,445.56 L188.32,449.80 L188.65,449.80 L188.65,457.22 L188.98,457.22 L188.98,459.65 L189.32,459.65 L189.32,474.00 L189.65,474.00 L189.65,465.08 L189.98,465.08 L189.98,466.69 L190.31,466.69 L190.31,468.92 L190.65,468.92 L190.65,474.04 L190.98,474.04 L190.98,471.46 L191.31,471.46 L191.31,469.31 L191.64,469.31 L191.64,474.82 L191.97,474.82 L191.97,461.34 L192.17,461.34 L192.17,508.70Z" fill="#1f77b4"/>
<rect x="28.3" y="431.6" width="171.79999999999998" height="79.89999999999998" fill="none" stroke="#b8b8b8" stroke-width="0.6"/>
<line x1="35.85" y1="511.5" x2="35.85" y2="513.1" stroke="#9a9a9a" stroke-width="0.5"/>
<text x="35.85" y="519.00" class="tk" text-anchor="middle">0</text>
<line x1="55.39" y1="511.5" x2="55.39" y2="513.1" stroke="#9a9a9a" stroke-width="0.5"/>
<text x="55.39" y="519.00" class="tk" text-anchor="middle">10</text>
<line x1="74.93" y1="511.5" x2="74.93" y2="513.1" stroke="#9a9a9a" stroke-width="0.5"/>
<text x="74.93" y="519.00" class="tk" text-anchor="middle">20</text>
<line x1="94.47" y1="511.5" x2="94.47" y2="513.1" stroke="#9a9a9a" stroke-width="0.5"/>
<text x="94.47" y="519.00" class="tk" text-anchor="middle">30</text>
<line x1="114.01" y1="511.5" x2="114.01" y2="513.1" stroke="#9a9a9a" stroke-width="0.5"/>
<text x="114.01" y="519.00" class="tk" text-anchor="middle">40</text>
<line x1="133.55" y1="511.5" x2="133.55" y2="513.1" stroke="#9a9a9a" stroke-width="0.5"/>
<text x="133.55" y="519.00" class="tk" text-anchor="middle">50</text>
<line x1="153.09" y1="511.5" x2="153.09" y2="513.1" stroke="#9a9a9a" stroke-width="0.5"/>
<text x="153.09" y="519.00" class="tk" text-anchor="middle">60</text>
<line x1="172.63" y1="511.5" x2="172.63" y2="513.1" stroke="#9a9a9a" stroke-width="0.5"/>
<text x="172.63" y="519.00" class="tk" text-anchor="middle">70</text>
<line x1="192.17" y1="511.5" x2="192.17" y2="513.1" stroke="#9a9a9a" stroke-width="0.5"/>
<text x="192.17" y="519.00" class="tk" text-anchor="middle">80</text>
<line x1="26.7" y1="508.70" x2="28.3" y2="508.70" stroke="#9a9a9a" stroke-width="0.5"/>
<text x="26.00" y="511.70" class="tk" text-anchor="end">0</text>
<line x1="26.7" y1="489.93" x2="28.3" y2="489.93" stroke="#9a9a9a" stroke-width="0.5"/>
<text x="26.00" y="492.93" class="tk" text-anchor="end">100</text>
<line x1="26.7" y1="471.16" x2="28.3" y2="471.16" stroke="#9a9a9a" stroke-width="0.5"/>
<text x="26.00" y="474.16" class="tk" text-anchor="end">200</text>
<line x1="26.7" y1="452.39" x2="28.3" y2="452.39" stroke="#9a9a9a" stroke-width="0.5"/>
<text x="26.00" y="455.39" class="tk" text-anchor="end">300</text>
<line x1="26.7" y1="433.62" x2="28.3" y2="433.62" stroke="#9a9a9a" stroke-width="0.5"/>
<text x="26.00" y="436.62" class="tk" text-anchor="end">400</text>
<text x="114.20" y="526.50" class="al xl" text-anchor="middle">Time [us]</text>
<text transform="translate(10.00,471.55) rotate(-90)" class="al" text-anchor="middle">Power consumption [mW]</text>
<text transform="translate(102.4,546.3) scale(1.115,1)" class="cap" text-anchor="middle">(<tspan class="b">g</tspan>) RMDAA architecture, key <tspan class="mono">k1</tspan></text>
<line x1="244.30" y1="432.3" x2="244.30" y2="511.5" stroke="#d4d4d4" stroke-width="0.5"/>
<line x1="263.85" y1="432.3" x2="263.85" y2="511.5" stroke="#d4d4d4" stroke-width="0.5"/>
<line x1="283.40" y1="432.3" x2="283.40" y2="511.5" stroke="#d4d4d4" stroke-width="0.5"/>
<line x1="302.95" y1="432.3" x2="302.95" y2="511.5" stroke="#d4d4d4" stroke-width="0.5"/>
<line x1="322.50" y1="432.3" x2="322.50" y2="511.5" stroke="#d4d4d4" stroke-width="0.5"/>
<line x1="342.05" y1="432.3" x2="342.05" y2="511.5" stroke="#d4d4d4" stroke-width="0.5"/>
<line x1="361.60" y1="432.3" x2="361.60" y2="511.5" stroke="#d4d4d4" stroke-width="0.5"/>
<line x1="381.15" y1="432.3" x2="381.15" y2="511.5" stroke="#d4d4d4" stroke-width="0.5"/>
<line x1="400.70" y1="432.3" x2="400.70" y2="511.5" stroke="#d4d4d4" stroke-width="0.5"/>
<line x1="236.2" y1="508.80" x2="408.8" y2="508.80" stroke="#d4d4d4" stroke-width="0.5"/>
<line x1="236.2" y1="489.85" x2="408.8" y2="489.85" stroke="#d4d4d4" stroke-width="0.5"/>
<line x1="236.2" y1="470.90" x2="408.8" y2="470.90" stroke="#d4d4d4" stroke-width="0.5"/>
<line x1="236.2" y1="451.95" x2="408.8" y2="451.95" stroke="#d4d4d4" stroke-width="0.5"/>
<line x1="236.2" y1="433.00" x2="408.8" y2="433.00" stroke="#d4d4d4" stroke-width="0.5"/>
<path d="M244.30,508.80 L244.30,491.97 L244.63,491.97 L244.63,490.57 L244.96,490.57 L244.96,488.38 L245.30,488.38 L245.30,488.42 L245.63,488.42 L245.63,488.37 L245.96,488.37 L245.96,488.26 L246.29,488.26 L246.29,488.47 L246.63,488.47 L246.63,480.68 L246.96,480.68 L246.96,481.37 L247.29,481.37 L247.29,484.61 L247.62,484.61 L247.62,480.54 L247.96,480.54 L247.96,478.50 L248.29,478.50 L248.29,475.73 L248.62,475.73 L248.62,480.90 L248.95,480.90 L248.95,474.33 L249.29,474.33 L249.29,474.33 L249.62,474.33 L249.62,476.35 L249.95,476.35 L249.95,479.92 L250.28,479.92 L250.28,486.16 L250.61,486.16 L250.61,488.02 L250.95,488.02 L250.95,485.87 L251.28,485.87 L251.28,487.00 L251.61,487.00 L251.61,484.04 L251.94,484.04 L251.94,483.26 L252.28,483.26 L252.28,481.24 L252.61,481.24 L252.61,477.26 L252.94,477.26 L252.94,482.57 L253.27,482.57 L253.27,478.62 L253.61,478.62 L253.61,480.28 L253.94,480.28 L253.94,481.09 L254.27,481.09 L254.27,480.84 L254.60,480.84 L254.60,474.86 L254.94,474.86 L254.94,474.49 L255.27,474.49 L255.27,476.14 L255.60,476.14 L255.60,481.55 L255.93,481.55 L255.93,478.52 L256.26,478.52 L256.26,478.52 L256.60,478.52 L256.60,477.39 L256.93,477.39 L256.93,477.76 L257.26,477.76 L257.26,481.65 L257.59,481.65 L257.59,483.52 L257.93,483.52 L257.93,487.58 L258.26,487.58 L258.26,486.95 L258.59,486.95 L258.59,484.97 L258.92,484.97 L258.92,484.84 L259.26,484.84 L259.26,480.22 L259.59,480.22 L259.59,477.04 L259.92,477.04 L259.92,478.50 L260.25,478.50 L260.25,475.74 L260.59,475.74 L260.59,474.28 L260.92,474.28 L260.92,475.72 L261.25,475.72 L261.25,476.46 L261.58,476.46 L261.58,477.04 L261.91,477.04 L261.91,475.05 L262.25,475.05 L262.25,474.99 L262.58,474.99 L262.58,484.93 L262.91,484.93 L262.91,480.15 L263.24,480.15 L263.24,479.17 L263.58,479.17 L263.58,484.50 L263.91,484.50 L263.91,485.82 L264.24,485.82 L264.24,486.22 L264.57,486.22 L264.57,482.69 L264.91,482.69 L264.91,465.07 L265.24,465.07 L265.24,461.40 L265.57,461.40 L265.57,454.56 L265.90,454.56 L265.90,450.67 L266.24,450.67 L266.24,448.11 L266.57,448.11 L266.57,448.32 L266.90,448.32 L266.90,447.15 L267.23,447.15 L267.23,447.10 L267.56,447.10 L267.56,446.62 L267.90,446.62 L267.90,445.58 L268.23,445.58 L268.23,445.58 L268.56,445.58 L268.56,448.04 L268.89,448.04 L268.89,463.30 L269.23,463.30 L269.23,464.81 L269.56,464.81 L269.56,469.74 L269.89,469.74 L269.89,473.10 L270.22,473.10 L270.22,479.81 L270.56,479.81 L270.56,471.41 L270.89,471.41 L270.89,471.68 L271.22,471.68 L271.22,463.00 L271.55,463.00 L271.55,472.71 L271.89,472.71 L271.89,473.35 L272.22,473.35 L272.22,452.19 L272.55,452.19 L272.55,448.13 L272.88,448.13 L272.88,452.15 L273.21,452.15 L273.21,450.37 L273.55,450.37 L273.55,445.49 L273.88,445.49 L273.88,442.77 L274.21,442.77 L274.21,443.13 L274.54,443.13 L274.54,444.92 L274.88,444.92 L274.88,458.40 L275.21,458.40 L275.21,448.77 L275.54,448.77 L275.54,460.91 L275.87,460.91 L275.87,447.70 L276.21,447.70 L276.21,462.54 L276.54,462.54 L276.54,455.16 L276.87,455.16 L276.87,467.35 L277.20,467.35 L277.20,461.28 L277.54,461.28 L277.54,461.42 L277.87,461.42 L277.87,466.41 L278.20,466.41 L278.20,459.21 L278.53,459.21 L278.53,460.43 L278.86,460.43 L278.86,468.97 L279.20,468.97 L279.20,458.80 L279.53,458.80 L279.53,458.31 L279.86,458.31 L279.86,466.97 L280.19,466.97 L280.19,459.00 L280.53,459.00 L280.53,456.52 L280.86,456.52 L280.86,456.52 L281.19,456.52 L281.19,459.23 L281.52,459.23 L281.52,464.77 L281.86,464.77 L281.86,471.40 L282.19,471.40 L282.19,464.82 L282.52,464.82 L282.52,460.17 L282.85,460.17 L282.85,454.98 L283.18,454.98 L283.18,454.87 L283.52,454.87 L283.52,456.40 L283.85,456.40 L283.85,457.29 L284.18,457.29 L284.18,465.19 L284.51,465.19 L284.51,460.84 L284.85,460.84 L284.85,473.72 L285.18,473.72 L285.18,481.11 L285.51,481.11 L285.51,483.15 L285.84,483.15 L285.84,481.99 L286.18,481.99 L286.18,480.21 L286.51,480.21 L286.51,478.08 L286.84,478.08 L286.84,486.67 L287.17,486.67 L287.17,481.94 L287.51,481.94 L287.51,485.99 L287.84,485.99 L287.84,482.08 L288.17,482.08 L288.17,483.48 L288.50,483.48 L288.50,469.50 L288.83,469.50 L288.83,462.93 L289.17,462.93 L289.17,462.02 L289.50,462.02 L289.50,456.64 L289.83,456.64 L289.83,455.62 L290.16,455.62 L290.16,455.62 L290.50,455.62 L290.50,458.74 L290.83,458.74 L290.83,466.80 L291.16,466.80 L291.16,469.98 L291.49,469.98 L291.49,470.90 L291.83,470.90 L291.83,457.96 L292.16,457.96 L292.16,459.24 L292.49,459.24 L292.49,461.18 L292.82,461.18 L292.82,460.06 L293.16,460.06 L293.16,460.70 L293.49,460.70 L293.49,450.98 L293.82,450.98 L293.82,449.23 L294.15,449.23 L294.15,450.39 L294.48,450.39 L294.48,456.50 L294.82,456.50 L294.82,461.55 L295.15,461.55 L295.15,467.68 L295.48,467.68 L295.48,475.80 L295.81,475.80 L295.81,470.38 L296.15,470.38 L296.15,471.71 L296.48,471.71 L296.48,472.31 L296.81,472.31 L296.81,469.26 L297.14,469.26 L297.14,455.17 L297.48,455.17 L297.48,449.92 L297.81,449.92 L297.81,464.61 L298.14,464.61 L298.14,456.53 L298.47,456.53 L298.47,460.94 L298.81,460.94 L298.81,455.71 L299.14,455.71 L299.14,451.00 L299.47,451.00 L299.47,457.77 L299.80,457.77 L299.80,453.71 L300.13,453.71 L300.13,446.78 L300.47,446.78 L300.47,444.65 L300.80,444.65 L300.80,444.65 L301.13,444.65 L301.13,445.62 L301.46,445.62 L301.46,454.33 L301.80,454.33 L301.80,449.76 L302.13,449.76 L302.13,463.97 L302.46,463.97 L302.46,459.74 L302.79,459.74 L302.79,464.52 L303.13,464.52 L303.13,462.84 L303.46,462.84 L303.46,464.51 L303.79,464.51 L303.79,468.61 L304.12,468.61 L304.12,462.60 L304.46,462.60 L304.46,462.75 L304.79,462.75 L304.79,465.78 L305.12,465.78 L305.12,462.81 L305.45,462.81 L305.45,471.94 L305.78,471.94 L305.78,472.45 L306.12,472.45 L306.12,468.10 L306.45,468.10 L306.45,457.15 L306.78,457.15 L306.78,471.44 L307.11,471.44 L307.11,466.26 L307.45,466.26 L307.45,456.18 L307.78,456.18 L307.78,455.75 L308.11,455.75 L308.11,455.75 L308.44,455.75 L308.44,458.37 L308.78,458.37 L308.78,460.59 L309.11,460.59 L309.11,469.18 L309.44,469.18 L309.44,470.82 L309.77,470.82 L309.77,484.44 L310.11,484.44 L310.11,477.17 L310.44,477.17 L310.44,476.30 L310.77,476.30 L310.77,476.96 L311.10,476.96 L311.10,483.93 L311.43,483.93 L311.43,476.92 L311.77,476.92 L311.77,478.06 L312.10,478.06 L312.10,484.28 L312.43,484.28 L312.43,482.89 L312.76,482.89 L312.76,485.84 L313.10,485.84 L313.10,484.19 L313.43,484.19 L313.43,473.10 L313.76,473.10 L313.76,474.54 L314.09,474.54 L314.09,461.13 L314.43,461.13 L314.43,455.87 L314.76,455.87 L314.76,456.31 L315.09,456.31 L315.09,453.12 L315.42,453.12 L315.42,453.56 L315.76,453.56 L315.76,457.98 L316.09,457.98 L316.09,470.04 L316.42,470.04 L316.42,456.69 L316.75,456.69 L316.75,463.50 L317.08,463.50 L317.08,458.85 L317.42,458.85 L317.42,446.53 L317.75,446.53 L317.75,461.26 L318.08,461.26 L318.08,442.39 L318.41,442.39 L318.41,450.14 L318.75,450.14 L318.75,444.55 L319.08,444.55 L319.08,439.69 L319.41,439.69 L319.41,437.63 L319.74,437.63 L319.74,439.51 L320.08,439.51 L320.08,459.55 L320.41,459.55 L320.41,444.81 L320.74,444.81 L320.74,458.16 L321.07,458.16 L321.07,453.55 L321.41,453.55 L321.41,464.01 L321.74,464.01 L321.74,460.66 L322.07,460.66 L322.07,459.30 L322.40,459.30 L322.40,463.58 L322.73,463.58 L322.73,447.79 L323.07,447.79 L323.07,450.52 L323.40,450.52 L323.40,445.67 L323.73,445.67 L323.73,447.43 L324.06,447.43 L324.06,444.88 L324.40,444.88 L324.40,444.88 L324.73,444.88 L324.73,448.12 L325.06,448.12 L325.06,455.00 L325.39,455.00 L325.39,463.23 L325.73,463.23 L325.73,459.54 L326.06,459.54 L326.06,456.52 L326.39,456.52 L326.39,461.53 L326.72,461.53 L326.72,461.76 L327.06,461.76 L327.06,457.81 L327.39,457.81 L327.39,458.07 L327.72,458.07 L327.72,454.37 L328.05,454.37 L328.05,453.80 L328.38,453.80 L328.38,453.80 L328.72,453.80 L328.72,454.76 L329.05,454.76 L329.05,464.17 L329.38,464.17 L329.38,458.34 L329.71,458.34 L329.71,464.41 L330.05,464.41 L330.05,470.07 L330.38,470.07 L330.38,459.37 L330.71,459.37 L330.71,457.59 L331.04,457.59 L331.04,458.42 L331.38,458.42 L331.38,464.55 L331.71,464.55 L331.71,462.52 L332.04,462.52 L332.04,467.12 L332.37,467.12 L332.37,459.04 L332.71,459.04 L332.71,465.19 L333.04,465.19 L333.04,458.43 L333.37,458.43 L333.37,456.97 L333.70,456.97 L333.70,456.97 L334.03,456.97 L334.03,460.32 L334.37,460.32 L334.37,467.31 L334.70,467.31 L334.70,475.09 L335.03,475.09 L335.03,468.00 L335.36,468.00 L335.36,479.42 L335.70,479.42 L335.70,476.47 L336.03,476.47 L336.03,475.15 L336.36,475.15 L336.36,475.67 L336.69,475.67 L336.69,475.52 L337.03,475.52 L337.03,476.99 L337.36,476.99 L337.36,484.20 L337.69,484.20 L337.69,481.37 L338.02,481.37 L338.02,481.90 L338.36,481.90 L338.36,482.70 L338.69,482.70 L338.69,481.25 L339.02,481.25 L339.02,482.11 L339.35,482.11 L339.35,478.69 L339.68,478.69 L339.68,466.59 L340.02,466.59 L340.02,464.05 L340.35,464.05 L340.35,457.54 L340.68,457.54 L340.68,456.65 L341.01,456.65 L341.01,453.59 L341.35,453.59 L341.35,461.43 L341.68,461.43 L341.68,460.31 L342.01,460.31 L342.01,455.32 L342.34,455.32 L342.34,446.77 L342.68,446.77 L342.68,455.23 L343.01,455.23 L343.01,436.65 L343.34,436.65 L343.34,451.13 L343.67,451.13 L343.67,435.12 L344.01,435.12 L344.01,436.49 L344.34,436.49 L344.34,432.21 L344.67,432.21 L344.67,432.21 L345.00,432.21 L345.00,436.44 L345.33,436.44 L345.33,437.46 L345.67,437.46 L345.67,454.61 L346.00,454.61 L346.00,460.40 L346.33,460.40 L346.33,454.33 L346.66,454.33 L346.66,463.37 L347.00,463.37 L347.00,467.35 L347.33,467.35 L347.33,460.18 L347.66,460.18 L347.66,469.27 L347.99,469.27 L347.99,459.50 L348.33,459.50 L348.33,466.42 L348.66,466.42 L348.66,454.68 L348.99,454.68 L348.99,456.59 L349.32,456.59 L349.32,454.00 L349.65,454.00 L349.65,448.08 L349.99,448.08 L349.99,455.82 L350.32,455.82 L350.32,459.28 L350.65,459.28 L350.65,463.09 L350.98,463.09 L350.98,447.79 L351.32,447.79 L351.32,446.17 L351.65,446.17 L351.65,446.17 L351.98,446.17 L351.98,449.16 L352.31,449.16 L352.31,458.34 L352.65,458.34 L352.65,450.50 L352.98,450.50 L352.98,464.05 L353.31,464.05 L353.31,467.14 L353.64,467.14 L353.64,466.69 L353.98,466.69 L353.98,466.23 L354.31,466.23 L354.31,470.34 L354.64,470.34 L354.64,463.84 L354.97,463.84 L354.97,472.13 L355.30,472.13 L355.30,466.20 L355.64,466.20 L355.64,459.27 L355.97,459.27 L355.97,469.57 L356.30,469.57 L356.30,472.60 L356.63,472.60 L356.63,460.52 L356.97,460.52 L356.97,460.82 L357.30,460.82 L357.30,469.55 L357.63,469.55 L357.63,470.19 L357.96,470.19 L357.96,470.02 L358.30,470.02 L358.30,462.85 L358.63,462.85 L358.63,456.52 L358.96,456.52 L358.96,456.52 L359.29,456.52 L359.29,459.21 L359.63,459.21 L359.63,471.92 L359.96,471.92 L359.96,472.98 L360.29,472.98 L360.29,474.31 L360.62,474.31 L360.62,476.39 L360.95,476.39 L360.95,476.56 L361.29,476.56 L361.29,475.04 L361.62,475.04 L361.62,475.04 L361.95,475.04 L361.95,476.02 L362.28,476.02 L362.28,482.84 L362.62,482.84 L362.62,478.05 L362.95,478.05 L362.95,484.25 L363.28,484.25 L363.28,481.95 L363.61,481.95 L363.61,481.99 L363.95,481.99 L363.95,486.25 L364.28,486.25 L364.28,489.25 L364.61,489.25 L364.61,480.80 L364.94,480.80 L364.94,479.12 L365.28,479.12 L365.28,465.12 L365.61,465.12 L365.61,463.12 L365.94,463.12 L365.94,460.22 L366.27,460.22 L366.27,462.76 L366.60,462.76 L366.60,459.34 L366.94,459.34 L366.94,449.50 L367.27,449.50 L367.27,448.69 L367.60,448.69 L367.60,446.02 L367.93,446.02 L367.93,458.98 L368.27,458.98 L368.27,453.78 L368.60,453.78 L368.60,446.36 L368.93,446.36 L368.93,444.22 L369.26,444.22 L369.26,442.35 L369.60,442.35 L369.60,440.79 L369.93,440.79 L369.93,440.79 L370.26,440.79 L370.26,441.17 L370.59,441.17 L370.59,444.97 L370.93,444.97 L370.93,443.94 L371.26,443.94 L371.26,452.77 L371.59,452.77 L371.59,458.57 L371.92,458.57 L371.92,463.00 L372.25,463.00 L372.25,465.88 L372.59,465.88 L372.59,468.74 L372.92,468.74 L372.92,461.07 L373.25,461.07 L373.25,461.55 L373.58,461.55 L373.58,457.02 L373.92,457.02 L373.92,452.56 L374.25,452.56 L374.25,453.31 L374.58,453.31 L374.58,452.53 L374.91,452.53 L374.91,457.67 L375.25,457.67 L375.25,447.28 L375.58,447.28 L375.58,461.60 L375.91,461.60 L375.91,456.75 L376.24,456.75 L376.24,461.76 L376.58,461.76 L376.58,446.97 L376.91,446.97 L376.91,444.69 L377.24,444.69 L377.24,444.69 L377.57,444.69 L377.57,445.13 L377.90,445.13 L377.90,453.84 L378.24,453.84 L378.24,459.17 L378.57,459.17 L378.57,458.36 L378.90,458.36 L378.90,456.78 L379.23,456.78 L379.23,460.44 L379.57,460.44 L379.57,468.97 L379.90,468.97 L379.90,463.14 L380.23,463.14 L380.23,470.35 L380.56,470.35 L380.56,463.88 L380.90,463.88 L380.90,467.62 L381.23,467.62 L381.23,464.26 L381.56,464.26 L381.56,461.12 L381.89,461.12 L381.89,472.22 L382.23,472.22 L382.23,472.53 L382.56,472.53 L382.56,468.15 L382.89,468.15 L382.89,459.74 L383.22,459.74 L383.22,458.52 L383.55,458.52 L383.55,454.59 L383.89,454.59 L383.89,454.49 L384.22,454.49 L384.22,453.48 L384.55,453.48 L384.55,453.48 L384.88,453.48 L384.88,455.95 L385.22,455.95 L385.22,456.76 L385.55,456.76 L385.55,466.09 L385.88,466.09 L385.88,475.15 L386.21,475.15 L386.21,483.17 L386.55,483.17 L386.55,479.42 L386.88,479.42 L386.88,474.69 L387.21,474.69 L387.21,474.03 L387.54,474.03 L387.54,474.07 L387.88,474.07 L387.88,479.81 L388.21,479.81 L388.21,482.02 L388.54,482.02 L388.54,481.04 L388.87,481.04 L388.87,477.93 L389.20,477.93 L389.20,487.83 L389.54,487.83 L389.54,488.91 L389.87,488.91 L389.87,486.35 L390.20,486.35 L390.20,484.68 L390.53,484.68 L390.53,475.76 L390.87,475.76 L390.87,467.95 L391.20,467.95 L391.20,454.19 L391.53,454.19 L391.53,452.96 L391.86,452.96 L391.86,455.49 L392.20,455.49 L392.20,446.36 L392.53,446.36 L392.53,460.09 L392.86,460.09 L392.86,445.39 L393.19,445.39 L393.19,450.08 L393.53,450.08 L393.53,458.15 L393.86,458.15 L393.86,445.39 L394.19,445.39 L394.19,444.66 L394.52,444.66 L394.52,449.60 L394.85,449.60 L394.85,439.36 L395.19,439.36 L395.19,439.23 L395.52,439.23 L395.52,439.23 L395.85,439.23 L395.85,441.75 L396.18,441.75 L396.18,451.79 L396.52,451.79 L396.52,450.27 L396.85,450.27 L396.85,451.17 L397.18,451.17 L397.18,459.27 L397.51,459.27 L397.51,462.32 L397.85,462.32 L397.85,470.13 L398.18,470.13 L398.18,467.83 L398.51,467.83 L398.51,466.57 L398.84,466.57 L398.84,472.68 L399.18,472.68 L399.18,471.88 L399.51,471.88 L399.51,469.22 L399.84,469.22 L399.84,462.30 L400.17,462.30 L400.17,462.14 L400.50,462.14 L400.50,464.36 L400.70,464.36 L400.70,508.80Z" fill="#1f77b4"/>
<rect x="236.2" y="432.3" width="172.60000000000002" height="79.19999999999999" fill="none" stroke="#b8b8b8" stroke-width="0.6"/>
<line x1="244.30" y1="511.5" x2="244.30" y2="513.1" stroke="#9a9a9a" stroke-width="0.5"/>
<text x="244.30" y="519.00" class="tk" text-anchor="middle">0</text>
<line x1="263.85" y1="511.5" x2="263.85" y2="513.1" stroke="#9a9a9a" stroke-width="0.5"/>
<text x="263.85" y="519.00" class="tk" text-anchor="middle">10</text>
<line x1="283.40" y1="511.5" x2="283.40" y2="513.1" stroke="#9a9a9a" stroke-width="0.5"/>
<text x="283.40" y="519.00" class="tk" text-anchor="middle">20</text>
<line x1="302.95" y1="511.5" x2="302.95" y2="513.1" stroke="#9a9a9a" stroke-width="0.5"/>
<text x="302.95" y="519.00" class="tk" text-anchor="middle">30</text>
<line x1="322.50" y1="511.5" x2="322.50" y2="513.1" stroke="#9a9a9a" stroke-width="0.5"/>
<text x="322.50" y="519.00" class="tk" text-anchor="middle">40</text>
<line x1="342.05" y1="511.5" x2="342.05" y2="513.1" stroke="#9a9a9a" stroke-width="0.5"/>
<text x="342.05" y="519.00" class="tk" text-anchor="middle">50</text>
<line x1="361.60" y1="511.5" x2="361.60" y2="513.1" stroke="#9a9a9a" stroke-width="0.5"/>
<text x="361.60" y="519.00" class="tk" text-anchor="middle">60</text>
<line x1="381.15" y1="511.5" x2="381.15" y2="513.1" stroke="#9a9a9a" stroke-width="0.5"/>
<text x="381.15" y="519.00" class="tk" text-anchor="middle">70</text>
<line x1="400.70" y1="511.5" x2="400.70" y2="513.1" stroke="#9a9a9a" stroke-width="0.5"/>
<text x="400.70" y="519.00" class="tk" text-anchor="middle">80</text>
<line x1="234.6" y1="508.80" x2="236.2" y2="508.80" stroke="#9a9a9a" stroke-width="0.5"/>
<text x="234.50" y="511.80" class="tk" text-anchor="end">0</text>
<line x1="234.6" y1="489.85" x2="236.2" y2="489.85" stroke="#9a9a9a" stroke-width="0.5"/>
<text x="234.50" y="492.85" class="tk" text-anchor="end">100</text>
<line x1="234.6" y1="470.90" x2="236.2" y2="470.90" stroke="#9a9a9a" stroke-width="0.5"/>
<text x="234.50" y="473.90" class="tk" text-anchor="end">200</text>
<line x1="234.6" y1="451.95" x2="236.2" y2="451.95" stroke="#9a9a9a" stroke-width="0.5"/>
<text x="234.50" y="454.95" class="tk" text-anchor="end">300</text>
<line x1="234.6" y1="433.00" x2="236.2" y2="433.00" stroke="#9a9a9a" stroke-width="0.5"/>
<text x="234.50" y="436.00" class="tk" text-anchor="end">400</text>
<text x="322.50" y="526.50" class="al xl" text-anchor="middle">Time [us]</text>
<text transform="translate(217.90,471.90) rotate(-90)" class="al" text-anchor="middle">Power consumption [mW]</text>
<text transform="translate(311.9,546.3) scale(1.115,1)" class="cap" text-anchor="middle">(<tspan class="b">h</tspan>) RMDAA architecture, key <tspan class="mono">k3</tspan></text>
</svg>
</body></html>
